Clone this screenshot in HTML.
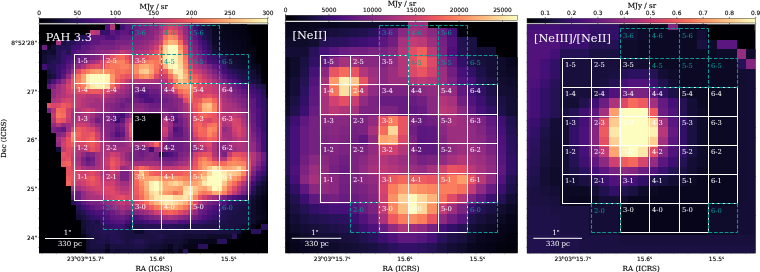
<!DOCTYPE html><html><head><meta charset="utf-8"><title>figure</title><style>html,body{margin:0;padding:0;background:#fff}svg{display:block;font-family:"DejaVu Serif","Liberation Serif",serif}</style></head><body>
<svg width="760" height="272" viewBox="0 0 760 272">
<rect width="760" height="272" fill="#fff"/>
<defs><linearGradient id="mg" x1="0" x2="1" y1="0" y2="0">
<stop offset="0.0000" stop-color="#000004"/>
<stop offset="0.0312" stop-color="#030312"/>
<stop offset="0.0625" stop-color="#0a0822"/>
<stop offset="0.0938" stop-color="#130d34"/>
<stop offset="0.1250" stop-color="#1d1147"/>
<stop offset="0.1562" stop-color="#29115a"/>
<stop offset="0.1875" stop-color="#36106b"/>
<stop offset="0.2188" stop-color="#440f76"/>
<stop offset="0.2500" stop-color="#51127c"/>
<stop offset="0.2812" stop-color="#5d177f"/>
<stop offset="0.3125" stop-color="#6a1c81"/>
<stop offset="0.3438" stop-color="#762181"/>
<stop offset="0.3750" stop-color="#832681"/>
<stop offset="0.4062" stop-color="#902a81"/>
<stop offset="0.4375" stop-color="#9c2e7f"/>
<stop offset="0.4688" stop-color="#aa337d"/>
<stop offset="0.5000" stop-color="#b73779"/>
<stop offset="0.5312" stop-color="#c43c75"/>
<stop offset="0.5625" stop-color="#d0416f"/>
<stop offset="0.5938" stop-color="#dc4869"/>
<stop offset="0.6250" stop-color="#e75263"/>
<stop offset="0.6562" stop-color="#ef5d5e"/>
<stop offset="0.6875" stop-color="#f56b5c"/>
<stop offset="0.7188" stop-color="#f9795d"/>
<stop offset="0.7500" stop-color="#fc8961"/>
<stop offset="0.7812" stop-color="#fd9869"/>
<stop offset="0.8125" stop-color="#fea772"/>
<stop offset="0.8438" stop-color="#feb67c"/>
<stop offset="0.8750" stop-color="#fec488"/>
<stop offset="0.9062" stop-color="#fed395"/>
<stop offset="0.9375" stop-color="#fde2a3"/>
<stop offset="0.9688" stop-color="#fcf0b2"/>
<stop offset="1.0000" stop-color="#fcfdbf"/>
</linearGradient></defs>
<clipPath id="cp1"><rect x="39" y="24.3" width="229" height="229"/></clipPath>
<rect x="39" y="24.3" width="229" height="229" fill="#000004"/>
<g clip-path="url(#cp1)" shape-rendering="crispEdges">
<rect x="105.03" y="20.75" width="5.17" height="5.15" fill="#4e117b"/>
<rect x="109.9" y="20.75" width="5.17" height="5.15" fill="#b3367a"/>
<rect x="114.77" y="20.75" width="5.17" height="5.15" fill="#03030f"/>
<rect x="119.64" y="20.75" width="5.17" height="5.15" fill="#420f75"/>
<rect x="124.51" y="20.75" width="10.04" height="5.15" fill="#5d177f"/>
<rect x="134.25" y="20.75" width="5.17" height="5.15" fill="#6d1d81"/>
<rect x="139.12" y="20.75" width="10.04" height="5.15" fill="#782281"/>
<rect x="148.86" y="20.75" width="5.17" height="5.15" fill="#832681"/>
<rect x="153.73" y="20.75" width="5.17" height="5.15" fill="#882781"/>
<rect x="158.6" y="20.75" width="5.17" height="5.15" fill="#a02f7f"/>
<rect x="163.47" y="20.75" width="5.17" height="5.15" fill="#c23b75"/>
<rect x="168.34" y="20.75" width="5.17" height="5.15" fill="#d6456c"/>
<rect x="173.21" y="20.75" width="5.17" height="5.15" fill="#cf4070"/>
<rect x="178.08" y="20.75" width="5.17" height="5.15" fill="#b3367a"/>
<rect x="182.95" y="20.75" width="5.17" height="5.15" fill="#912b81"/>
<rect x="187.82" y="20.75" width="5.17" height="5.15" fill="#6d1d81"/>
<rect x="192.69" y="20.75" width="5.17" height="5.15" fill="#420f75"/>
<rect x="197.56" y="20.75" width="5.17" height="5.15" fill="#251255"/>
<rect x="202.43" y="20.75" width="5.17" height="5.15" fill="#1a1042"/>
<rect x="207.3" y="20.75" width="5.17" height="5.15" fill="#140e36"/>
<rect x="212.17" y="20.75" width="5.17" height="5.15" fill="#08071e"/>
<rect x="217.04" y="20.75" width="5.17" height="5.15" fill="#07061c"/>
<rect x="221.91" y="20.75" width="10.04" height="5.15" fill="#060518"/>
<rect x="231.65" y="20.75" width="10.04" height="5.15" fill="#040414"/>
<rect x="241.39" y="20.75" width="5.17" height="5.15" fill="#030312"/>
<rect x="105.03" y="25.6" width="5.17" height="5.15" fill="#4e117b"/>
<rect x="109.9" y="25.6" width="5.17" height="5.15" fill="#b3367a"/>
<rect x="114.77" y="25.6" width="5.17" height="5.15" fill="#03030f"/>
<rect x="119.64" y="25.6" width="5.17" height="5.15" fill="#420f75"/>
<rect x="124.51" y="25.6" width="10.04" height="5.15" fill="#5d177f"/>
<rect x="134.25" y="25.6" width="5.17" height="5.15" fill="#6d1d81"/>
<rect x="139.12" y="25.6" width="10.04" height="5.15" fill="#782281"/>
<rect x="148.86" y="25.6" width="5.17" height="5.15" fill="#832681"/>
<rect x="153.73" y="25.6" width="5.17" height="5.15" fill="#882781"/>
<rect x="158.6" y="25.6" width="5.17" height="5.15" fill="#a02f7f"/>
<rect x="163.47" y="25.6" width="5.17" height="5.15" fill="#c23b75"/>
<rect x="168.34" y="25.6" width="5.17" height="5.15" fill="#d6456c"/>
<rect x="173.21" y="25.6" width="5.17" height="5.15" fill="#cf4070"/>
<rect x="178.08" y="25.6" width="5.17" height="5.15" fill="#b3367a"/>
<rect x="182.95" y="25.6" width="5.17" height="5.15" fill="#912b81"/>
<rect x="187.82" y="25.6" width="5.17" height="5.15" fill="#6d1d81"/>
<rect x="192.69" y="25.6" width="5.17" height="5.15" fill="#420f75"/>
<rect x="197.56" y="25.6" width="5.17" height="5.15" fill="#251255"/>
<rect x="202.43" y="25.6" width="5.17" height="5.15" fill="#1a1042"/>
<rect x="207.3" y="25.6" width="5.17" height="5.15" fill="#140e36"/>
<rect x="212.17" y="25.6" width="5.17" height="5.15" fill="#08071e"/>
<rect x="217.04" y="25.6" width="5.17" height="5.15" fill="#07061c"/>
<rect x="221.91" y="25.6" width="10.04" height="5.15" fill="#060518"/>
<rect x="231.65" y="25.6" width="10.04" height="5.15" fill="#040414"/>
<rect x="241.39" y="25.6" width="5.17" height="5.15" fill="#030312"/>
<rect x="90.42" y="30.45" width="5.17" height="5.15" fill="#c23b75"/>
<rect x="95.29" y="30.45" width="5.17" height="5.15" fill="#b3367a"/>
<rect x="100.16" y="30.45" width="10.04" height="5.15" fill="#36106b"/>
<rect x="109.9" y="30.45" width="5.17" height="5.15" fill="#5d177f"/>
<rect x="114.77" y="30.45" width="5.17" height="5.15" fill="#4e117b"/>
<rect x="119.64" y="30.45" width="10.04" height="5.15" fill="#5d177f"/>
<rect x="129.38" y="30.45" width="5.17" height="5.15" fill="#4e117b"/>
<rect x="134.25" y="30.45" width="5.17" height="5.15" fill="#6d1d81"/>
<rect x="139.12" y="30.45" width="10.04" height="5.15" fill="#782281"/>
<rect x="148.86" y="30.45" width="5.17" height="5.15" fill="#832681"/>
<rect x="153.73" y="30.45" width="5.17" height="5.15" fill="#912b81"/>
<rect x="158.6" y="30.45" width="5.17" height="5.15" fill="#aa337d"/>
<rect x="163.47" y="30.45" width="5.17" height="5.15" fill="#de4968"/>
<rect x="168.34" y="30.45" width="5.17" height="5.15" fill="#f2645c"/>
<rect x="173.21" y="30.45" width="5.17" height="5.15" fill="#e75263"/>
<rect x="178.08" y="30.45" width="5.17" height="5.15" fill="#c23b75"/>
<rect x="182.95" y="30.45" width="5.17" height="5.15" fill="#912b81"/>
<rect x="187.82" y="30.45" width="5.17" height="5.15" fill="#782281"/>
<rect x="192.69" y="30.45" width="5.17" height="5.15" fill="#4e117b"/>
<rect x="197.56" y="30.45" width="5.17" height="5.15" fill="#311165"/>
<rect x="202.43" y="30.45" width="5.17" height="5.15" fill="#1e1149"/>
<rect x="207.3" y="30.45" width="5.17" height="5.15" fill="#180f3d"/>
<rect x="212.17" y="30.45" width="5.17" height="5.15" fill="#0a0822"/>
<rect x="217.04" y="30.45" width="5.17" height="5.15" fill="#08071e"/>
<rect x="221.91" y="30.45" width="10.04" height="5.15" fill="#07061c"/>
<rect x="231.65" y="30.45" width="5.17" height="5.15" fill="#060518"/>
<rect x="236.52" y="30.45" width="10.04" height="5.15" fill="#040414"/>
<rect x="246.26" y="30.45" width="5.17" height="5.15" fill="#02020d"/>
<rect x="75.81" y="35.3" width="10.04" height="5.15" fill="#251255"/>
<rect x="85.55" y="35.3" width="5.17" height="5.15" fill="#36106b"/>
<rect x="90.42" y="35.3" width="14.91" height="5.15" fill="#5d177f"/>
<rect x="105.03" y="35.3" width="10.04" height="5.15" fill="#4e117b"/>
<rect x="114.77" y="35.3" width="5.17" height="5.15" fill="#5d177f"/>
<rect x="119.64" y="35.3" width="14.91" height="5.15" fill="#6d1d81"/>
<rect x="134.25" y="35.3" width="10.04" height="5.15" fill="#782281"/>
<rect x="143.99" y="35.3" width="5.17" height="5.15" fill="#832681"/>
<rect x="148.86" y="35.3" width="5.17" height="5.15" fill="#882781"/>
<rect x="153.73" y="35.3" width="5.17" height="5.15" fill="#a02f7f"/>
<rect x="158.6" y="35.3" width="5.17" height="5.15" fill="#c23b75"/>
<rect x="163.47" y="35.3" width="5.17" height="5.15" fill="#f56b5c"/>
<rect x="168.34" y="35.3" width="5.17" height="5.15" fill="#fc8e64"/>
<rect x="173.21" y="35.3" width="5.17" height="5.15" fill="#fa815f"/>
<rect x="178.08" y="35.3" width="5.17" height="5.15" fill="#d6456c"/>
<rect x="182.95" y="35.3" width="5.17" height="5.15" fill="#a02f7f"/>
<rect x="187.82" y="35.3" width="5.17" height="5.15" fill="#782281"/>
<rect x="192.69" y="35.3" width="5.17" height="5.15" fill="#5d177f"/>
<rect x="197.56" y="35.3" width="5.17" height="5.15" fill="#420f75"/>
<rect x="202.43" y="35.3" width="5.17" height="5.15" fill="#251255"/>
<rect x="207.3" y="35.3" width="5.17" height="5.15" fill="#1a1042"/>
<rect x="212.17" y="35.3" width="5.17" height="5.15" fill="#0c0926"/>
<rect x="217.04" y="35.3" width="5.17" height="5.15" fill="#0a0822"/>
<rect x="221.91" y="35.3" width="5.17" height="5.15" fill="#08071e"/>
<rect x="226.78" y="35.3" width="10.04" height="5.15" fill="#07061c"/>
<rect x="236.52" y="35.3" width="5.17" height="5.15" fill="#060518"/>
<rect x="241.39" y="35.3" width="5.17" height="5.15" fill="#040414"/>
<rect x="246.26" y="35.3" width="5.17" height="5.15" fill="#030312"/>
<rect x="51.46" y="40.15" width="5.17" height="5.15" fill="#06051a"/>
<rect x="56.33" y="40.15" width="5.17" height="5.15" fill="#aa337d"/>
<rect x="61.2" y="40.15" width="5.17" height="5.15" fill="#1a1042"/>
<rect x="66.07" y="40.15" width="10.04" height="5.15" fill="#251255"/>
<rect x="75.81" y="40.15" width="5.17" height="5.15" fill="#36106b"/>
<rect x="80.68" y="40.15" width="5.17" height="5.15" fill="#420f75"/>
<rect x="85.55" y="40.15" width="5.17" height="5.15" fill="#4e117b"/>
<rect x="90.42" y="40.15" width="10.04" height="5.15" fill="#5d177f"/>
<rect x="100.16" y="40.15" width="14.91" height="5.15" fill="#6d1d81"/>
<rect x="114.77" y="40.15" width="14.91" height="5.15" fill="#782281"/>
<rect x="129.38" y="40.15" width="10.04" height="5.15" fill="#832681"/>
<rect x="139.12" y="40.15" width="5.17" height="5.15" fill="#882781"/>
<rect x="143.99" y="40.15" width="5.17" height="5.15" fill="#912b81"/>
<rect x="148.86" y="40.15" width="5.17" height="5.15" fill="#a02f7f"/>
<rect x="153.73" y="40.15" width="5.17" height="5.15" fill="#b3367a"/>
<rect x="158.6" y="40.15" width="5.17" height="5.15" fill="#d6456c"/>
<rect x="163.47" y="40.15" width="5.17" height="5.15" fill="#fc8e64"/>
<rect x="168.34" y="40.15" width="5.17" height="5.15" fill="#feb77e"/>
<rect x="173.21" y="40.15" width="5.17" height="5.15" fill="#feae77"/>
<rect x="178.08" y="40.15" width="5.17" height="5.15" fill="#f56b5c"/>
<rect x="182.95" y="40.15" width="5.17" height="5.15" fill="#b3367a"/>
<rect x="187.82" y="40.15" width="5.17" height="5.15" fill="#882781"/>
<rect x="192.69" y="40.15" width="5.17" height="5.15" fill="#6d1d81"/>
<rect x="197.56" y="40.15" width="5.17" height="5.15" fill="#4e117b"/>
<rect x="202.43" y="40.15" width="5.17" height="5.15" fill="#36106b"/>
<rect x="207.3" y="40.15" width="5.17" height="5.15" fill="#21114e"/>
<rect x="212.17" y="40.15" width="5.17" height="5.15" fill="#0d0a29"/>
<rect x="217.04" y="40.15" width="5.17" height="5.15" fill="#0c0926"/>
<rect x="221.91" y="40.15" width="5.17" height="5.15" fill="#0a0822"/>
<rect x="226.78" y="40.15" width="5.17" height="5.15" fill="#08071e"/>
<rect x="231.65" y="40.15" width="10.04" height="5.15" fill="#07061c"/>
<rect x="241.39" y="40.15" width="5.17" height="5.15" fill="#060518"/>
<rect x="246.26" y="40.15" width="5.17" height="5.15" fill="#030312"/>
<rect x="36.85" y="45" width="5.17" height="5.15" fill="#06051a"/>
<rect x="41.72" y="45" width="5.17" height="5.15" fill="#6d1d81"/>
<rect x="46.59" y="45" width="5.17" height="5.15" fill="#06051a"/>
<rect x="51.46" y="45" width="5.17" height="5.15" fill="#140e36"/>
<rect x="56.33" y="45" width="14.91" height="5.15" fill="#251255"/>
<rect x="70.94" y="45" width="10.04" height="5.15" fill="#420f75"/>
<rect x="80.68" y="45" width="10.04" height="5.15" fill="#5d177f"/>
<rect x="90.42" y="45" width="5.17" height="5.15" fill="#6d1d81"/>
<rect x="95.29" y="45" width="19.78" height="5.15" fill="#782281"/>
<rect x="114.77" y="45" width="5.17" height="5.15" fill="#832681"/>
<rect x="119.64" y="45" width="19.78" height="5.15" fill="#912b81"/>
<rect x="139.12" y="45" width="5.17" height="5.15" fill="#962c80"/>
<rect x="143.99" y="45" width="5.17" height="5.15" fill="#a02f7f"/>
<rect x="148.86" y="45" width="5.17" height="5.15" fill="#b3367a"/>
<rect x="153.73" y="45" width="5.17" height="5.15" fill="#cf4070"/>
<rect x="158.6" y="45" width="5.17" height="5.15" fill="#f8765c"/>
<rect x="163.47" y="45" width="5.17" height="5.15" fill="#fed89a"/>
<rect x="168.34" y="45" width="10.04" height="5.15" fill="#fcfdbf"/>
<rect x="178.08" y="45" width="5.17" height="5.15" fill="#fd9869"/>
<rect x="182.95" y="45" width="5.17" height="5.15" fill="#e75263"/>
<rect x="187.82" y="45" width="5.17" height="5.15" fill="#912b81"/>
<rect x="192.69" y="45" width="5.17" height="5.15" fill="#782281"/>
<rect x="197.56" y="45" width="5.17" height="5.15" fill="#5d177f"/>
<rect x="202.43" y="45" width="5.17" height="5.15" fill="#420f75"/>
<rect x="207.3" y="45" width="5.17" height="5.15" fill="#2a115c"/>
<rect x="212.17" y="45" width="5.17" height="5.15" fill="#120d31"/>
<rect x="217.04" y="45" width="5.17" height="5.15" fill="#0d0a29"/>
<rect x="221.91" y="45" width="5.17" height="5.15" fill="#0c0926"/>
<rect x="226.78" y="45" width="5.17" height="5.15" fill="#0a0822"/>
<rect x="231.65" y="45" width="5.17" height="5.15" fill="#08071e"/>
<rect x="236.52" y="45" width="5.17" height="5.15" fill="#07061c"/>
<rect x="241.39" y="45" width="5.17" height="5.15" fill="#060518"/>
<rect x="246.26" y="45" width="5.17" height="5.15" fill="#040414"/>
<rect x="251.13" y="45" width="5.17" height="5.15" fill="#03030f"/>
<rect x="36.85" y="49.85" width="5.17" height="5.15" fill="#03030f"/>
<rect x="41.72" y="49.85" width="5.17" height="5.15" fill="#0e0b2b"/>
<rect x="46.59" y="49.85" width="5.17" height="5.15" fill="#140e36"/>
<rect x="51.46" y="49.85" width="5.17" height="5.15" fill="#0e0b2b"/>
<rect x="56.33" y="49.85" width="5.17" height="5.15" fill="#251255"/>
<rect x="61.2" y="49.85" width="5.17" height="5.15" fill="#36106b"/>
<rect x="66.07" y="49.85" width="5.17" height="5.15" fill="#251255"/>
<rect x="70.94" y="49.85" width="5.17" height="5.15" fill="#4e117b"/>
<rect x="75.81" y="49.85" width="10.04" height="5.15" fill="#5d177f"/>
<rect x="85.55" y="49.85" width="5.17" height="5.15" fill="#6d1d81"/>
<rect x="90.42" y="49.85" width="5.17" height="5.15" fill="#782281"/>
<rect x="95.29" y="49.85" width="5.17" height="5.15" fill="#832681"/>
<rect x="100.16" y="49.85" width="10.04" height="5.15" fill="#912b81"/>
<rect x="109.9" y="49.85" width="5.17" height="5.15" fill="#a02f7f"/>
<rect x="114.77" y="49.85" width="5.17" height="5.15" fill="#aa337d"/>
<rect x="119.64" y="49.85" width="5.17" height="5.15" fill="#c23b75"/>
<rect x="124.51" y="49.85" width="5.17" height="5.15" fill="#b3367a"/>
<rect x="129.38" y="49.85" width="5.17" height="5.15" fill="#aa337d"/>
<rect x="134.25" y="49.85" width="5.17" height="5.15" fill="#a02f7f"/>
<rect x="139.12" y="49.85" width="5.17" height="5.15" fill="#aa337d"/>
<rect x="143.99" y="49.85" width="5.17" height="5.15" fill="#b3367a"/>
<rect x="148.86" y="49.85" width="5.17" height="5.15" fill="#cf4070"/>
<rect x="153.73" y="49.85" width="5.17" height="5.15" fill="#e75263"/>
<rect x="158.6" y="49.85" width="5.17" height="5.15" fill="#fb8761"/>
<rect x="163.47" y="49.85" width="5.17" height="5.15" fill="#fed89a"/>
<rect x="168.34" y="49.85" width="10.04" height="5.15" fill="#fcfdbf"/>
<rect x="178.08" y="49.85" width="5.17" height="5.15" fill="#fea973"/>
<rect x="182.95" y="49.85" width="5.17" height="5.15" fill="#e75263"/>
<rect x="187.82" y="49.85" width="5.17" height="5.15" fill="#a02f7f"/>
<rect x="192.69" y="49.85" width="5.17" height="5.15" fill="#832681"/>
<rect x="197.56" y="49.85" width="5.17" height="5.15" fill="#6d1d81"/>
<rect x="202.43" y="49.85" width="5.17" height="5.15" fill="#4e117b"/>
<rect x="207.3" y="49.85" width="5.17" height="5.15" fill="#36106b"/>
<rect x="212.17" y="49.85" width="5.17" height="5.15" fill="#150e38"/>
<rect x="217.04" y="49.85" width="5.17" height="5.15" fill="#120d31"/>
<rect x="221.91" y="49.85" width="5.17" height="5.15" fill="#0d0a29"/>
<rect x="226.78" y="49.85" width="5.17" height="5.15" fill="#0c0926"/>
<rect x="231.65" y="49.85" width="5.17" height="5.15" fill="#0a0822"/>
<rect x="236.52" y="49.85" width="5.17" height="5.15" fill="#08071e"/>
<rect x="241.39" y="49.85" width="5.17" height="5.15" fill="#07061c"/>
<rect x="246.26" y="49.85" width="5.17" height="5.15" fill="#060518"/>
<rect x="251.13" y="49.85" width="5.17" height="5.15" fill="#050416"/>
<rect x="36.85" y="54.7" width="5.17" height="5.15" fill="#03030f"/>
<rect x="41.72" y="54.7" width="5.17" height="5.15" fill="#140e36"/>
<rect x="46.59" y="54.7" width="10.04" height="5.15" fill="#1a1042"/>
<rect x="56.33" y="54.7" width="5.17" height="5.15" fill="#251255"/>
<rect x="61.2" y="54.7" width="5.17" height="5.15" fill="#36106b"/>
<rect x="66.07" y="54.7" width="5.17" height="5.15" fill="#420f75"/>
<rect x="70.94" y="54.7" width="5.17" height="5.15" fill="#4e117b"/>
<rect x="75.81" y="54.7" width="5.17" height="5.15" fill="#5d177f"/>
<rect x="80.68" y="54.7" width="10.04" height="5.15" fill="#6d1d81"/>
<rect x="90.42" y="54.7" width="5.17" height="5.15" fill="#782281"/>
<rect x="95.29" y="54.7" width="5.17" height="5.15" fill="#832681"/>
<rect x="100.16" y="54.7" width="5.17" height="5.15" fill="#a02f7f"/>
<rect x="105.03" y="54.7" width="5.17" height="5.15" fill="#c23b75"/>
<rect x="109.9" y="54.7" width="5.17" height="5.15" fill="#e75263"/>
<rect x="114.77" y="54.7" width="5.17" height="5.15" fill="#f2645c"/>
<rect x="119.64" y="54.7" width="5.17" height="5.15" fill="#f56b5c"/>
<rect x="124.51" y="54.7" width="5.17" height="5.15" fill="#e75263"/>
<rect x="129.38" y="54.7" width="5.17" height="5.15" fill="#cf4070"/>
<rect x="134.25" y="54.7" width="5.17" height="5.15" fill="#c23b75"/>
<rect x="139.12" y="54.7" width="5.17" height="5.15" fill="#d6456c"/>
<rect x="143.99" y="54.7" width="5.17" height="5.15" fill="#e75263"/>
<rect x="148.86" y="54.7" width="5.17" height="5.15" fill="#f2645c"/>
<rect x="153.73" y="54.7" width="5.17" height="5.15" fill="#f56b5c"/>
<rect x="158.6" y="54.7" width="5.17" height="5.15" fill="#fd9869"/>
<rect x="163.47" y="54.7" width="5.17" height="5.15" fill="#fde7a9"/>
<rect x="168.34" y="54.7" width="5.17" height="5.15" fill="#fcfdbf"/>
<rect x="173.21" y="54.7" width="5.17" height="5.15" fill="#fcf4b6"/>
<rect x="178.08" y="54.7" width="5.17" height="5.15" fill="#fec68a"/>
<rect x="182.95" y="54.7" width="5.17" height="5.15" fill="#f8765c"/>
<rect x="187.82" y="54.7" width="5.17" height="5.15" fill="#b3367a"/>
<rect x="192.69" y="54.7" width="5.17" height="5.15" fill="#912b81"/>
<rect x="197.56" y="54.7" width="5.17" height="5.15" fill="#782281"/>
<rect x="202.43" y="54.7" width="5.17" height="5.15" fill="#5d177f"/>
<rect x="207.3" y="54.7" width="5.17" height="5.15" fill="#420f75"/>
<rect x="212.17" y="54.7" width="5.17" height="5.15" fill="#36106b"/>
<rect x="217.04" y="54.7" width="5.17" height="5.15" fill="#2a115c"/>
<rect x="221.91" y="54.7" width="5.17" height="5.15" fill="#21114e"/>
<rect x="226.78" y="54.7" width="5.17" height="5.15" fill="#130d34"/>
<rect x="231.65" y="54.7" width="5.17" height="5.15" fill="#110c2f"/>
<rect x="236.52" y="54.7" width="5.17" height="5.15" fill="#0e0b2b"/>
<rect x="241.39" y="54.7" width="5.17" height="5.15" fill="#0c0926"/>
<rect x="246.26" y="54.7" width="5.17" height="5.15" fill="#0a0822"/>
<rect x="251.13" y="54.7" width="5.17" height="5.15" fill="#050416"/>
<rect x="36.85" y="59.55" width="5.17" height="5.15" fill="#03030f"/>
<rect x="41.72" y="59.55" width="5.17" height="5.15" fill="#140e36"/>
<rect x="46.59" y="59.55" width="5.17" height="5.15" fill="#1e1149"/>
<rect x="51.46" y="59.55" width="10.04" height="5.15" fill="#251255"/>
<rect x="61.2" y="59.55" width="5.17" height="5.15" fill="#36106b"/>
<rect x="66.07" y="59.55" width="5.17" height="5.15" fill="#4e117b"/>
<rect x="70.94" y="59.55" width="5.17" height="5.15" fill="#5d177f"/>
<rect x="75.81" y="59.55" width="5.17" height="5.15" fill="#782281"/>
<rect x="80.68" y="59.55" width="5.17" height="5.15" fill="#832681"/>
<rect x="85.55" y="59.55" width="5.17" height="5.15" fill="#912b81"/>
<rect x="90.42" y="59.55" width="5.17" height="5.15" fill="#a02f7f"/>
<rect x="95.29" y="59.55" width="5.17" height="5.15" fill="#b3367a"/>
<rect x="100.16" y="59.55" width="5.17" height="5.15" fill="#d6456c"/>
<rect x="105.03" y="59.55" width="5.17" height="5.15" fill="#ee5b5e"/>
<rect x="109.9" y="59.55" width="5.17" height="5.15" fill="#f8765c"/>
<rect x="114.77" y="59.55" width="10.04" height="5.15" fill="#fa815f"/>
<rect x="124.51" y="59.55" width="5.17" height="5.15" fill="#f2645c"/>
<rect x="129.38" y="59.55" width="5.17" height="5.15" fill="#de4968"/>
<rect x="134.25" y="59.55" width="5.17" height="5.15" fill="#d6456c"/>
<rect x="139.12" y="59.55" width="5.17" height="5.15" fill="#ee5b5e"/>
<rect x="143.99" y="59.55" width="5.17" height="5.15" fill="#f8765c"/>
<rect x="148.86" y="59.55" width="5.17" height="5.15" fill="#fa815f"/>
<rect x="153.73" y="59.55" width="5.17" height="5.15" fill="#f8765c"/>
<rect x="158.6" y="59.55" width="5.17" height="5.15" fill="#fc8e64"/>
<rect x="163.47" y="59.55" width="5.17" height="5.15" fill="#fde7a9"/>
<rect x="168.34" y="59.55" width="5.17" height="5.15" fill="#fcfdbf"/>
<rect x="173.21" y="59.55" width="5.17" height="5.15" fill="#fcf4b6"/>
<rect x="178.08" y="59.55" width="5.17" height="5.15" fill="#fecf92"/>
<rect x="182.95" y="59.55" width="5.17" height="5.15" fill="#fa815f"/>
<rect x="187.82" y="59.55" width="5.17" height="5.15" fill="#c23b75"/>
<rect x="192.69" y="59.55" width="5.17" height="5.15" fill="#a02f7f"/>
<rect x="197.56" y="59.55" width="5.17" height="5.15" fill="#832681"/>
<rect x="202.43" y="59.55" width="5.17" height="5.15" fill="#6d1d81"/>
<rect x="207.3" y="59.55" width="5.17" height="5.15" fill="#4e117b"/>
<rect x="212.17" y="59.55" width="5.17" height="5.15" fill="#420f75"/>
<rect x="217.04" y="59.55" width="5.17" height="5.15" fill="#36106b"/>
<rect x="221.91" y="59.55" width="5.17" height="5.15" fill="#251255"/>
<rect x="226.78" y="59.55" width="5.17" height="5.15" fill="#150e38"/>
<rect x="231.65" y="59.55" width="5.17" height="5.15" fill="#130d34"/>
<rect x="236.52" y="59.55" width="5.17" height="5.15" fill="#110c2f"/>
<rect x="241.39" y="59.55" width="5.17" height="5.15" fill="#0e0b2b"/>
<rect x="246.26" y="59.55" width="5.17" height="5.15" fill="#0c0926"/>
<rect x="251.13" y="59.55" width="5.17" height="5.15" fill="#06051a"/>
<rect x="256" y="59.55" width="5.17" height="5.15" fill="#02020b"/>
<rect x="41.72" y="64.4" width="5.17" height="5.15" fill="#420f75"/>
<rect x="46.59" y="64.4" width="10.04" height="5.15" fill="#251255"/>
<rect x="56.33" y="64.4" width="5.17" height="5.15" fill="#36106b"/>
<rect x="61.2" y="64.4" width="5.17" height="5.15" fill="#420f75"/>
<rect x="66.07" y="64.4" width="5.17" height="5.15" fill="#5d177f"/>
<rect x="70.94" y="64.4" width="5.17" height="5.15" fill="#782281"/>
<rect x="75.81" y="64.4" width="5.17" height="5.15" fill="#912b81"/>
<rect x="80.68" y="64.4" width="5.17" height="5.15" fill="#aa337d"/>
<rect x="85.55" y="64.4" width="5.17" height="5.15" fill="#cf4070"/>
<rect x="90.42" y="64.4" width="5.17" height="5.15" fill="#de4968"/>
<rect x="95.29" y="64.4" width="5.17" height="5.15" fill="#e75263"/>
<rect x="100.16" y="64.4" width="5.17" height="5.15" fill="#de4968"/>
<rect x="105.03" y="64.4" width="5.17" height="5.15" fill="#f56b5c"/>
<rect x="109.9" y="64.4" width="10.04" height="5.15" fill="#f8765c"/>
<rect x="119.64" y="64.4" width="10.04" height="5.15" fill="#fa815f"/>
<rect x="129.38" y="64.4" width="5.17" height="5.15" fill="#f56b5c"/>
<rect x="134.25" y="64.4" width="5.17" height="5.15" fill="#fb8761"/>
<rect x="139.12" y="64.4" width="5.17" height="5.15" fill="#fea973"/>
<rect x="143.99" y="64.4" width="5.17" height="5.15" fill="#feae77"/>
<rect x="148.86" y="64.4" width="5.17" height="5.15" fill="#fd9869"/>
<rect x="153.73" y="64.4" width="5.17" height="5.15" fill="#f8765c"/>
<rect x="158.6" y="64.4" width="5.17" height="5.15" fill="#f2645c"/>
<rect x="163.47" y="64.4" width="5.17" height="5.15" fill="#feb77e"/>
<rect x="168.34" y="64.4" width="5.17" height="5.15" fill="#fcf4b6"/>
<rect x="173.21" y="64.4" width="5.17" height="5.15" fill="#fcfdbf"/>
<rect x="178.08" y="64.4" width="5.17" height="5.15" fill="#fed89a"/>
<rect x="182.95" y="64.4" width="5.17" height="5.15" fill="#fc8e64"/>
<rect x="187.82" y="64.4" width="5.17" height="5.15" fill="#d6456c"/>
<rect x="192.69" y="64.4" width="5.17" height="5.15" fill="#b3367a"/>
<rect x="197.56" y="64.4" width="5.17" height="5.15" fill="#a02f7f"/>
<rect x="202.43" y="64.4" width="5.17" height="5.15" fill="#912b81"/>
<rect x="207.3" y="64.4" width="5.17" height="5.15" fill="#782281"/>
<rect x="212.17" y="64.4" width="5.17" height="5.15" fill="#5d177f"/>
<rect x="217.04" y="64.4" width="5.17" height="5.15" fill="#4e117b"/>
<rect x="221.91" y="64.4" width="5.17" height="5.15" fill="#36106b"/>
<rect x="226.78" y="64.4" width="5.17" height="5.15" fill="#1a1042"/>
<rect x="231.65" y="64.4" width="5.17" height="5.15" fill="#180f3d"/>
<rect x="236.52" y="64.4" width="5.17" height="5.15" fill="#130d34"/>
<rect x="241.39" y="64.4" width="5.17" height="5.15" fill="#110c2f"/>
<rect x="246.26" y="64.4" width="5.17" height="5.15" fill="#0e0b2b"/>
<rect x="251.13" y="64.4" width="5.17" height="5.15" fill="#0a0822"/>
<rect x="256" y="64.4" width="5.17" height="5.15" fill="#06051a"/>
<rect x="46.59" y="69.25" width="5.17" height="5.15" fill="#1a1042"/>
<rect x="51.46" y="69.25" width="5.17" height="5.15" fill="#251255"/>
<rect x="56.33" y="69.25" width="5.17" height="5.15" fill="#36106b"/>
<rect x="61.2" y="69.25" width="5.17" height="5.15" fill="#4e117b"/>
<rect x="66.07" y="69.25" width="5.17" height="5.15" fill="#6d1d81"/>
<rect x="70.94" y="69.25" width="5.17" height="5.15" fill="#a02f7f"/>
<rect x="75.81" y="69.25" width="5.17" height="5.15" fill="#de4968"/>
<rect x="80.68" y="69.25" width="5.17" height="5.15" fill="#f56b5c"/>
<rect x="85.55" y="69.25" width="5.17" height="5.15" fill="#fa815f"/>
<rect x="90.42" y="69.25" width="5.17" height="5.15" fill="#fd9869"/>
<rect x="95.29" y="69.25" width="5.17" height="5.15" fill="#fea36f"/>
<rect x="100.16" y="69.25" width="5.17" height="5.15" fill="#fd9869"/>
<rect x="105.03" y="69.25" width="5.17" height="5.15" fill="#fc8e64"/>
<rect x="109.9" y="69.25" width="5.17" height="5.15" fill="#fa815f"/>
<rect x="114.77" y="69.25" width="5.17" height="5.15" fill="#f56b5c"/>
<rect x="119.64" y="69.25" width="5.17" height="5.15" fill="#f8765c"/>
<rect x="124.51" y="69.25" width="5.17" height="5.15" fill="#f56b5c"/>
<rect x="129.38" y="69.25" width="5.17" height="5.15" fill="#f2645c"/>
<rect x="134.25" y="69.25" width="5.17" height="5.15" fill="#fc8e64"/>
<rect x="139.12" y="69.25" width="5.17" height="5.15" fill="#fec68a"/>
<rect x="143.99" y="69.25" width="5.17" height="5.15" fill="#fecf92"/>
<rect x="148.86" y="69.25" width="5.17" height="5.15" fill="#fea36f"/>
<rect x="153.73" y="69.25" width="5.17" height="5.15" fill="#f56b5c"/>
<rect x="158.6" y="69.25" width="5.17" height="5.15" fill="#de4968"/>
<rect x="163.47" y="69.25" width="5.17" height="5.15" fill="#ee5b5e"/>
<rect x="168.34" y="69.25" width="5.17" height="5.15" fill="#fea973"/>
<rect x="173.21" y="69.25" width="5.17" height="5.15" fill="#fcf0b2"/>
<rect x="178.08" y="69.25" width="5.17" height="5.15" fill="#fde7a9"/>
<rect x="182.95" y="69.25" width="5.17" height="5.15" fill="#fea36f"/>
<rect x="187.82" y="69.25" width="5.17" height="5.15" fill="#ee5b5e"/>
<rect x="192.69" y="69.25" width="5.17" height="5.15" fill="#cf4070"/>
<rect x="197.56" y="69.25" width="5.17" height="5.15" fill="#c23b75"/>
<rect x="202.43" y="69.25" width="5.17" height="5.15" fill="#aa337d"/>
<rect x="207.3" y="69.25" width="5.17" height="5.15" fill="#912b81"/>
<rect x="212.17" y="69.25" width="5.17" height="5.15" fill="#782281"/>
<rect x="217.04" y="69.25" width="5.17" height="5.15" fill="#5d177f"/>
<rect x="221.91" y="69.25" width="5.17" height="5.15" fill="#420f75"/>
<rect x="226.78" y="69.25" width="5.17" height="5.15" fill="#311165"/>
<rect x="231.65" y="69.25" width="5.17" height="5.15" fill="#251255"/>
<rect x="236.52" y="69.25" width="5.17" height="5.15" fill="#1e1149"/>
<rect x="241.39" y="69.25" width="5.17" height="5.15" fill="#1a1042"/>
<rect x="246.26" y="69.25" width="5.17" height="5.15" fill="#180f3d"/>
<rect x="251.13" y="69.25" width="5.17" height="5.15" fill="#120d31"/>
<rect x="256" y="69.25" width="5.17" height="5.15" fill="#090720"/>
<rect x="46.59" y="74.1" width="5.17" height="5.15" fill="#140e36"/>
<rect x="51.46" y="74.1" width="5.17" height="5.15" fill="#1a1042"/>
<rect x="56.33" y="74.1" width="5.17" height="5.15" fill="#36106b"/>
<rect x="61.2" y="74.1" width="5.17" height="5.15" fill="#5d177f"/>
<rect x="66.07" y="74.1" width="5.17" height="5.15" fill="#912b81"/>
<rect x="70.94" y="74.1" width="5.17" height="5.15" fill="#de4968"/>
<rect x="75.81" y="74.1" width="5.17" height="5.15" fill="#f8765c"/>
<rect x="80.68" y="74.1" width="5.17" height="5.15" fill="#fea36f"/>
<rect x="85.55" y="74.1" width="5.17" height="5.15" fill="#fcf0b2"/>
<rect x="90.42" y="74.1" width="14.91" height="5.15" fill="#fcfdbf"/>
<rect x="105.03" y="74.1" width="5.17" height="5.15" fill="#fcf4b6"/>
<rect x="109.9" y="74.1" width="5.17" height="5.15" fill="#fd9869"/>
<rect x="114.77" y="74.1" width="5.17" height="5.15" fill="#f56b5c"/>
<rect x="119.64" y="74.1" width="5.17" height="5.15" fill="#ee5b5e"/>
<rect x="124.51" y="74.1" width="10.04" height="5.15" fill="#e75263"/>
<rect x="134.25" y="74.1" width="5.17" height="5.15" fill="#f56b5c"/>
<rect x="139.12" y="74.1" width="5.17" height="5.15" fill="#fc8e64"/>
<rect x="143.99" y="74.1" width="5.17" height="5.15" fill="#fd9869"/>
<rect x="148.86" y="74.1" width="5.17" height="5.15" fill="#fa815f"/>
<rect x="153.73" y="74.1" width="5.17" height="5.15" fill="#de4968"/>
<rect x="158.6" y="74.1" width="5.17" height="5.15" fill="#c23b75"/>
<rect x="163.47" y="74.1" width="5.17" height="5.15" fill="#cf4070"/>
<rect x="168.34" y="74.1" width="5.17" height="5.15" fill="#f56b5c"/>
<rect x="173.21" y="74.1" width="5.17" height="5.15" fill="#feae77"/>
<rect x="178.08" y="74.1" width="5.17" height="5.15" fill="#fde7a9"/>
<rect x="182.95" y="74.1" width="5.17" height="5.15" fill="#feb77e"/>
<rect x="187.82" y="74.1" width="5.17" height="5.15" fill="#f56b5c"/>
<rect x="192.69" y="74.1" width="5.17" height="5.15" fill="#ee5b5e"/>
<rect x="197.56" y="74.1" width="5.17" height="5.15" fill="#de4968"/>
<rect x="202.43" y="74.1" width="5.17" height="5.15" fill="#c23b75"/>
<rect x="207.3" y="74.1" width="5.17" height="5.15" fill="#aa337d"/>
<rect x="212.17" y="74.1" width="5.17" height="5.15" fill="#912b81"/>
<rect x="217.04" y="74.1" width="5.17" height="5.15" fill="#782281"/>
<rect x="221.91" y="74.1" width="5.17" height="5.15" fill="#5d177f"/>
<rect x="226.78" y="74.1" width="5.17" height="5.15" fill="#420f75"/>
<rect x="231.65" y="74.1" width="5.17" height="5.15" fill="#36106b"/>
<rect x="236.52" y="74.1" width="5.17" height="5.15" fill="#251255"/>
<rect x="241.39" y="74.1" width="5.17" height="5.15" fill="#1e1149"/>
<rect x="246.26" y="74.1" width="5.17" height="5.15" fill="#1a1042"/>
<rect x="251.13" y="74.1" width="5.17" height="5.15" fill="#140e36"/>
<rect x="256" y="74.1" width="5.17" height="5.15" fill="#0e0b2b"/>
<rect x="46.59" y="78.95" width="5.17" height="5.15" fill="#251255"/>
<rect x="51.46" y="78.95" width="5.17" height="5.15" fill="#4e117b"/>
<rect x="56.33" y="78.95" width="5.17" height="5.15" fill="#6d1d81"/>
<rect x="61.2" y="78.95" width="5.17" height="5.15" fill="#912b81"/>
<rect x="66.07" y="78.95" width="5.17" height="5.15" fill="#c23b75"/>
<rect x="70.94" y="78.95" width="5.17" height="5.15" fill="#ee5b5e"/>
<rect x="75.81" y="78.95" width="5.17" height="5.15" fill="#fa815f"/>
<rect x="80.68" y="78.95" width="5.17" height="5.15" fill="#fea973"/>
<rect x="85.55" y="78.95" width="5.17" height="5.15" fill="#fcf0b2"/>
<rect x="90.42" y="78.95" width="14.91" height="5.15" fill="#fcfdbf"/>
<rect x="105.03" y="78.95" width="5.17" height="5.15" fill="#fcf4b6"/>
<rect x="109.9" y="78.95" width="5.17" height="5.15" fill="#fd9869"/>
<rect x="114.77" y="78.95" width="5.17" height="5.15" fill="#ee5b5e"/>
<rect x="119.64" y="78.95" width="5.17" height="5.15" fill="#de4968"/>
<rect x="124.51" y="78.95" width="5.17" height="5.15" fill="#c23b75"/>
<rect x="129.38" y="78.95" width="24.65" height="5.15" fill="#b3367a"/>
<rect x="153.73" y="78.95" width="5.17" height="5.15" fill="#aa337d"/>
<rect x="158.6" y="78.95" width="5.17" height="5.15" fill="#a02f7f"/>
<rect x="163.47" y="78.95" width="5.17" height="5.15" fill="#b3367a"/>
<rect x="168.34" y="78.95" width="5.17" height="5.15" fill="#de4968"/>
<rect x="173.21" y="78.95" width="5.17" height="5.15" fill="#fb8761"/>
<rect x="178.08" y="78.95" width="5.17" height="5.15" fill="#fec68a"/>
<rect x="182.95" y="78.95" width="5.17" height="5.15" fill="#feae77"/>
<rect x="187.82" y="78.95" width="5.17" height="5.15" fill="#fa815f"/>
<rect x="192.69" y="78.95" width="5.17" height="5.15" fill="#f56b5c"/>
<rect x="197.56" y="78.95" width="5.17" height="5.15" fill="#e75263"/>
<rect x="202.43" y="78.95" width="5.17" height="5.15" fill="#d6456c"/>
<rect x="207.3" y="78.95" width="5.17" height="5.15" fill="#c23b75"/>
<rect x="212.17" y="78.95" width="5.17" height="5.15" fill="#aa337d"/>
<rect x="217.04" y="78.95" width="5.17" height="5.15" fill="#912b81"/>
<rect x="221.91" y="78.95" width="5.17" height="5.15" fill="#782281"/>
<rect x="226.78" y="78.95" width="5.17" height="5.15" fill="#5d177f"/>
<rect x="231.65" y="78.95" width="5.17" height="5.15" fill="#4e117b"/>
<rect x="236.52" y="78.95" width="5.17" height="5.15" fill="#36106b"/>
<rect x="241.39" y="78.95" width="5.17" height="5.15" fill="#251255"/>
<rect x="246.26" y="78.95" width="5.17" height="5.15" fill="#21114e"/>
<rect x="251.13" y="78.95" width="5.17" height="5.15" fill="#1a1042"/>
<rect x="256" y="78.95" width="5.17" height="5.15" fill="#140e36"/>
<rect x="260.87" y="78.95" width="5.17" height="5.15" fill="#03030f"/>
<rect x="46.59" y="83.8" width="5.17" height="5.15" fill="#5d177f"/>
<rect x="51.46" y="83.8" width="5.17" height="5.15" fill="#782281"/>
<rect x="56.33" y="83.8" width="5.17" height="5.15" fill="#a02f7f"/>
<rect x="61.2" y="83.8" width="5.17" height="5.15" fill="#b3367a"/>
<rect x="66.07" y="83.8" width="5.17" height="5.15" fill="#d6456c"/>
<rect x="70.94" y="83.8" width="5.17" height="5.15" fill="#ee5b5e"/>
<rect x="75.81" y="83.8" width="5.17" height="5.15" fill="#f56b5c"/>
<rect x="80.68" y="83.8" width="5.17" height="5.15" fill="#fa815f"/>
<rect x="85.55" y="83.8" width="5.17" height="5.15" fill="#fec68a"/>
<rect x="90.42" y="83.8" width="5.17" height="5.15" fill="#fde7a9"/>
<rect x="95.29" y="83.8" width="5.17" height="5.15" fill="#fcf4b6"/>
<rect x="100.16" y="83.8" width="5.17" height="5.15" fill="#fcf0b2"/>
<rect x="105.03" y="83.8" width="5.17" height="5.15" fill="#fed89a"/>
<rect x="109.9" y="83.8" width="5.17" height="5.15" fill="#f56b5c"/>
<rect x="114.77" y="83.8" width="5.17" height="5.15" fill="#d6456c"/>
<rect x="119.64" y="83.8" width="5.17" height="5.15" fill="#b3367a"/>
<rect x="124.51" y="83.8" width="5.17" height="5.15" fill="#a02f7f"/>
<rect x="129.38" y="83.8" width="5.17" height="5.15" fill="#912b81"/>
<rect x="134.25" y="83.8" width="5.17" height="5.15" fill="#832681"/>
<rect x="139.12" y="83.8" width="10.04" height="5.15" fill="#782281"/>
<rect x="148.86" y="83.8" width="10.04" height="5.15" fill="#832681"/>
<rect x="158.6" y="83.8" width="5.17" height="5.15" fill="#912b81"/>
<rect x="163.47" y="83.8" width="5.17" height="5.15" fill="#aa337d"/>
<rect x="168.34" y="83.8" width="5.17" height="5.15" fill="#c23b75"/>
<rect x="173.21" y="83.8" width="5.17" height="5.15" fill="#f8765c"/>
<rect x="178.08" y="83.8" width="5.17" height="5.15" fill="#fd9869"/>
<rect x="182.95" y="83.8" width="5.17" height="5.15" fill="#fea36f"/>
<rect x="187.82" y="83.8" width="5.17" height="5.15" fill="#fd9869"/>
<rect x="192.69" y="83.8" width="5.17" height="5.15" fill="#ee5b5e"/>
<rect x="197.56" y="83.8" width="5.17" height="5.15" fill="#de4968"/>
<rect x="202.43" y="83.8" width="5.17" height="5.15" fill="#d6456c"/>
<rect x="207.3" y="83.8" width="5.17" height="5.15" fill="#cf4070"/>
<rect x="212.17" y="83.8" width="5.17" height="5.15" fill="#c23b75"/>
<rect x="217.04" y="83.8" width="5.17" height="5.15" fill="#b3367a"/>
<rect x="221.91" y="83.8" width="5.17" height="5.15" fill="#a02f7f"/>
<rect x="226.78" y="83.8" width="5.17" height="5.15" fill="#832681"/>
<rect x="231.65" y="83.8" width="5.17" height="5.15" fill="#6d1d81"/>
<rect x="236.52" y="83.8" width="5.17" height="5.15" fill="#5d177f"/>
<rect x="241.39" y="83.8" width="5.17" height="5.15" fill="#4e117b"/>
<rect x="246.26" y="83.8" width="5.17" height="5.15" fill="#420f75"/>
<rect x="251.13" y="83.8" width="5.17" height="5.15" fill="#36106b"/>
<rect x="256" y="83.8" width="5.17" height="5.15" fill="#251255"/>
<rect x="260.87" y="83.8" width="5.17" height="5.15" fill="#1a1042"/>
<rect x="51.46" y="88.65" width="5.17" height="5.15" fill="#912b81"/>
<rect x="56.33" y="88.65" width="5.17" height="5.15" fill="#a02f7f"/>
<rect x="61.2" y="88.65" width="5.17" height="5.15" fill="#b3367a"/>
<rect x="66.07" y="88.65" width="5.17" height="5.15" fill="#cf4070"/>
<rect x="70.94" y="88.65" width="10.04" height="5.15" fill="#de4968"/>
<rect x="80.68" y="88.65" width="10.04" height="5.15" fill="#e75263"/>
<rect x="90.42" y="88.65" width="10.04" height="5.15" fill="#ee5b5e"/>
<rect x="100.16" y="88.65" width="5.17" height="5.15" fill="#e75263"/>
<rect x="105.03" y="88.65" width="5.17" height="5.15" fill="#db476a"/>
<rect x="109.9" y="88.65" width="5.17" height="5.15" fill="#c53c74"/>
<rect x="114.77" y="88.65" width="5.17" height="5.15" fill="#aa337d"/>
<rect x="119.64" y="88.65" width="5.17" height="5.15" fill="#a02f7f"/>
<rect x="124.51" y="88.65" width="5.17" height="5.15" fill="#912b81"/>
<rect x="129.38" y="88.65" width="5.17" height="5.15" fill="#832681"/>
<rect x="134.25" y="88.65" width="5.17" height="5.15" fill="#6d1d81"/>
<rect x="139.12" y="88.65" width="10.04" height="5.15" fill="#5d177f"/>
<rect x="148.86" y="88.65" width="10.04" height="5.15" fill="#6d1d81"/>
<rect x="158.6" y="88.65" width="5.17" height="5.15" fill="#782281"/>
<rect x="163.47" y="88.65" width="5.17" height="5.15" fill="#912b81"/>
<rect x="168.34" y="88.65" width="5.17" height="5.15" fill="#a02f7f"/>
<rect x="173.21" y="88.65" width="5.17" height="5.15" fill="#d6456c"/>
<rect x="178.08" y="88.65" width="5.17" height="5.15" fill="#f56b5c"/>
<rect x="182.95" y="88.65" width="5.17" height="5.15" fill="#fa815f"/>
<rect x="187.82" y="88.65" width="5.17" height="5.15" fill="#fb8761"/>
<rect x="192.69" y="88.65" width="5.17" height="5.15" fill="#de4968"/>
<rect x="197.56" y="88.65" width="14.91" height="5.15" fill="#cf4070"/>
<rect x="212.17" y="88.65" width="5.17" height="5.15" fill="#c23b75"/>
<rect x="217.04" y="88.65" width="5.17" height="5.15" fill="#b3367a"/>
<rect x="221.91" y="88.65" width="5.17" height="5.15" fill="#a02f7f"/>
<rect x="226.78" y="88.65" width="5.17" height="5.15" fill="#912b81"/>
<rect x="231.65" y="88.65" width="5.17" height="5.15" fill="#782281"/>
<rect x="236.52" y="88.65" width="5.17" height="5.15" fill="#6d1d81"/>
<rect x="241.39" y="88.65" width="5.17" height="5.15" fill="#5d177f"/>
<rect x="246.26" y="88.65" width="5.17" height="5.15" fill="#4e117b"/>
<rect x="251.13" y="88.65" width="5.17" height="5.15" fill="#420f75"/>
<rect x="256" y="88.65" width="5.17" height="5.15" fill="#36106b"/>
<rect x="260.87" y="88.65" width="5.17" height="5.15" fill="#251255"/>
<rect x="51.46" y="93.5" width="5.17" height="5.15" fill="#912b81"/>
<rect x="56.33" y="93.5" width="5.17" height="5.15" fill="#aa337d"/>
<rect x="61.2" y="93.5" width="5.17" height="5.15" fill="#b3367a"/>
<rect x="66.07" y="93.5" width="19.78" height="5.15" fill="#c23b75"/>
<rect x="85.55" y="93.5" width="14.91" height="5.15" fill="#b3367a"/>
<rect x="100.16" y="93.5" width="5.17" height="5.15" fill="#c23b75"/>
<rect x="105.03" y="93.5" width="5.17" height="5.15" fill="#ae347b"/>
<rect x="109.9" y="93.5" width="5.17" height="5.15" fill="#a02f7f"/>
<rect x="114.77" y="93.5" width="10.04" height="5.15" fill="#912b81"/>
<rect x="124.51" y="93.5" width="5.17" height="5.15" fill="#832681"/>
<rect x="129.38" y="93.5" width="5.17" height="5.15" fill="#782281"/>
<rect x="134.25" y="93.5" width="5.17" height="5.15" fill="#5d177f"/>
<rect x="139.12" y="93.5" width="10.04" height="5.15" fill="#4e117b"/>
<rect x="148.86" y="93.5" width="10.04" height="5.15" fill="#5d177f"/>
<rect x="158.6" y="93.5" width="5.17" height="5.15" fill="#6d1d81"/>
<rect x="163.47" y="93.5" width="5.17" height="5.15" fill="#782281"/>
<rect x="168.34" y="93.5" width="5.17" height="5.15" fill="#832681"/>
<rect x="173.21" y="93.5" width="5.17" height="5.15" fill="#912b81"/>
<rect x="178.08" y="93.5" width="5.17" height="5.15" fill="#d6456c"/>
<rect x="182.95" y="93.5" width="5.17" height="5.15" fill="#f2645c"/>
<rect x="187.82" y="93.5" width="5.17" height="5.15" fill="#f8765c"/>
<rect x="192.69" y="93.5" width="5.17" height="5.15" fill="#de4968"/>
<rect x="197.56" y="93.5" width="5.17" height="5.15" fill="#d6456c"/>
<rect x="202.43" y="93.5" width="5.17" height="5.15" fill="#de4968"/>
<rect x="207.3" y="93.5" width="5.17" height="5.15" fill="#e75263"/>
<rect x="212.17" y="93.5" width="5.17" height="5.15" fill="#d6456c"/>
<rect x="217.04" y="93.5" width="5.17" height="5.15" fill="#c23b75"/>
<rect x="221.91" y="93.5" width="5.17" height="5.15" fill="#a02f7f"/>
<rect x="226.78" y="93.5" width="5.17" height="5.15" fill="#912b81"/>
<rect x="231.65" y="93.5" width="5.17" height="5.15" fill="#832681"/>
<rect x="236.52" y="93.5" width="5.17" height="5.15" fill="#782281"/>
<rect x="241.39" y="93.5" width="5.17" height="5.15" fill="#6d1d81"/>
<rect x="246.26" y="93.5" width="5.17" height="5.15" fill="#5d177f"/>
<rect x="251.13" y="93.5" width="5.17" height="5.15" fill="#4e117b"/>
<rect x="256" y="93.5" width="5.17" height="5.15" fill="#420f75"/>
<rect x="260.87" y="93.5" width="5.17" height="5.15" fill="#2a115c"/>
<rect x="265.74" y="93.5" width="5.17" height="5.15" fill="#06051a"/>
<rect x="51.46" y="98.35" width="5.17" height="5.15" fill="#aa337d"/>
<rect x="56.33" y="98.35" width="5.17" height="5.15" fill="#b3367a"/>
<rect x="61.2" y="98.35" width="5.17" height="5.15" fill="#cf4070"/>
<rect x="66.07" y="98.35" width="5.17" height="5.15" fill="#d6456c"/>
<rect x="70.94" y="98.35" width="5.17" height="5.15" fill="#cf4070"/>
<rect x="75.81" y="98.35" width="5.17" height="5.15" fill="#c23b75"/>
<rect x="80.68" y="98.35" width="5.17" height="5.15" fill="#b3367a"/>
<rect x="85.55" y="98.35" width="10.04" height="5.15" fill="#aa337d"/>
<rect x="95.29" y="98.35" width="5.17" height="5.15" fill="#a02f7f"/>
<rect x="100.16" y="98.35" width="5.17" height="5.15" fill="#aa337d"/>
<rect x="105.03" y="98.35" width="5.17" height="5.15" fill="#962c80"/>
<rect x="109.9" y="98.35" width="5.17" height="5.15" fill="#912b81"/>
<rect x="114.77" y="98.35" width="5.17" height="5.15" fill="#832681"/>
<rect x="119.64" y="98.35" width="5.17" height="5.15" fill="#782281"/>
<rect x="124.51" y="98.35" width="14.91" height="5.15" fill="#6d1d81"/>
<rect x="139.12" y="98.35" width="5.17" height="5.15" fill="#5d177f"/>
<rect x="143.99" y="98.35" width="10.04" height="5.15" fill="#4e117b"/>
<rect x="153.73" y="98.35" width="10.04" height="5.15" fill="#5d177f"/>
<rect x="163.47" y="98.35" width="5.17" height="5.15" fill="#6d1d81"/>
<rect x="168.34" y="98.35" width="5.17" height="5.15" fill="#782281"/>
<rect x="173.21" y="98.35" width="5.17" height="5.15" fill="#832681"/>
<rect x="178.08" y="98.35" width="5.17" height="5.15" fill="#912b81"/>
<rect x="182.95" y="98.35" width="5.17" height="5.15" fill="#de4968"/>
<rect x="187.82" y="98.35" width="5.17" height="5.15" fill="#f2645c"/>
<rect x="192.69" y="98.35" width="5.17" height="5.15" fill="#e75263"/>
<rect x="197.56" y="98.35" width="5.17" height="5.15" fill="#ee5b5e"/>
<rect x="202.43" y="98.35" width="5.17" height="5.15" fill="#fa815f"/>
<rect x="207.3" y="98.35" width="5.17" height="5.15" fill="#fb8761"/>
<rect x="212.17" y="98.35" width="5.17" height="5.15" fill="#f2645c"/>
<rect x="217.04" y="98.35" width="5.17" height="5.15" fill="#d6456c"/>
<rect x="221.91" y="98.35" width="5.17" height="5.15" fill="#aa337d"/>
<rect x="226.78" y="98.35" width="5.17" height="5.15" fill="#a02f7f"/>
<rect x="231.65" y="98.35" width="5.17" height="5.15" fill="#912b81"/>
<rect x="236.52" y="98.35" width="5.17" height="5.15" fill="#832681"/>
<rect x="241.39" y="98.35" width="5.17" height="5.15" fill="#782281"/>
<rect x="246.26" y="98.35" width="5.17" height="5.15" fill="#6d1d81"/>
<rect x="251.13" y="98.35" width="5.17" height="5.15" fill="#5d177f"/>
<rect x="256" y="98.35" width="5.17" height="5.15" fill="#420f75"/>
<rect x="260.87" y="98.35" width="5.17" height="5.15" fill="#311165"/>
<rect x="265.74" y="98.35" width="5.17" height="5.15" fill="#1a1042"/>
<rect x="46.59" y="103.2" width="5.17" height="5.15" fill="#e75263"/>
<rect x="51.46" y="103.2" width="5.17" height="5.15" fill="#d6456c"/>
<rect x="56.33" y="103.2" width="5.17" height="5.15" fill="#de4968"/>
<rect x="61.2" y="103.2" width="5.17" height="5.15" fill="#ee5b5e"/>
<rect x="66.07" y="103.2" width="5.17" height="5.15" fill="#e75263"/>
<rect x="70.94" y="103.2" width="5.17" height="5.15" fill="#d6456c"/>
<rect x="75.81" y="103.2" width="5.17" height="5.15" fill="#c23b75"/>
<rect x="80.68" y="103.2" width="5.17" height="5.15" fill="#b3367a"/>
<rect x="85.55" y="103.2" width="5.17" height="5.15" fill="#aa337d"/>
<rect x="90.42" y="103.2" width="14.91" height="5.15" fill="#a02f7f"/>
<rect x="105.03" y="103.2" width="5.17" height="5.15" fill="#882781"/>
<rect x="109.9" y="103.2" width="5.17" height="5.15" fill="#832681"/>
<rect x="114.77" y="103.2" width="5.17" height="5.15" fill="#782281"/>
<rect x="119.64" y="103.2" width="5.17" height="5.15" fill="#6d1d81"/>
<rect x="124.51" y="103.2" width="10.04" height="5.15" fill="#782281"/>
<rect x="134.25" y="103.2" width="10.04" height="5.15" fill="#832681"/>
<rect x="143.99" y="103.2" width="5.17" height="5.15" fill="#782281"/>
<rect x="148.86" y="103.2" width="14.91" height="5.15" fill="#6d1d81"/>
<rect x="163.47" y="103.2" width="10.04" height="5.15" fill="#782281"/>
<rect x="173.21" y="103.2" width="5.17" height="5.15" fill="#832681"/>
<rect x="178.08" y="103.2" width="5.17" height="5.15" fill="#912b81"/>
<rect x="182.95" y="103.2" width="5.17" height="5.15" fill="#ae347b"/>
<rect x="187.82" y="103.2" width="5.17" height="5.15" fill="#d6456c"/>
<rect x="192.69" y="103.2" width="5.17" height="5.15" fill="#ee5b5e"/>
<rect x="197.56" y="103.2" width="5.17" height="5.15" fill="#f8765c"/>
<rect x="202.43" y="103.2" width="5.17" height="5.15" fill="#feb77e"/>
<rect x="207.3" y="103.2" width="5.17" height="5.15" fill="#fec68a"/>
<rect x="212.17" y="103.2" width="5.17" height="5.15" fill="#fa815f"/>
<rect x="217.04" y="103.2" width="5.17" height="5.15" fill="#de4968"/>
<rect x="221.91" y="103.2" width="5.17" height="5.15" fill="#b3367a"/>
<rect x="226.78" y="103.2" width="5.17" height="5.15" fill="#aa337d"/>
<rect x="231.65" y="103.2" width="5.17" height="5.15" fill="#a02f7f"/>
<rect x="236.52" y="103.2" width="5.17" height="5.15" fill="#912b81"/>
<rect x="241.39" y="103.2" width="5.17" height="5.15" fill="#832681"/>
<rect x="246.26" y="103.2" width="5.17" height="5.15" fill="#6d1d81"/>
<rect x="251.13" y="103.2" width="5.17" height="5.15" fill="#5d177f"/>
<rect x="256" y="103.2" width="5.17" height="5.15" fill="#420f75"/>
<rect x="260.87" y="103.2" width="5.17" height="5.15" fill="#311165"/>
<rect x="265.74" y="103.2" width="5.17" height="5.15" fill="#1e1149"/>
<rect x="46.59" y="108.05" width="5.17" height="5.15" fill="#782281"/>
<rect x="51.46" y="108.05" width="5.17" height="5.15" fill="#b3367a"/>
<rect x="56.33" y="108.05" width="5.17" height="5.15" fill="#f56b5c"/>
<rect x="61.2" y="108.05" width="5.17" height="5.15" fill="#f2645c"/>
<rect x="66.07" y="108.05" width="5.17" height="5.15" fill="#cf4070"/>
<rect x="70.94" y="108.05" width="10.04" height="5.15" fill="#b3367a"/>
<rect x="80.68" y="108.05" width="5.17" height="5.15" fill="#c23b75"/>
<rect x="85.55" y="108.05" width="5.17" height="5.15" fill="#cf4070"/>
<rect x="90.42" y="108.05" width="5.17" height="5.15" fill="#c23b75"/>
<rect x="95.29" y="108.05" width="5.17" height="5.15" fill="#aa337d"/>
<rect x="100.16" y="108.05" width="5.17" height="5.15" fill="#a02f7f"/>
<rect x="105.03" y="108.05" width="5.17" height="5.15" fill="#912b81"/>
<rect x="109.9" y="108.05" width="5.17" height="5.15" fill="#832681"/>
<rect x="114.77" y="108.05" width="10.04" height="5.15" fill="#782281"/>
<rect x="124.51" y="108.05" width="10.04" height="5.15" fill="#832681"/>
<rect x="134.25" y="108.05" width="10.04" height="5.15" fill="#912b81"/>
<rect x="143.99" y="108.05" width="5.17" height="5.15" fill="#832681"/>
<rect x="148.86" y="108.05" width="10.04" height="5.15" fill="#782281"/>
<rect x="158.6" y="108.05" width="10.04" height="5.15" fill="#832681"/>
<rect x="168.34" y="108.05" width="10.04" height="5.15" fill="#782281"/>
<rect x="178.08" y="108.05" width="5.17" height="5.15" fill="#912b81"/>
<rect x="182.95" y="108.05" width="5.17" height="5.15" fill="#aa337d"/>
<rect x="187.82" y="108.05" width="5.17" height="5.15" fill="#cf4070"/>
<rect x="192.69" y="108.05" width="5.17" height="5.15" fill="#e75263"/>
<rect x="197.56" y="108.05" width="5.17" height="5.15" fill="#f56b5c"/>
<rect x="202.43" y="108.05" width="5.17" height="5.15" fill="#feae77"/>
<rect x="207.3" y="108.05" width="5.17" height="5.15" fill="#feb77e"/>
<rect x="212.17" y="108.05" width="5.17" height="5.15" fill="#fb8761"/>
<rect x="217.04" y="108.05" width="5.17" height="5.15" fill="#de4968"/>
<rect x="221.91" y="108.05" width="5.17" height="5.15" fill="#b3367a"/>
<rect x="226.78" y="108.05" width="10.04" height="5.15" fill="#aa337d"/>
<rect x="236.52" y="108.05" width="5.17" height="5.15" fill="#a02f7f"/>
<rect x="241.39" y="108.05" width="5.17" height="5.15" fill="#912b81"/>
<rect x="246.26" y="108.05" width="5.17" height="5.15" fill="#782281"/>
<rect x="251.13" y="108.05" width="5.17" height="5.15" fill="#5d177f"/>
<rect x="256" y="108.05" width="5.17" height="5.15" fill="#4e117b"/>
<rect x="260.87" y="108.05" width="5.17" height="5.15" fill="#36106b"/>
<rect x="265.74" y="108.05" width="5.17" height="5.15" fill="#1a1042"/>
<rect x="51.46" y="112.9" width="5.17" height="5.15" fill="#c23b75"/>
<rect x="56.33" y="112.9" width="5.17" height="5.15" fill="#f8765c"/>
<rect x="61.2" y="112.9" width="5.17" height="5.15" fill="#f56b5c"/>
<rect x="66.07" y="112.9" width="5.17" height="5.15" fill="#cf4070"/>
<rect x="70.94" y="112.9" width="5.17" height="5.15" fill="#aa337d"/>
<rect x="75.81" y="112.9" width="5.17" height="5.15" fill="#a02f7f"/>
<rect x="80.68" y="112.9" width="5.17" height="5.15" fill="#aa337d"/>
<rect x="85.55" y="112.9" width="5.17" height="5.15" fill="#b3367a"/>
<rect x="90.42" y="112.9" width="5.17" height="5.15" fill="#a02f7f"/>
<rect x="95.29" y="112.9" width="5.17" height="5.15" fill="#832681"/>
<rect x="100.16" y="112.9" width="10.04" height="5.15" fill="#782281"/>
<rect x="109.9" y="112.9" width="5.17" height="5.15" fill="#6d1d81"/>
<rect x="114.77" y="112.9" width="5.17" height="5.15" fill="#4e117b"/>
<rect x="119.64" y="112.9" width="5.17" height="5.15" fill="#420f75"/>
<rect x="124.51" y="112.9" width="5.17" height="5.15" fill="#6d1d81"/>
<rect x="129.38" y="112.9" width="5.17" height="5.15" fill="#912b81"/>
<rect x="134.25" y="112.9" width="29.52" height="5.15" fill="#782281"/>
<rect x="163.47" y="112.9" width="5.17" height="5.15" fill="#912b81"/>
<rect x="168.34" y="112.9" width="5.17" height="5.15" fill="#782281"/>
<rect x="173.21" y="112.9" width="5.17" height="5.15" fill="#5d177f"/>
<rect x="178.08" y="112.9" width="5.17" height="5.15" fill="#782281"/>
<rect x="182.95" y="112.9" width="5.17" height="5.15" fill="#962c80"/>
<rect x="187.82" y="112.9" width="5.17" height="5.15" fill="#b3367a"/>
<rect x="192.69" y="112.9" width="5.17" height="5.15" fill="#de4968"/>
<rect x="197.56" y="112.9" width="5.17" height="5.15" fill="#ee5b5e"/>
<rect x="202.43" y="112.9" width="5.17" height="5.15" fill="#f2645c"/>
<rect x="207.3" y="112.9" width="5.17" height="5.15" fill="#ee5b5e"/>
<rect x="212.17" y="112.9" width="5.17" height="5.15" fill="#e75263"/>
<rect x="217.04" y="112.9" width="5.17" height="5.15" fill="#cf4070"/>
<rect x="221.91" y="112.9" width="10.04" height="5.15" fill="#b3367a"/>
<rect x="231.65" y="112.9" width="5.17" height="5.15" fill="#c23b75"/>
<rect x="236.52" y="112.9" width="5.17" height="5.15" fill="#b3367a"/>
<rect x="241.39" y="112.9" width="5.17" height="5.15" fill="#a02f7f"/>
<rect x="246.26" y="112.9" width="5.17" height="5.15" fill="#832681"/>
<rect x="251.13" y="112.9" width="5.17" height="5.15" fill="#641a80"/>
<rect x="256" y="112.9" width="5.17" height="5.15" fill="#4e117b"/>
<rect x="260.87" y="112.9" width="5.17" height="5.15" fill="#36106b"/>
<rect x="265.74" y="112.9" width="5.17" height="5.15" fill="#1a1042"/>
<rect x="51.46" y="117.75" width="5.17" height="5.15" fill="#b3367a"/>
<rect x="56.33" y="117.75" width="5.17" height="5.15" fill="#ee5b5e"/>
<rect x="61.2" y="117.75" width="5.17" height="5.15" fill="#e75263"/>
<rect x="66.07" y="117.75" width="5.17" height="5.15" fill="#c23b75"/>
<rect x="70.94" y="117.75" width="5.17" height="5.15" fill="#aa337d"/>
<rect x="75.81" y="117.75" width="10.04" height="5.15" fill="#b3367a"/>
<rect x="85.55" y="117.75" width="5.17" height="5.15" fill="#aa337d"/>
<rect x="90.42" y="117.75" width="5.17" height="5.15" fill="#912b81"/>
<rect x="95.29" y="117.75" width="5.17" height="5.15" fill="#6d1d81"/>
<rect x="100.16" y="117.75" width="5.17" height="5.15" fill="#782281"/>
<rect x="105.03" y="117.75" width="5.17" height="5.15" fill="#832681"/>
<rect x="109.9" y="117.75" width="5.17" height="5.15" fill="#6d1d81"/>
<rect x="114.77" y="117.75" width="5.17" height="5.15" fill="#36106b"/>
<rect x="119.64" y="117.75" width="5.17" height="5.15" fill="#5d177f"/>
<rect x="124.51" y="117.75" width="5.17" height="5.15" fill="#a02f7f"/>
<rect x="129.38" y="117.75" width="5.17" height="5.15" fill="#c23b75"/>
<rect x="134.25" y="117.75" width="24.65" height="5.15" fill="#782281"/>
<rect x="158.6" y="117.75" width="5.17" height="5.15" fill="#912b81"/>
<rect x="163.47" y="117.75" width="5.17" height="5.15" fill="#c23b75"/>
<rect x="168.34" y="117.75" width="5.17" height="5.15" fill="#912b81"/>
<rect x="173.21" y="117.75" width="5.17" height="5.15" fill="#4e117b"/>
<rect x="178.08" y="117.75" width="5.17" height="5.15" fill="#6d1d81"/>
<rect x="182.95" y="117.75" width="5.17" height="5.15" fill="#882781"/>
<rect x="187.82" y="117.75" width="5.17" height="5.15" fill="#aa337d"/>
<rect x="192.69" y="117.75" width="5.17" height="5.15" fill="#e75263"/>
<rect x="197.56" y="117.75" width="5.17" height="5.15" fill="#ee5b5e"/>
<rect x="202.43" y="117.75" width="5.17" height="5.15" fill="#de4968"/>
<rect x="207.3" y="117.75" width="5.17" height="5.15" fill="#d6456c"/>
<rect x="212.17" y="117.75" width="5.17" height="5.15" fill="#e75263"/>
<rect x="217.04" y="117.75" width="5.17" height="5.15" fill="#de4968"/>
<rect x="221.91" y="117.75" width="5.17" height="5.15" fill="#b3367a"/>
<rect x="226.78" y="117.75" width="5.17" height="5.15" fill="#c23b75"/>
<rect x="231.65" y="117.75" width="5.17" height="5.15" fill="#d6456c"/>
<rect x="236.52" y="117.75" width="5.17" height="5.15" fill="#cf4070"/>
<rect x="241.39" y="117.75" width="5.17" height="5.15" fill="#aa337d"/>
<rect x="246.26" y="117.75" width="5.17" height="5.15" fill="#882781"/>
<rect x="251.13" y="117.75" width="5.17" height="5.15" fill="#641a80"/>
<rect x="256" y="117.75" width="5.17" height="5.15" fill="#4e117b"/>
<rect x="260.87" y="117.75" width="5.17" height="5.15" fill="#36106b"/>
<rect x="265.74" y="117.75" width="5.17" height="5.15" fill="#1a1042"/>
<rect x="51.46" y="122.6" width="5.17" height="5.15" fill="#912b81"/>
<rect x="56.33" y="122.6" width="5.17" height="5.15" fill="#b3367a"/>
<rect x="61.2" y="122.6" width="5.17" height="5.15" fill="#912b81"/>
<rect x="66.07" y="122.6" width="5.17" height="5.15" fill="#a02f7f"/>
<rect x="70.94" y="122.6" width="5.17" height="5.15" fill="#b3367a"/>
<rect x="75.81" y="122.6" width="10.04" height="5.15" fill="#cf4070"/>
<rect x="85.55" y="122.6" width="5.17" height="5.15" fill="#c23b75"/>
<rect x="90.42" y="122.6" width="5.17" height="5.15" fill="#aa337d"/>
<rect x="95.29" y="122.6" width="5.17" height="5.15" fill="#912b81"/>
<rect x="100.16" y="122.6" width="10.04" height="5.15" fill="#832681"/>
<rect x="109.9" y="122.6" width="5.17" height="5.15" fill="#782281"/>
<rect x="114.77" y="122.6" width="5.17" height="5.15" fill="#6d1d81"/>
<rect x="119.64" y="122.6" width="5.17" height="5.15" fill="#782281"/>
<rect x="124.51" y="122.6" width="5.17" height="5.15" fill="#b3367a"/>
<rect x="129.38" y="122.6" width="5.17" height="5.15" fill="#e75263"/>
<rect x="134.25" y="122.6" width="24.65" height="5.15" fill="#782281"/>
<rect x="158.6" y="122.6" width="5.17" height="5.15" fill="#aa337d"/>
<rect x="163.47" y="122.6" width="5.17" height="5.15" fill="#b3367a"/>
<rect x="168.34" y="122.6" width="5.17" height="5.15" fill="#a02f7f"/>
<rect x="173.21" y="122.6" width="10.04" height="5.15" fill="#6d1d81"/>
<rect x="182.95" y="122.6" width="5.17" height="5.15" fill="#882781"/>
<rect x="187.82" y="122.6" width="5.17" height="5.15" fill="#aa337d"/>
<rect x="192.69" y="122.6" width="5.17" height="5.15" fill="#ee5b5e"/>
<rect x="197.56" y="122.6" width="5.17" height="5.15" fill="#f2645c"/>
<rect x="202.43" y="122.6" width="5.17" height="5.15" fill="#e75263"/>
<rect x="207.3" y="122.6" width="5.17" height="5.15" fill="#f56b5c"/>
<rect x="212.17" y="122.6" width="5.17" height="5.15" fill="#f8765c"/>
<rect x="217.04" y="122.6" width="5.17" height="5.15" fill="#e75263"/>
<rect x="221.91" y="122.6" width="5.17" height="5.15" fill="#aa337d"/>
<rect x="226.78" y="122.6" width="5.17" height="5.15" fill="#b3367a"/>
<rect x="231.65" y="122.6" width="10.04" height="5.15" fill="#d6456c"/>
<rect x="241.39" y="122.6" width="5.17" height="5.15" fill="#b3367a"/>
<rect x="246.26" y="122.6" width="5.17" height="5.15" fill="#912b81"/>
<rect x="251.13" y="122.6" width="5.17" height="5.15" fill="#6d1d81"/>
<rect x="256" y="122.6" width="5.17" height="5.15" fill="#4e117b"/>
<rect x="260.87" y="122.6" width="5.17" height="5.15" fill="#36106b"/>
<rect x="265.74" y="122.6" width="5.17" height="5.15" fill="#1a1042"/>
<rect x="51.46" y="127.45" width="5.17" height="5.15" fill="#782281"/>
<rect x="56.33" y="127.45" width="5.17" height="5.15" fill="#6d1d81"/>
<rect x="61.2" y="127.45" width="5.17" height="5.15" fill="#5d177f"/>
<rect x="66.07" y="127.45" width="5.17" height="5.15" fill="#a02f7f"/>
<rect x="70.94" y="127.45" width="5.17" height="5.15" fill="#de4968"/>
<rect x="75.81" y="127.45" width="5.17" height="5.15" fill="#ee5b5e"/>
<rect x="80.68" y="127.45" width="5.17" height="5.15" fill="#e75263"/>
<rect x="85.55" y="127.45" width="5.17" height="5.15" fill="#de4968"/>
<rect x="90.42" y="127.45" width="5.17" height="5.15" fill="#d6456c"/>
<rect x="95.29" y="127.45" width="5.17" height="5.15" fill="#b3367a"/>
<rect x="100.16" y="127.45" width="5.17" height="5.15" fill="#912b81"/>
<rect x="105.03" y="127.45" width="5.17" height="5.15" fill="#832681"/>
<rect x="109.9" y="127.45" width="5.17" height="5.15" fill="#782281"/>
<rect x="114.77" y="127.45" width="5.17" height="5.15" fill="#5d177f"/>
<rect x="119.64" y="127.45" width="5.17" height="5.15" fill="#6d1d81"/>
<rect x="124.51" y="127.45" width="5.17" height="5.15" fill="#aa337d"/>
<rect x="129.38" y="127.45" width="5.17" height="5.15" fill="#ee5b5e"/>
<rect x="134.25" y="127.45" width="24.65" height="5.15" fill="#782281"/>
<rect x="158.6" y="127.45" width="5.17" height="5.15" fill="#c23b75"/>
<rect x="163.47" y="127.45" width="5.17" height="5.15" fill="#cf4070"/>
<rect x="168.34" y="127.45" width="5.17" height="5.15" fill="#912b81"/>
<rect x="173.21" y="127.45" width="5.17" height="5.15" fill="#4e117b"/>
<rect x="178.08" y="127.45" width="5.17" height="5.15" fill="#5d177f"/>
<rect x="182.95" y="127.45" width="5.17" height="5.15" fill="#7c2382"/>
<rect x="187.82" y="127.45" width="5.17" height="5.15" fill="#a02f7f"/>
<rect x="192.69" y="127.45" width="5.17" height="5.15" fill="#e75263"/>
<rect x="197.56" y="127.45" width="5.17" height="5.15" fill="#f56b5c"/>
<rect x="202.43" y="127.45" width="5.17" height="5.15" fill="#f2645c"/>
<rect x="207.3" y="127.45" width="5.17" height="5.15" fill="#fc8e64"/>
<rect x="212.17" y="127.45" width="5.17" height="5.15" fill="#fa815f"/>
<rect x="217.04" y="127.45" width="5.17" height="5.15" fill="#de4968"/>
<rect x="221.91" y="127.45" width="5.17" height="5.15" fill="#912b81"/>
<rect x="226.78" y="127.45" width="5.17" height="5.15" fill="#a02f7f"/>
<rect x="231.65" y="127.45" width="5.17" height="5.15" fill="#cf4070"/>
<rect x="236.52" y="127.45" width="5.17" height="5.15" fill="#de4968"/>
<rect x="241.39" y="127.45" width="5.17" height="5.15" fill="#c23b75"/>
<rect x="246.26" y="127.45" width="5.17" height="5.15" fill="#a02f7f"/>
<rect x="251.13" y="127.45" width="5.17" height="5.15" fill="#6d1d81"/>
<rect x="256" y="127.45" width="5.17" height="5.15" fill="#59157e"/>
<rect x="260.87" y="127.45" width="5.17" height="5.15" fill="#36106b"/>
<rect x="265.74" y="127.45" width="5.17" height="5.15" fill="#1a1042"/>
<rect x="56.33" y="132.3" width="5.17" height="5.15" fill="#832681"/>
<rect x="61.2" y="132.3" width="5.17" height="5.15" fill="#912b81"/>
<rect x="66.07" y="132.3" width="5.17" height="5.15" fill="#cf4070"/>
<rect x="70.94" y="132.3" width="5.17" height="5.15" fill="#fc8e64"/>
<rect x="75.81" y="132.3" width="5.17" height="5.15" fill="#f2645c"/>
<rect x="80.68" y="132.3" width="10.04" height="5.15" fill="#e75263"/>
<rect x="90.42" y="132.3" width="5.17" height="5.15" fill="#ee5b5e"/>
<rect x="95.29" y="132.3" width="5.17" height="5.15" fill="#cf4070"/>
<rect x="100.16" y="132.3" width="5.17" height="5.15" fill="#a02f7f"/>
<rect x="105.03" y="132.3" width="5.17" height="5.15" fill="#832681"/>
<rect x="109.9" y="132.3" width="5.17" height="5.15" fill="#6d1d81"/>
<rect x="114.77" y="132.3" width="5.17" height="5.15" fill="#4e117b"/>
<rect x="119.64" y="132.3" width="5.17" height="5.15" fill="#5d177f"/>
<rect x="124.51" y="132.3" width="5.17" height="5.15" fill="#a02f7f"/>
<rect x="129.38" y="132.3" width="5.17" height="5.15" fill="#e75263"/>
<rect x="134.25" y="132.3" width="24.65" height="5.15" fill="#782281"/>
<rect x="158.6" y="132.3" width="5.17" height="5.15" fill="#b3367a"/>
<rect x="163.47" y="132.3" width="5.17" height="5.15" fill="#c23b75"/>
<rect x="168.34" y="132.3" width="5.17" height="5.15" fill="#832681"/>
<rect x="173.21" y="132.3" width="10.04" height="5.15" fill="#5d177f"/>
<rect x="182.95" y="132.3" width="5.17" height="5.15" fill="#782281"/>
<rect x="187.82" y="132.3" width="5.17" height="5.15" fill="#912b81"/>
<rect x="192.69" y="132.3" width="5.17" height="5.15" fill="#de4968"/>
<rect x="197.56" y="132.3" width="10.04" height="5.15" fill="#f2645c"/>
<rect x="207.3" y="132.3" width="5.17" height="5.15" fill="#fb8761"/>
<rect x="212.17" y="132.3" width="5.17" height="5.15" fill="#f56b5c"/>
<rect x="217.04" y="132.3" width="5.17" height="5.15" fill="#d6456c"/>
<rect x="221.91" y="132.3" width="10.04" height="5.15" fill="#a02f7f"/>
<rect x="231.65" y="132.3" width="5.17" height="5.15" fill="#c23b75"/>
<rect x="236.52" y="132.3" width="5.17" height="5.15" fill="#d6456c"/>
<rect x="241.39" y="132.3" width="5.17" height="5.15" fill="#c23b75"/>
<rect x="246.26" y="132.3" width="5.17" height="5.15" fill="#a02f7f"/>
<rect x="251.13" y="132.3" width="5.17" height="5.15" fill="#782281"/>
<rect x="256" y="132.3" width="5.17" height="5.15" fill="#5d177f"/>
<rect x="260.87" y="132.3" width="5.17" height="5.15" fill="#420f75"/>
<rect x="265.74" y="132.3" width="5.17" height="5.15" fill="#1a1042"/>
<rect x="56.33" y="137.15" width="5.17" height="5.15" fill="#a02f7f"/>
<rect x="61.2" y="137.15" width="5.17" height="5.15" fill="#c23b75"/>
<rect x="66.07" y="137.15" width="5.17" height="5.15" fill="#e75263"/>
<rect x="70.94" y="137.15" width="5.17" height="5.15" fill="#fb8761"/>
<rect x="75.81" y="137.15" width="5.17" height="5.15" fill="#ee5b5e"/>
<rect x="80.68" y="137.15" width="5.17" height="5.15" fill="#e75263"/>
<rect x="85.55" y="137.15" width="5.17" height="5.15" fill="#ee5b5e"/>
<rect x="90.42" y="137.15" width="5.17" height="5.15" fill="#f2645c"/>
<rect x="95.29" y="137.15" width="5.17" height="5.15" fill="#d6456c"/>
<rect x="100.16" y="137.15" width="5.17" height="5.15" fill="#a02f7f"/>
<rect x="105.03" y="137.15" width="5.17" height="5.15" fill="#8c2981"/>
<rect x="109.9" y="137.15" width="5.17" height="5.15" fill="#782281"/>
<rect x="114.77" y="137.15" width="5.17" height="5.15" fill="#6d1d81"/>
<rect x="119.64" y="137.15" width="5.17" height="5.15" fill="#782281"/>
<rect x="124.51" y="137.15" width="5.17" height="5.15" fill="#a02f7f"/>
<rect x="129.38" y="137.15" width="5.17" height="5.15" fill="#cf4070"/>
<rect x="134.25" y="137.15" width="24.65" height="5.15" fill="#912b81"/>
<rect x="158.6" y="137.15" width="5.17" height="5.15" fill="#a02f7f"/>
<rect x="163.47" y="137.15" width="5.17" height="5.15" fill="#912b81"/>
<rect x="168.34" y="137.15" width="5.17" height="5.15" fill="#782281"/>
<rect x="173.21" y="137.15" width="10.04" height="5.15" fill="#6d1d81"/>
<rect x="182.95" y="137.15" width="5.17" height="5.15" fill="#782281"/>
<rect x="187.82" y="137.15" width="5.17" height="5.15" fill="#912b81"/>
<rect x="192.69" y="137.15" width="5.17" height="5.15" fill="#c23b75"/>
<rect x="197.56" y="137.15" width="5.17" height="5.15" fill="#de4968"/>
<rect x="202.43" y="137.15" width="5.17" height="5.15" fill="#e75263"/>
<rect x="207.3" y="137.15" width="5.17" height="5.15" fill="#f2645c"/>
<rect x="212.17" y="137.15" width="5.17" height="5.15" fill="#ee5b5e"/>
<rect x="217.04" y="137.15" width="5.17" height="5.15" fill="#cf4070"/>
<rect x="221.91" y="137.15" width="5.17" height="5.15" fill="#aa337d"/>
<rect x="226.78" y="137.15" width="5.17" height="5.15" fill="#a02f7f"/>
<rect x="231.65" y="137.15" width="5.17" height="5.15" fill="#b3367a"/>
<rect x="236.52" y="137.15" width="5.17" height="5.15" fill="#c23b75"/>
<rect x="241.39" y="137.15" width="5.17" height="5.15" fill="#b3367a"/>
<rect x="246.26" y="137.15" width="5.17" height="5.15" fill="#a02f7f"/>
<rect x="251.13" y="137.15" width="5.17" height="5.15" fill="#832681"/>
<rect x="256" y="137.15" width="5.17" height="5.15" fill="#641a80"/>
<rect x="260.87" y="137.15" width="5.17" height="5.15" fill="#420f75"/>
<rect x="265.74" y="137.15" width="5.17" height="5.15" fill="#1a1042"/>
<rect x="56.33" y="142" width="5.17" height="5.15" fill="#912b81"/>
<rect x="61.2" y="142" width="5.17" height="5.15" fill="#cf4070"/>
<rect x="66.07" y="142" width="5.17" height="5.15" fill="#e75263"/>
<rect x="70.94" y="142" width="5.17" height="5.15" fill="#ee5b5e"/>
<rect x="75.81" y="142" width="10.04" height="5.15" fill="#d6456c"/>
<rect x="85.55" y="142" width="5.17" height="5.15" fill="#e75263"/>
<rect x="90.42" y="142" width="5.17" height="5.15" fill="#ee5b5e"/>
<rect x="95.29" y="142" width="5.17" height="5.15" fill="#de4968"/>
<rect x="100.16" y="142" width="5.17" height="5.15" fill="#b3367a"/>
<rect x="105.03" y="142" width="5.17" height="5.15" fill="#a02f7f"/>
<rect x="109.9" y="142" width="14.91" height="5.15" fill="#912b81"/>
<rect x="124.51" y="142" width="5.17" height="5.15" fill="#a02f7f"/>
<rect x="129.38" y="142" width="5.17" height="5.15" fill="#b3367a"/>
<rect x="134.25" y="142" width="5.17" height="5.15" fill="#912b81"/>
<rect x="139.12" y="142" width="5.17" height="5.15" fill="#a02f7f"/>
<rect x="143.99" y="142" width="5.17" height="5.15" fill="#b3367a"/>
<rect x="148.86" y="142" width="5.17" height="5.15" fill="#d6456c"/>
<rect x="153.73" y="142" width="5.17" height="5.15" fill="#f2645c"/>
<rect x="158.6" y="142" width="5.17" height="5.15" fill="#c23b75"/>
<rect x="163.47" y="142" width="5.17" height="5.15" fill="#782281"/>
<rect x="168.34" y="142" width="14.91" height="5.15" fill="#6d1d81"/>
<rect x="182.95" y="142" width="5.17" height="5.15" fill="#782281"/>
<rect x="187.82" y="142" width="5.17" height="5.15" fill="#832681"/>
<rect x="192.69" y="142" width="5.17" height="5.15" fill="#aa337d"/>
<rect x="197.56" y="142" width="5.17" height="5.15" fill="#c23b75"/>
<rect x="202.43" y="142" width="5.17" height="5.15" fill="#cf4070"/>
<rect x="207.3" y="142" width="5.17" height="5.15" fill="#de4968"/>
<rect x="212.17" y="142" width="5.17" height="5.15" fill="#aa337d"/>
<rect x="217.04" y="142" width="10.04" height="5.15" fill="#882781"/>
<rect x="226.78" y="142" width="5.17" height="5.15" fill="#a02f7f"/>
<rect x="231.65" y="142" width="5.17" height="5.15" fill="#aa337d"/>
<rect x="236.52" y="142" width="5.17" height="5.15" fill="#b3367a"/>
<rect x="241.39" y="142" width="5.17" height="5.15" fill="#aa337d"/>
<rect x="246.26" y="142" width="5.17" height="5.15" fill="#a02f7f"/>
<rect x="251.13" y="142" width="5.17" height="5.15" fill="#912b81"/>
<rect x="256" y="142" width="5.17" height="5.15" fill="#6d1d81"/>
<rect x="260.87" y="142" width="5.17" height="5.15" fill="#420f75"/>
<rect x="265.74" y="142" width="5.17" height="5.15" fill="#1a1042"/>
<rect x="56.33" y="146.85" width="5.17" height="5.15" fill="#140e36"/>
<rect x="61.2" y="146.85" width="5.17" height="5.15" fill="#c23b75"/>
<rect x="66.07" y="146.85" width="5.17" height="5.15" fill="#de4968"/>
<rect x="70.94" y="146.85" width="5.17" height="5.15" fill="#d6456c"/>
<rect x="75.81" y="146.85" width="10.04" height="5.15" fill="#b3367a"/>
<rect x="85.55" y="146.85" width="5.17" height="5.15" fill="#cf4070"/>
<rect x="90.42" y="146.85" width="5.17" height="5.15" fill="#e75263"/>
<rect x="95.29" y="146.85" width="5.17" height="5.15" fill="#d6456c"/>
<rect x="100.16" y="146.85" width="5.17" height="5.15" fill="#b3367a"/>
<rect x="105.03" y="146.85" width="5.17" height="5.15" fill="#aa337d"/>
<rect x="109.9" y="146.85" width="24.65" height="5.15" fill="#a02f7f"/>
<rect x="134.25" y="146.85" width="5.17" height="5.15" fill="#782281"/>
<rect x="139.12" y="146.85" width="5.17" height="5.15" fill="#6d1d81"/>
<rect x="143.99" y="146.85" width="5.17" height="5.15" fill="#782281"/>
<rect x="148.86" y="146.85" width="5.17" height="5.15" fill="#420f75"/>
<rect x="153.73" y="146.85" width="5.17" height="5.15" fill="#912b81"/>
<rect x="158.6" y="146.85" width="5.17" height="5.15" fill="#a02f7f"/>
<rect x="163.47" y="146.85" width="5.17" height="5.15" fill="#782281"/>
<rect x="168.34" y="146.85" width="14.91" height="5.15" fill="#6d1d81"/>
<rect x="182.95" y="146.85" width="10.04" height="5.15" fill="#782281"/>
<rect x="192.69" y="146.85" width="5.17" height="5.15" fill="#912b81"/>
<rect x="197.56" y="146.85" width="5.17" height="5.15" fill="#aa337d"/>
<rect x="202.43" y="146.85" width="5.17" height="5.15" fill="#b3367a"/>
<rect x="207.3" y="146.85" width="5.17" height="5.15" fill="#cf4070"/>
<rect x="212.17" y="146.85" width="5.17" height="5.15" fill="#aa337d"/>
<rect x="217.04" y="146.85" width="10.04" height="5.15" fill="#882781"/>
<rect x="226.78" y="146.85" width="5.17" height="5.15" fill="#912b81"/>
<rect x="231.65" y="146.85" width="5.17" height="5.15" fill="#a02f7f"/>
<rect x="236.52" y="146.85" width="10.04" height="5.15" fill="#aa337d"/>
<rect x="246.26" y="146.85" width="5.17" height="5.15" fill="#a02f7f"/>
<rect x="251.13" y="146.85" width="5.17" height="5.15" fill="#912b81"/>
<rect x="256" y="146.85" width="5.17" height="5.15" fill="#6d1d81"/>
<rect x="260.87" y="146.85" width="5.17" height="5.15" fill="#420f75"/>
<rect x="265.74" y="146.85" width="5.17" height="5.15" fill="#1a1042"/>
<rect x="61.2" y="151.7" width="5.17" height="5.15" fill="#e75263"/>
<rect x="66.07" y="151.7" width="5.17" height="5.15" fill="#de4968"/>
<rect x="70.94" y="151.7" width="5.17" height="5.15" fill="#cf4070"/>
<rect x="75.81" y="151.7" width="5.17" height="5.15" fill="#aa337d"/>
<rect x="80.68" y="151.7" width="5.17" height="5.15" fill="#912b81"/>
<rect x="85.55" y="151.7" width="5.17" height="5.15" fill="#782281"/>
<rect x="90.42" y="151.7" width="5.17" height="5.15" fill="#832681"/>
<rect x="95.29" y="151.7" width="5.17" height="5.15" fill="#a02f7f"/>
<rect x="100.16" y="151.7" width="5.17" height="5.15" fill="#aa337d"/>
<rect x="105.03" y="151.7" width="5.17" height="5.15" fill="#b3367a"/>
<rect x="109.9" y="151.7" width="5.17" height="5.15" fill="#cf4070"/>
<rect x="114.77" y="151.7" width="5.17" height="5.15" fill="#c23b75"/>
<rect x="119.64" y="151.7" width="5.17" height="5.15" fill="#aa337d"/>
<rect x="124.51" y="151.7" width="5.17" height="5.15" fill="#912b81"/>
<rect x="129.38" y="151.7" width="5.17" height="5.15" fill="#832681"/>
<rect x="134.25" y="151.7" width="5.17" height="5.15" fill="#782281"/>
<rect x="139.12" y="151.7" width="5.17" height="5.15" fill="#6d1d81"/>
<rect x="143.99" y="151.7" width="5.17" height="5.15" fill="#782281"/>
<rect x="148.86" y="151.7" width="5.17" height="5.15" fill="#832681"/>
<rect x="153.73" y="151.7" width="5.17" height="5.15" fill="#782281"/>
<rect x="158.6" y="151.7" width="5.17" height="5.15" fill="#1a1042"/>
<rect x="163.47" y="151.7" width="5.17" height="5.15" fill="#420f75"/>
<rect x="168.34" y="151.7" width="5.17" height="5.15" fill="#4e117b"/>
<rect x="173.21" y="151.7" width="5.17" height="5.15" fill="#5d177f"/>
<rect x="178.08" y="151.7" width="5.17" height="5.15" fill="#782281"/>
<rect x="182.95" y="151.7" width="5.17" height="5.15" fill="#832681"/>
<rect x="187.82" y="151.7" width="5.17" height="5.15" fill="#912b81"/>
<rect x="192.69" y="151.7" width="5.17" height="5.15" fill="#cf4070"/>
<rect x="197.56" y="151.7" width="5.17" height="5.15" fill="#de4968"/>
<rect x="202.43" y="151.7" width="10.04" height="5.15" fill="#e75263"/>
<rect x="212.17" y="151.7" width="5.17" height="5.15" fill="#b3367a"/>
<rect x="217.04" y="151.7" width="5.17" height="5.15" fill="#912b81"/>
<rect x="221.91" y="151.7" width="5.17" height="5.15" fill="#782281"/>
<rect x="226.78" y="151.7" width="5.17" height="5.15" fill="#c23b75"/>
<rect x="231.65" y="151.7" width="10.04" height="5.15" fill="#e75263"/>
<rect x="241.39" y="151.7" width="5.17" height="5.15" fill="#de4968"/>
<rect x="246.26" y="151.7" width="5.17" height="5.15" fill="#cf4070"/>
<rect x="251.13" y="151.7" width="5.17" height="5.15" fill="#b3367a"/>
<rect x="256" y="151.7" width="5.17" height="5.15" fill="#912b81"/>
<rect x="260.87" y="151.7" width="5.17" height="5.15" fill="#6d1d81"/>
<rect x="265.74" y="151.7" width="5.17" height="5.15" fill="#251255"/>
<rect x="61.2" y="156.55" width="5.17" height="5.15" fill="#de4968"/>
<rect x="66.07" y="156.55" width="5.17" height="5.15" fill="#e75263"/>
<rect x="70.94" y="156.55" width="5.17" height="5.15" fill="#c23b75"/>
<rect x="75.81" y="156.55" width="5.17" height="5.15" fill="#a02f7f"/>
<rect x="80.68" y="156.55" width="5.17" height="5.15" fill="#782281"/>
<rect x="85.55" y="156.55" width="5.17" height="5.15" fill="#5d177f"/>
<rect x="90.42" y="156.55" width="5.17" height="5.15" fill="#6d1d81"/>
<rect x="95.29" y="156.55" width="5.17" height="5.15" fill="#a02f7f"/>
<rect x="100.16" y="156.55" width="5.17" height="5.15" fill="#b3367a"/>
<rect x="105.03" y="156.55" width="5.17" height="5.15" fill="#c23b75"/>
<rect x="109.9" y="156.55" width="5.17" height="5.15" fill="#e44f64"/>
<rect x="114.77" y="156.55" width="5.17" height="5.15" fill="#d6456c"/>
<rect x="119.64" y="156.55" width="5.17" height="5.15" fill="#b3367a"/>
<rect x="124.51" y="156.55" width="5.17" height="5.15" fill="#912b81"/>
<rect x="129.38" y="156.55" width="5.17" height="5.15" fill="#832681"/>
<rect x="134.25" y="156.55" width="10.04" height="5.15" fill="#782281"/>
<rect x="143.99" y="156.55" width="10.04" height="5.15" fill="#832681"/>
<rect x="153.73" y="156.55" width="5.17" height="5.15" fill="#782281"/>
<rect x="158.6" y="156.55" width="19.78" height="5.15" fill="#6d1d81"/>
<rect x="178.08" y="156.55" width="5.17" height="5.15" fill="#832681"/>
<rect x="182.95" y="156.55" width="5.17" height="5.15" fill="#912b81"/>
<rect x="187.82" y="156.55" width="5.17" height="5.15" fill="#aa337d"/>
<rect x="192.69" y="156.55" width="5.17" height="5.15" fill="#de4968"/>
<rect x="197.56" y="156.55" width="5.17" height="5.15" fill="#f56b5c"/>
<rect x="202.43" y="156.55" width="5.17" height="5.15" fill="#fa815f"/>
<rect x="207.3" y="156.55" width="5.17" height="5.15" fill="#f2645c"/>
<rect x="212.17" y="156.55" width="5.17" height="5.15" fill="#cf4070"/>
<rect x="217.04" y="156.55" width="10.04" height="5.15" fill="#b3367a"/>
<rect x="226.78" y="156.55" width="5.17" height="5.15" fill="#ee5b5e"/>
<rect x="231.65" y="156.55" width="5.17" height="5.15" fill="#f8765c"/>
<rect x="236.52" y="156.55" width="5.17" height="5.15" fill="#f56b5c"/>
<rect x="241.39" y="156.55" width="5.17" height="5.15" fill="#ee5b5e"/>
<rect x="246.26" y="156.55" width="5.17" height="5.15" fill="#de4968"/>
<rect x="251.13" y="156.55" width="5.17" height="5.15" fill="#b3367a"/>
<rect x="256" y="156.55" width="5.17" height="5.15" fill="#912b81"/>
<rect x="260.87" y="156.55" width="5.17" height="5.15" fill="#6d1d81"/>
<rect x="265.74" y="156.55" width="5.17" height="5.15" fill="#251255"/>
<rect x="61.2" y="161.4" width="5.17" height="5.15" fill="#ee5b5e"/>
<rect x="66.07" y="161.4" width="5.17" height="5.15" fill="#f2645c"/>
<rect x="70.94" y="161.4" width="5.17" height="5.15" fill="#cf4070"/>
<rect x="75.81" y="161.4" width="5.17" height="5.15" fill="#aa337d"/>
<rect x="80.68" y="161.4" width="5.17" height="5.15" fill="#832681"/>
<rect x="85.55" y="161.4" width="5.17" height="5.15" fill="#6d1d81"/>
<rect x="90.42" y="161.4" width="5.17" height="5.15" fill="#782281"/>
<rect x="95.29" y="161.4" width="5.17" height="5.15" fill="#a02f7f"/>
<rect x="100.16" y="161.4" width="5.17" height="5.15" fill="#b3367a"/>
<rect x="105.03" y="161.4" width="5.17" height="5.15" fill="#ca3e72"/>
<rect x="109.9" y="161.4" width="5.17" height="5.15" fill="#ec5860"/>
<rect x="114.77" y="161.4" width="5.17" height="5.15" fill="#de4968"/>
<rect x="119.64" y="161.4" width="5.17" height="5.15" fill="#c23b75"/>
<rect x="124.51" y="161.4" width="5.17" height="5.15" fill="#aa337d"/>
<rect x="129.38" y="161.4" width="29.52" height="5.15" fill="#a02f7f"/>
<rect x="158.6" y="161.4" width="5.17" height="5.15" fill="#912b81"/>
<rect x="163.47" y="161.4" width="10.04" height="5.15" fill="#832681"/>
<rect x="173.21" y="161.4" width="5.17" height="5.15" fill="#912b81"/>
<rect x="178.08" y="161.4" width="5.17" height="5.15" fill="#a02f7f"/>
<rect x="182.95" y="161.4" width="5.17" height="5.15" fill="#aa337d"/>
<rect x="187.82" y="161.4" width="5.17" height="5.15" fill="#c23b75"/>
<rect x="192.69" y="161.4" width="5.17" height="5.15" fill="#e75263"/>
<rect x="197.56" y="161.4" width="5.17" height="5.15" fill="#fa815f"/>
<rect x="202.43" y="161.4" width="5.17" height="5.15" fill="#fd9869"/>
<rect x="207.3" y="161.4" width="5.17" height="5.15" fill="#fc8e64"/>
<rect x="212.17" y="161.4" width="5.17" height="5.15" fill="#f8765c"/>
<rect x="217.04" y="161.4" width="5.17" height="5.15" fill="#f2645c"/>
<rect x="221.91" y="161.4" width="5.17" height="5.15" fill="#f56b5c"/>
<rect x="226.78" y="161.4" width="5.17" height="5.15" fill="#fb8761"/>
<rect x="231.65" y="161.4" width="5.17" height="5.15" fill="#fc8e64"/>
<rect x="236.52" y="161.4" width="5.17" height="5.15" fill="#fb8761"/>
<rect x="241.39" y="161.4" width="5.17" height="5.15" fill="#fa815f"/>
<rect x="246.26" y="161.4" width="5.17" height="5.15" fill="#e75263"/>
<rect x="251.13" y="161.4" width="5.17" height="5.15" fill="#aa337d"/>
<rect x="256" y="161.4" width="5.17" height="5.15" fill="#832681"/>
<rect x="260.87" y="161.4" width="5.17" height="5.15" fill="#5d177f"/>
<rect x="265.74" y="161.4" width="5.17" height="5.15" fill="#251255"/>
<rect x="66.07" y="166.25" width="5.17" height="5.15" fill="#e75263"/>
<rect x="70.94" y="166.25" width="5.17" height="5.15" fill="#d6456c"/>
<rect x="75.81" y="166.25" width="5.17" height="5.15" fill="#c23b75"/>
<rect x="80.68" y="166.25" width="5.17" height="5.15" fill="#aa337d"/>
<rect x="85.55" y="166.25" width="10.04" height="5.15" fill="#a02f7f"/>
<rect x="95.29" y="166.25" width="5.17" height="5.15" fill="#aa337d"/>
<rect x="100.16" y="166.25" width="5.17" height="5.15" fill="#b3367a"/>
<rect x="105.03" y="166.25" width="5.17" height="5.15" fill="#bd3977"/>
<rect x="109.9" y="166.25" width="5.17" height="5.15" fill="#e75263"/>
<rect x="114.77" y="166.25" width="5.17" height="5.15" fill="#d6456c"/>
<rect x="119.64" y="166.25" width="5.17" height="5.15" fill="#962c80"/>
<rect x="124.51" y="166.25" width="5.17" height="5.15" fill="#a02f7f"/>
<rect x="129.38" y="166.25" width="5.17" height="5.15" fill="#b3367a"/>
<rect x="134.25" y="166.25" width="5.17" height="5.15" fill="#e75263"/>
<rect x="139.12" y="166.25" width="5.17" height="5.15" fill="#f56b5c"/>
<rect x="143.99" y="166.25" width="5.17" height="5.15" fill="#ee5b5e"/>
<rect x="148.86" y="166.25" width="5.17" height="5.15" fill="#d6456c"/>
<rect x="153.73" y="166.25" width="5.17" height="5.15" fill="#cf4070"/>
<rect x="158.6" y="166.25" width="19.78" height="5.15" fill="#c23b75"/>
<rect x="178.08" y="166.25" width="5.17" height="5.15" fill="#cf4070"/>
<rect x="182.95" y="166.25" width="5.17" height="5.15" fill="#d6456c"/>
<rect x="187.82" y="166.25" width="5.17" height="5.15" fill="#de4968"/>
<rect x="192.69" y="166.25" width="5.17" height="5.15" fill="#ee5b5e"/>
<rect x="197.56" y="166.25" width="5.17" height="5.15" fill="#fa815f"/>
<rect x="202.43" y="166.25" width="5.17" height="5.15" fill="#fea36f"/>
<rect x="207.3" y="166.25" width="5.17" height="5.15" fill="#fec68a"/>
<rect x="212.17" y="166.25" width="5.17" height="5.15" fill="#fde7a9"/>
<rect x="217.04" y="166.25" width="5.17" height="5.15" fill="#fec68a"/>
<rect x="221.91" y="166.25" width="5.17" height="5.15" fill="#fea36f"/>
<rect x="226.78" y="166.25" width="5.17" height="5.15" fill="#fea973"/>
<rect x="231.65" y="166.25" width="5.17" height="5.15" fill="#feb77e"/>
<rect x="236.52" y="166.25" width="5.17" height="5.15" fill="#fed89a"/>
<rect x="241.39" y="166.25" width="5.17" height="5.15" fill="#fea973"/>
<rect x="246.26" y="166.25" width="5.17" height="5.15" fill="#e75263"/>
<rect x="251.13" y="166.25" width="5.17" height="5.15" fill="#912b81"/>
<rect x="256" y="166.25" width="5.17" height="5.15" fill="#6d1d81"/>
<rect x="260.87" y="166.25" width="5.17" height="5.15" fill="#4e117b"/>
<rect x="265.74" y="166.25" width="5.17" height="5.15" fill="#1a1042"/>
<rect x="66.07" y="171.1" width="10.04" height="5.15" fill="#e75263"/>
<rect x="75.81" y="171.1" width="5.17" height="5.15" fill="#d6456c"/>
<rect x="80.68" y="171.1" width="5.17" height="5.15" fill="#cf4070"/>
<rect x="85.55" y="171.1" width="5.17" height="5.15" fill="#d6456c"/>
<rect x="90.42" y="171.1" width="5.17" height="5.15" fill="#de4968"/>
<rect x="95.29" y="171.1" width="5.17" height="5.15" fill="#cf4070"/>
<rect x="100.16" y="171.1" width="5.17" height="5.15" fill="#b3367a"/>
<rect x="105.03" y="171.1" width="5.17" height="5.15" fill="#aa337d"/>
<rect x="109.9" y="171.1" width="5.17" height="5.15" fill="#ca3e72"/>
<rect x="114.77" y="171.1" width="5.17" height="5.15" fill="#b3367a"/>
<rect x="119.64" y="171.1" width="10.04" height="5.15" fill="#782281"/>
<rect x="129.38" y="171.1" width="5.17" height="5.15" fill="#aa337d"/>
<rect x="134.25" y="171.1" width="5.17" height="5.15" fill="#f56b5c"/>
<rect x="139.12" y="171.1" width="5.17" height="5.15" fill="#fec68a"/>
<rect x="143.99" y="171.1" width="5.17" height="5.15" fill="#fc8e64"/>
<rect x="148.86" y="171.1" width="5.17" height="5.15" fill="#f2645c"/>
<rect x="153.73" y="171.1" width="29.52" height="5.15" fill="#ee5b5e"/>
<rect x="182.95" y="171.1" width="5.17" height="5.15" fill="#f2645c"/>
<rect x="187.82" y="171.1" width="5.17" height="5.15" fill="#f56b5c"/>
<rect x="192.69" y="171.1" width="5.17" height="5.15" fill="#f8765c"/>
<rect x="197.56" y="171.1" width="5.17" height="5.15" fill="#fc8e64"/>
<rect x="202.43" y="171.1" width="5.17" height="5.15" fill="#fea973"/>
<rect x="207.3" y="171.1" width="5.17" height="5.15" fill="#fed89a"/>
<rect x="212.17" y="171.1" width="10.04" height="5.15" fill="#fcfdbf"/>
<rect x="221.91" y="171.1" width="5.17" height="5.15" fill="#fde7a9"/>
<rect x="226.78" y="171.1" width="5.17" height="5.15" fill="#fecf92"/>
<rect x="231.65" y="171.1" width="5.17" height="5.15" fill="#fec68a"/>
<rect x="236.52" y="171.1" width="5.17" height="5.15" fill="#feb77e"/>
<rect x="241.39" y="171.1" width="5.17" height="5.15" fill="#fb8761"/>
<rect x="246.26" y="171.1" width="5.17" height="5.15" fill="#cf4070"/>
<rect x="251.13" y="171.1" width="5.17" height="5.15" fill="#782281"/>
<rect x="256" y="171.1" width="5.17" height="5.15" fill="#4e117b"/>
<rect x="260.87" y="171.1" width="5.17" height="5.15" fill="#36106b"/>
<rect x="265.74" y="171.1" width="5.17" height="5.15" fill="#140e36"/>
<rect x="66.07" y="175.95" width="5.17" height="5.15" fill="#ee5b5e"/>
<rect x="70.94" y="175.95" width="5.17" height="5.15" fill="#e75263"/>
<rect x="75.81" y="175.95" width="10.04" height="5.15" fill="#d6456c"/>
<rect x="85.55" y="175.95" width="5.17" height="5.15" fill="#e75263"/>
<rect x="90.42" y="175.95" width="5.17" height="5.15" fill="#ee5b5e"/>
<rect x="95.29" y="175.95" width="5.17" height="5.15" fill="#de4968"/>
<rect x="100.16" y="175.95" width="5.17" height="5.15" fill="#c23b75"/>
<rect x="105.03" y="175.95" width="5.17" height="5.15" fill="#b3367a"/>
<rect x="109.9" y="175.95" width="5.17" height="5.15" fill="#c53c74"/>
<rect x="114.77" y="175.95" width="5.17" height="5.15" fill="#aa337d"/>
<rect x="119.64" y="175.95" width="10.04" height="5.15" fill="#782281"/>
<rect x="129.38" y="175.95" width="5.17" height="5.15" fill="#b3367a"/>
<rect x="134.25" y="175.95" width="5.17" height="5.15" fill="#f56b5c"/>
<rect x="139.12" y="175.95" width="10.04" height="5.15" fill="#fea36f"/>
<rect x="148.86" y="175.95" width="5.17" height="5.15" fill="#fea973"/>
<rect x="153.73" y="175.95" width="5.17" height="5.15" fill="#feae77"/>
<rect x="158.6" y="175.95" width="5.17" height="5.15" fill="#fd9869"/>
<rect x="163.47" y="175.95" width="5.17" height="5.15" fill="#fb8761"/>
<rect x="168.34" y="175.95" width="5.17" height="5.15" fill="#fc8e64"/>
<rect x="173.21" y="175.95" width="5.17" height="5.15" fill="#fd9869"/>
<rect x="178.08" y="175.95" width="5.17" height="5.15" fill="#fc8e64"/>
<rect x="182.95" y="175.95" width="10.04" height="5.15" fill="#fa815f"/>
<rect x="192.69" y="175.95" width="5.17" height="5.15" fill="#fc8e64"/>
<rect x="197.56" y="175.95" width="5.17" height="5.15" fill="#fea36f"/>
<rect x="202.43" y="175.95" width="5.17" height="5.15" fill="#fecf92"/>
<rect x="207.3" y="175.95" width="14.91" height="5.15" fill="#fcfdbf"/>
<rect x="221.91" y="175.95" width="5.17" height="5.15" fill="#fde7a9"/>
<rect x="226.78" y="175.95" width="5.17" height="5.15" fill="#feb77e"/>
<rect x="231.65" y="175.95" width="5.17" height="5.15" fill="#fd9869"/>
<rect x="236.52" y="175.95" width="5.17" height="5.15" fill="#fa815f"/>
<rect x="241.39" y="175.95" width="5.17" height="5.15" fill="#e75263"/>
<rect x="246.26" y="175.95" width="5.17" height="5.15" fill="#aa337d"/>
<rect x="251.13" y="175.95" width="5.17" height="5.15" fill="#5d177f"/>
<rect x="256" y="175.95" width="5.17" height="5.15" fill="#36106b"/>
<rect x="260.87" y="175.95" width="5.17" height="5.15" fill="#21114e"/>
<rect x="265.74" y="175.95" width="5.17" height="5.15" fill="#0e0b2b"/>
<rect x="66.07" y="180.8" width="5.17" height="5.15" fill="#f2645c"/>
<rect x="70.94" y="180.8" width="5.17" height="5.15" fill="#de4968"/>
<rect x="75.81" y="180.8" width="5.17" height="5.15" fill="#c23b75"/>
<rect x="80.68" y="180.8" width="5.17" height="5.15" fill="#cf4070"/>
<rect x="85.55" y="180.8" width="5.17" height="5.15" fill="#de4968"/>
<rect x="90.42" y="180.8" width="5.17" height="5.15" fill="#e75263"/>
<rect x="95.29" y="180.8" width="5.17" height="5.15" fill="#de4968"/>
<rect x="100.16" y="180.8" width="14.91" height="5.15" fill="#cf4070"/>
<rect x="114.77" y="180.8" width="5.17" height="5.15" fill="#b3367a"/>
<rect x="119.64" y="180.8" width="10.04" height="5.15" fill="#a02f7f"/>
<rect x="129.38" y="180.8" width="5.17" height="5.15" fill="#c23b75"/>
<rect x="134.25" y="180.8" width="5.17" height="5.15" fill="#f2645c"/>
<rect x="139.12" y="180.8" width="5.17" height="5.15" fill="#fc8e64"/>
<rect x="143.99" y="180.8" width="5.17" height="5.15" fill="#feb77e"/>
<rect x="148.86" y="180.8" width="5.17" height="5.15" fill="#fcf0b2"/>
<rect x="153.73" y="180.8" width="5.17" height="5.15" fill="#fcfdbf"/>
<rect x="158.6" y="180.8" width="5.17" height="5.15" fill="#fecf92"/>
<rect x="163.47" y="180.8" width="5.17" height="5.15" fill="#feae77"/>
<rect x="168.34" y="180.8" width="5.17" height="5.15" fill="#fec68a"/>
<rect x="173.21" y="180.8" width="5.17" height="5.15" fill="#fed89a"/>
<rect x="178.08" y="180.8" width="5.17" height="5.15" fill="#fec68a"/>
<rect x="182.95" y="180.8" width="5.17" height="5.15" fill="#fea973"/>
<rect x="187.82" y="180.8" width="10.04" height="5.15" fill="#fea36f"/>
<rect x="197.56" y="180.8" width="5.17" height="5.15" fill="#feb77e"/>
<rect x="202.43" y="180.8" width="5.17" height="5.15" fill="#fde7a9"/>
<rect x="207.3" y="180.8" width="14.91" height="5.15" fill="#fcfdbf"/>
<rect x="221.91" y="180.8" width="5.17" height="5.15" fill="#fec68a"/>
<rect x="226.78" y="180.8" width="5.17" height="5.15" fill="#fc8e64"/>
<rect x="231.65" y="180.8" width="5.17" height="5.15" fill="#f56b5c"/>
<rect x="236.52" y="180.8" width="5.17" height="5.15" fill="#de4968"/>
<rect x="241.39" y="180.8" width="5.17" height="5.15" fill="#b3367a"/>
<rect x="246.26" y="180.8" width="5.17" height="5.15" fill="#832681"/>
<rect x="251.13" y="180.8" width="5.17" height="5.15" fill="#420f75"/>
<rect x="256" y="180.8" width="5.17" height="5.15" fill="#21114e"/>
<rect x="260.87" y="180.8" width="5.17" height="5.15" fill="#140e36"/>
<rect x="265.74" y="180.8" width="5.17" height="5.15" fill="#090720"/>
<rect x="70.94" y="185.65" width="5.17" height="5.15" fill="#aa337d"/>
<rect x="75.81" y="185.65" width="5.17" height="5.15" fill="#a02f7f"/>
<rect x="80.68" y="185.65" width="5.17" height="5.15" fill="#b3367a"/>
<rect x="85.55" y="185.65" width="5.17" height="5.15" fill="#c23b75"/>
<rect x="90.42" y="185.65" width="5.17" height="5.15" fill="#cf4070"/>
<rect x="95.29" y="185.65" width="10.04" height="5.15" fill="#d6456c"/>
<rect x="105.03" y="185.65" width="5.17" height="5.15" fill="#de4968"/>
<rect x="109.9" y="185.65" width="5.17" height="5.15" fill="#db476a"/>
<rect x="114.77" y="185.65" width="5.17" height="5.15" fill="#c53c74"/>
<rect x="119.64" y="185.65" width="10.04" height="5.15" fill="#b3367a"/>
<rect x="129.38" y="185.65" width="5.17" height="5.15" fill="#cf4070"/>
<rect x="134.25" y="185.65" width="5.17" height="5.15" fill="#ee5b5e"/>
<rect x="139.12" y="185.65" width="5.17" height="5.15" fill="#fa815f"/>
<rect x="143.99" y="185.65" width="5.17" height="5.15" fill="#feae77"/>
<rect x="148.86" y="185.65" width="5.17" height="5.15" fill="#fcf0b2"/>
<rect x="153.73" y="185.65" width="5.17" height="5.15" fill="#fcfdbf"/>
<rect x="158.6" y="185.65" width="5.17" height="5.15" fill="#fed89a"/>
<rect x="163.47" y="185.65" width="5.17" height="5.15" fill="#feae77"/>
<rect x="168.34" y="185.65" width="5.17" height="5.15" fill="#fea973"/>
<rect x="173.21" y="185.65" width="5.17" height="5.15" fill="#fea36f"/>
<rect x="178.08" y="185.65" width="5.17" height="5.15" fill="#fd9869"/>
<rect x="182.95" y="185.65" width="5.17" height="5.15" fill="#fed89a"/>
<rect x="187.82" y="185.65" width="5.17" height="5.15" fill="#fde7a9"/>
<rect x="192.69" y="185.65" width="5.17" height="5.15" fill="#fec68a"/>
<rect x="197.56" y="185.65" width="5.17" height="5.15" fill="#feae77"/>
<rect x="202.43" y="185.65" width="5.17" height="5.15" fill="#fea36f"/>
<rect x="207.3" y="185.65" width="5.17" height="5.15" fill="#fec68a"/>
<rect x="212.17" y="185.65" width="5.17" height="5.15" fill="#fcfdbf"/>
<rect x="217.04" y="185.65" width="5.17" height="5.15" fill="#fcf0b2"/>
<rect x="221.91" y="185.65" width="5.17" height="5.15" fill="#fea36f"/>
<rect x="226.78" y="185.65" width="5.17" height="5.15" fill="#f56b5c"/>
<rect x="231.65" y="185.65" width="5.17" height="5.15" fill="#de4968"/>
<rect x="236.52" y="185.65" width="5.17" height="5.15" fill="#b3367a"/>
<rect x="241.39" y="185.65" width="5.17" height="5.15" fill="#912b81"/>
<rect x="246.26" y="185.65" width="5.17" height="5.15" fill="#6d1d81"/>
<rect x="251.13" y="185.65" width="5.17" height="5.15" fill="#2a115c"/>
<rect x="256" y="185.65" width="5.17" height="5.15" fill="#140e36"/>
<rect x="260.87" y="185.65" width="5.17" height="5.15" fill="#0e0b2b"/>
<rect x="265.74" y="185.65" width="5.17" height="5.15" fill="#06051a"/>
<rect x="70.94" y="190.5" width="5.17" height="5.15" fill="#782281"/>
<rect x="75.81" y="190.5" width="5.17" height="5.15" fill="#6d1d81"/>
<rect x="80.68" y="190.5" width="5.17" height="5.15" fill="#912b81"/>
<rect x="85.55" y="190.5" width="5.17" height="5.15" fill="#aa337d"/>
<rect x="90.42" y="190.5" width="5.17" height="5.15" fill="#b3367a"/>
<rect x="95.29" y="190.5" width="5.17" height="5.15" fill="#c23b75"/>
<rect x="100.16" y="190.5" width="5.17" height="5.15" fill="#cf4070"/>
<rect x="105.03" y="190.5" width="5.17" height="5.15" fill="#d6456c"/>
<rect x="109.9" y="190.5" width="5.17" height="5.15" fill="#de4968"/>
<rect x="114.77" y="190.5" width="5.17" height="5.15" fill="#d2426f"/>
<rect x="119.64" y="190.5" width="5.17" height="5.15" fill="#c53c74"/>
<rect x="124.51" y="190.5" width="5.17" height="5.15" fill="#c23b75"/>
<rect x="129.38" y="190.5" width="5.17" height="5.15" fill="#d6456c"/>
<rect x="134.25" y="190.5" width="5.17" height="5.15" fill="#ee5b5e"/>
<rect x="139.12" y="190.5" width="5.17" height="5.15" fill="#f8765c"/>
<rect x="143.99" y="190.5" width="5.17" height="5.15" fill="#fea36f"/>
<rect x="148.86" y="190.5" width="5.17" height="5.15" fill="#fed89a"/>
<rect x="153.73" y="190.5" width="5.17" height="5.15" fill="#fde7a9"/>
<rect x="158.6" y="190.5" width="5.17" height="5.15" fill="#feb77e"/>
<rect x="163.47" y="190.5" width="5.17" height="5.15" fill="#fd9869"/>
<rect x="168.34" y="190.5" width="5.17" height="5.15" fill="#fc8e64"/>
<rect x="173.21" y="190.5" width="5.17" height="5.15" fill="#f56b5c"/>
<rect x="178.08" y="190.5" width="5.17" height="5.15" fill="#fb8761"/>
<rect x="182.95" y="190.5" width="5.17" height="5.15" fill="#fde7a9"/>
<rect x="187.82" y="190.5" width="5.17" height="5.15" fill="#fcf0b2"/>
<rect x="192.69" y="190.5" width="5.17" height="5.15" fill="#feb77e"/>
<rect x="197.56" y="190.5" width="5.17" height="5.15" fill="#fb8761"/>
<rect x="202.43" y="190.5" width="5.17" height="5.15" fill="#f8765c"/>
<rect x="207.3" y="190.5" width="5.17" height="5.15" fill="#fa815f"/>
<rect x="212.17" y="190.5" width="10.04" height="5.15" fill="#fea973"/>
<rect x="221.91" y="190.5" width="5.17" height="5.15" fill="#fa815f"/>
<rect x="226.78" y="190.5" width="5.17" height="5.15" fill="#e75263"/>
<rect x="231.65" y="190.5" width="5.17" height="5.15" fill="#c23b75"/>
<rect x="236.52" y="190.5" width="5.17" height="5.15" fill="#a02f7f"/>
<rect x="241.39" y="190.5" width="5.17" height="5.15" fill="#782281"/>
<rect x="246.26" y="190.5" width="5.17" height="5.15" fill="#5d177f"/>
<rect x="251.13" y="190.5" width="5.17" height="5.15" fill="#21114e"/>
<rect x="256" y="190.5" width="5.17" height="5.15" fill="#120d31"/>
<rect x="260.87" y="190.5" width="5.17" height="5.15" fill="#0b0924"/>
<rect x="265.74" y="190.5" width="5.17" height="5.15" fill="#050416"/>
<rect x="70.94" y="195.35" width="5.17" height="5.15" fill="#5d177f"/>
<rect x="75.81" y="195.35" width="5.17" height="5.15" fill="#6d1d81"/>
<rect x="80.68" y="195.35" width="5.17" height="5.15" fill="#912b81"/>
<rect x="85.55" y="195.35" width="5.17" height="5.15" fill="#a02f7f"/>
<rect x="90.42" y="195.35" width="10.04" height="5.15" fill="#aa337d"/>
<rect x="100.16" y="195.35" width="5.17" height="5.15" fill="#b3367a"/>
<rect x="105.03" y="195.35" width="5.17" height="5.15" fill="#cf4070"/>
<rect x="109.9" y="195.35" width="5.17" height="5.15" fill="#d6456c"/>
<rect x="114.77" y="195.35" width="5.17" height="5.15" fill="#e04c67"/>
<rect x="119.64" y="195.35" width="5.17" height="5.15" fill="#e44f64"/>
<rect x="124.51" y="195.35" width="5.17" height="5.15" fill="#d6456c"/>
<rect x="129.38" y="195.35" width="5.17" height="5.15" fill="#de4968"/>
<rect x="134.25" y="195.35" width="5.17" height="5.15" fill="#e75263"/>
<rect x="139.12" y="195.35" width="5.17" height="5.15" fill="#f56b5c"/>
<rect x="143.99" y="195.35" width="5.17" height="5.15" fill="#fd9869"/>
<rect x="148.86" y="195.35" width="5.17" height="5.15" fill="#fec68a"/>
<rect x="153.73" y="195.35" width="10.04" height="5.15" fill="#fde7a9"/>
<rect x="163.47" y="195.35" width="10.04" height="5.15" fill="#fcf0b2"/>
<rect x="173.21" y="195.35" width="10.04" height="5.15" fill="#fed89a"/>
<rect x="182.95" y="195.35" width="5.17" height="5.15" fill="#fde7a9"/>
<rect x="187.82" y="195.35" width="5.17" height="5.15" fill="#fecf92"/>
<rect x="192.69" y="195.35" width="5.17" height="5.15" fill="#fb8761"/>
<rect x="197.56" y="195.35" width="5.17" height="5.15" fill="#e75263"/>
<rect x="202.43" y="195.35" width="5.17" height="5.15" fill="#cf4070"/>
<rect x="207.3" y="195.35" width="5.17" height="5.15" fill="#b3367a"/>
<rect x="212.17" y="195.35" width="5.17" height="5.15" fill="#a02f7f"/>
<rect x="217.04" y="195.35" width="5.17" height="5.15" fill="#912b81"/>
<rect x="221.91" y="195.35" width="5.17" height="5.15" fill="#782281"/>
<rect x="226.78" y="195.35" width="5.17" height="5.15" fill="#5d177f"/>
<rect x="231.65" y="195.35" width="5.17" height="5.15" fill="#4e117b"/>
<rect x="236.52" y="195.35" width="5.17" height="5.15" fill="#420f75"/>
<rect x="241.39" y="195.35" width="5.17" height="5.15" fill="#36106b"/>
<rect x="246.26" y="195.35" width="5.17" height="5.15" fill="#251255"/>
<rect x="251.13" y="195.35" width="5.17" height="5.15" fill="#140e36"/>
<rect x="256" y="195.35" width="5.17" height="5.15" fill="#0b0924"/>
<rect x="260.87" y="195.35" width="5.17" height="5.15" fill="#06051a"/>
<rect x="265.74" y="195.35" width="5.17" height="5.15" fill="#03030f"/>
<rect x="70.94" y="200.2" width="5.17" height="5.15" fill="#251255"/>
<rect x="75.81" y="200.2" width="5.17" height="5.15" fill="#420f75"/>
<rect x="80.68" y="200.2" width="5.17" height="5.15" fill="#5d177f"/>
<rect x="85.55" y="200.2" width="5.17" height="5.15" fill="#6d1d81"/>
<rect x="90.42" y="200.2" width="10.04" height="5.15" fill="#782281"/>
<rect x="100.16" y="200.2" width="5.17" height="5.15" fill="#832681"/>
<rect x="105.03" y="200.2" width="5.17" height="5.15" fill="#912b81"/>
<rect x="109.9" y="200.2" width="5.17" height="5.15" fill="#a02f7f"/>
<rect x="114.77" y="200.2" width="5.17" height="5.15" fill="#b3367a"/>
<rect x="119.64" y="200.2" width="5.17" height="5.15" fill="#c23b75"/>
<rect x="124.51" y="200.2" width="5.17" height="5.15" fill="#b3367a"/>
<rect x="129.38" y="200.2" width="5.17" height="5.15" fill="#c23b75"/>
<rect x="134.25" y="200.2" width="5.17" height="5.15" fill="#cf4070"/>
<rect x="139.12" y="200.2" width="5.17" height="5.15" fill="#e75263"/>
<rect x="143.99" y="200.2" width="5.17" height="5.15" fill="#f56b5c"/>
<rect x="148.86" y="200.2" width="5.17" height="5.15" fill="#fd9b6b"/>
<rect x="153.73" y="200.2" width="5.17" height="5.15" fill="#feb77e"/>
<rect x="158.6" y="200.2" width="5.17" height="5.15" fill="#fecf92"/>
<rect x="163.47" y="200.2" width="10.04" height="5.15" fill="#fde7a9"/>
<rect x="173.21" y="200.2" width="5.17" height="5.15" fill="#fed89a"/>
<rect x="178.08" y="200.2" width="5.17" height="5.15" fill="#fec68a"/>
<rect x="182.95" y="200.2" width="5.17" height="5.15" fill="#feae77"/>
<rect x="187.82" y="200.2" width="5.17" height="5.15" fill="#fc8e64"/>
<rect x="192.69" y="200.2" width="5.17" height="5.15" fill="#de4968"/>
<rect x="197.56" y="200.2" width="5.17" height="5.15" fill="#b3367a"/>
<rect x="202.43" y="200.2" width="5.17" height="5.15" fill="#912b81"/>
<rect x="207.3" y="200.2" width="5.17" height="5.15" fill="#782281"/>
<rect x="212.17" y="200.2" width="5.17" height="5.15" fill="#6d1d81"/>
<rect x="217.04" y="200.2" width="5.17" height="5.15" fill="#5d177f"/>
<rect x="221.91" y="200.2" width="5.17" height="5.15" fill="#4e117b"/>
<rect x="226.78" y="200.2" width="5.17" height="5.15" fill="#36106b"/>
<rect x="231.65" y="200.2" width="5.17" height="5.15" fill="#2a115c"/>
<rect x="236.52" y="200.2" width="5.17" height="5.15" fill="#251255"/>
<rect x="241.39" y="200.2" width="5.17" height="5.15" fill="#21114e"/>
<rect x="246.26" y="200.2" width="5.17" height="5.15" fill="#1a1042"/>
<rect x="251.13" y="200.2" width="5.17" height="5.15" fill="#0e0b2b"/>
<rect x="256" y="200.2" width="5.17" height="5.15" fill="#090720"/>
<rect x="260.87" y="200.2" width="5.17" height="5.15" fill="#050416"/>
<rect x="265.74" y="200.2" width="5.17" height="5.15" fill="#02020b"/>
<rect x="75.81" y="205.05" width="5.17" height="5.15" fill="#251255"/>
<rect x="80.68" y="205.05" width="5.17" height="5.15" fill="#420f75"/>
<rect x="85.55" y="205.05" width="5.17" height="5.15" fill="#4e117b"/>
<rect x="90.42" y="205.05" width="5.17" height="5.15" fill="#5d177f"/>
<rect x="95.29" y="205.05" width="10.04" height="5.15" fill="#6d1d81"/>
<rect x="105.03" y="205.05" width="5.17" height="5.15" fill="#782281"/>
<rect x="109.9" y="205.05" width="5.17" height="5.15" fill="#882781"/>
<rect x="114.77" y="205.05" width="5.17" height="5.15" fill="#9b2e7f"/>
<rect x="119.64" y="205.05" width="5.17" height="5.15" fill="#aa337d"/>
<rect x="124.51" y="205.05" width="10.04" height="5.15" fill="#a02f7f"/>
<rect x="134.25" y="205.05" width="5.17" height="5.15" fill="#aa337d"/>
<rect x="139.12" y="205.05" width="5.17" height="5.15" fill="#c23b75"/>
<rect x="143.99" y="205.05" width="5.17" height="5.15" fill="#de4968"/>
<rect x="148.86" y="205.05" width="5.17" height="5.15" fill="#ee5b5e"/>
<rect x="153.73" y="205.05" width="5.17" height="5.15" fill="#f8765c"/>
<rect x="158.6" y="205.05" width="5.17" height="5.15" fill="#fb8761"/>
<rect x="163.47" y="205.05" width="5.17" height="5.15" fill="#fea36f"/>
<rect x="168.34" y="205.05" width="5.17" height="5.15" fill="#fea973"/>
<rect x="173.21" y="205.05" width="5.17" height="5.15" fill="#fea36f"/>
<rect x="178.08" y="205.05" width="5.17" height="5.15" fill="#fc8e64"/>
<rect x="182.95" y="205.05" width="5.17" height="5.15" fill="#f8765c"/>
<rect x="187.82" y="205.05" width="5.17" height="5.15" fill="#ea5661"/>
<rect x="192.69" y="205.05" width="5.17" height="5.15" fill="#b3367a"/>
<rect x="197.56" y="205.05" width="5.17" height="5.15" fill="#832681"/>
<rect x="202.43" y="205.05" width="5.17" height="5.15" fill="#6d1d81"/>
<rect x="207.3" y="205.05" width="5.17" height="5.15" fill="#5d177f"/>
<rect x="212.17" y="205.05" width="5.17" height="5.15" fill="#4e117b"/>
<rect x="217.04" y="205.05" width="5.17" height="5.15" fill="#420f75"/>
<rect x="221.91" y="205.05" width="5.17" height="5.15" fill="#36106b"/>
<rect x="226.78" y="205.05" width="5.17" height="5.15" fill="#251255"/>
<rect x="231.65" y="205.05" width="5.17" height="5.15" fill="#21114e"/>
<rect x="236.52" y="205.05" width="5.17" height="5.15" fill="#1e1149"/>
<rect x="241.39" y="205.05" width="5.17" height="5.15" fill="#1a1042"/>
<rect x="246.26" y="205.05" width="5.17" height="5.15" fill="#180f3d"/>
<rect x="251.13" y="205.05" width="5.17" height="5.15" fill="#0e0b2b"/>
<rect x="256" y="205.05" width="5.17" height="5.15" fill="#090720"/>
<rect x="260.87" y="205.05" width="5.17" height="5.15" fill="#050416"/>
<rect x="265.74" y="205.05" width="5.17" height="5.15" fill="#02020b"/>
<rect x="75.81" y="209.9" width="5.17" height="5.15" fill="#1a1042"/>
<rect x="80.68" y="209.9" width="5.17" height="5.15" fill="#251255"/>
<rect x="85.55" y="209.9" width="5.17" height="5.15" fill="#36106b"/>
<rect x="90.42" y="209.9" width="5.17" height="5.15" fill="#420f75"/>
<rect x="95.29" y="209.9" width="10.04" height="5.15" fill="#4e117b"/>
<rect x="105.03" y="209.9" width="5.17" height="5.15" fill="#5d177f"/>
<rect x="109.9" y="209.9" width="5.17" height="5.15" fill="#6d1d81"/>
<rect x="114.77" y="209.9" width="5.17" height="5.15" fill="#7c2382"/>
<rect x="119.64" y="209.9" width="5.17" height="5.15" fill="#8c2981"/>
<rect x="124.51" y="209.9" width="10.04" height="5.15" fill="#782281"/>
<rect x="134.25" y="209.9" width="5.17" height="5.15" fill="#832681"/>
<rect x="139.12" y="209.9" width="5.17" height="5.15" fill="#912b81"/>
<rect x="143.99" y="209.9" width="5.17" height="5.15" fill="#a02f7f"/>
<rect x="148.86" y="209.9" width="5.17" height="5.15" fill="#b3367a"/>
<rect x="153.73" y="209.9" width="5.17" height="5.15" fill="#cf4070"/>
<rect x="158.6" y="209.9" width="5.17" height="5.15" fill="#de4968"/>
<rect x="163.47" y="209.9" width="5.17" height="5.15" fill="#ee5b5e"/>
<rect x="168.34" y="209.9" width="5.17" height="5.15" fill="#f2645c"/>
<rect x="173.21" y="209.9" width="5.17" height="5.15" fill="#ee5b5e"/>
<rect x="178.08" y="209.9" width="5.17" height="5.15" fill="#de4968"/>
<rect x="182.95" y="209.9" width="5.17" height="5.15" fill="#cf4070"/>
<rect x="187.82" y="209.9" width="5.17" height="5.15" fill="#b3367a"/>
<rect x="192.69" y="209.9" width="5.17" height="5.15" fill="#912b81"/>
<rect x="197.56" y="209.9" width="5.17" height="5.15" fill="#6d1d81"/>
<rect x="202.43" y="209.9" width="5.17" height="5.15" fill="#5d177f"/>
<rect x="207.3" y="209.9" width="5.17" height="5.15" fill="#4e117b"/>
<rect x="212.17" y="209.9" width="5.17" height="5.15" fill="#420f75"/>
<rect x="217.04" y="209.9" width="5.17" height="5.15" fill="#36106b"/>
<rect x="221.91" y="209.9" width="5.17" height="5.15" fill="#251255"/>
<rect x="226.78" y="209.9" width="5.17" height="5.15" fill="#21114e"/>
<rect x="231.65" y="209.9" width="5.17" height="5.15" fill="#1e1149"/>
<rect x="236.52" y="209.9" width="10.04" height="5.15" fill="#1a1042"/>
<rect x="246.26" y="209.9" width="5.17" height="5.15" fill="#180f3d"/>
<rect x="251.13" y="209.9" width="5.17" height="5.15" fill="#0e0b2b"/>
<rect x="256" y="209.9" width="5.17" height="5.15" fill="#090720"/>
<rect x="260.87" y="209.9" width="5.17" height="5.15" fill="#06051a"/>
<rect x="265.74" y="209.9" width="5.17" height="5.15" fill="#02020b"/>
<rect x="75.81" y="214.75" width="5.17" height="5.15" fill="#140e36"/>
<rect x="80.68" y="214.75" width="5.17" height="5.15" fill="#1a1042"/>
<rect x="85.55" y="214.75" width="5.17" height="5.15" fill="#251255"/>
<rect x="90.42" y="214.75" width="5.17" height="5.15" fill="#311165"/>
<rect x="95.29" y="214.75" width="5.17" height="5.15" fill="#36106b"/>
<rect x="100.16" y="214.75" width="5.17" height="5.15" fill="#420f75"/>
<rect x="105.03" y="214.75" width="5.17" height="5.15" fill="#4e117b"/>
<rect x="109.9" y="214.75" width="5.17" height="5.15" fill="#5d177f"/>
<rect x="114.77" y="214.75" width="5.17" height="5.15" fill="#641a80"/>
<rect x="119.64" y="214.75" width="5.17" height="5.15" fill="#681c81"/>
<rect x="124.51" y="214.75" width="5.17" height="5.15" fill="#5d177f"/>
<rect x="129.38" y="214.75" width="10.04" height="5.15" fill="#4e117b"/>
<rect x="139.12" y="214.75" width="5.17" height="5.15" fill="#5d177f"/>
<rect x="143.99" y="214.75" width="5.17" height="5.15" fill="#6d1d81"/>
<rect x="148.86" y="214.75" width="5.17" height="5.15" fill="#782281"/>
<rect x="153.73" y="214.75" width="5.17" height="5.15" fill="#832681"/>
<rect x="158.6" y="214.75" width="5.17" height="5.15" fill="#912b81"/>
<rect x="163.47" y="214.75" width="5.17" height="5.15" fill="#a02f7f"/>
<rect x="168.34" y="214.75" width="5.17" height="5.15" fill="#aa337d"/>
<rect x="173.21" y="214.75" width="5.17" height="5.15" fill="#a02f7f"/>
<rect x="178.08" y="214.75" width="5.17" height="5.15" fill="#912b81"/>
<rect x="182.95" y="214.75" width="5.17" height="5.15" fill="#832681"/>
<rect x="187.82" y="214.75" width="5.17" height="5.15" fill="#782281"/>
<rect x="192.69" y="214.75" width="5.17" height="5.15" fill="#6d1d81"/>
<rect x="197.56" y="214.75" width="5.17" height="5.15" fill="#5d177f"/>
<rect x="202.43" y="214.75" width="5.17" height="5.15" fill="#4e117b"/>
<rect x="207.3" y="214.75" width="5.17" height="5.15" fill="#420f75"/>
<rect x="212.17" y="214.75" width="5.17" height="5.15" fill="#36106b"/>
<rect x="217.04" y="214.75" width="5.17" height="5.15" fill="#2a115c"/>
<rect x="221.91" y="214.75" width="5.17" height="5.15" fill="#21114e"/>
<rect x="226.78" y="214.75" width="5.17" height="5.15" fill="#1e1149"/>
<rect x="231.65" y="214.75" width="14.91" height="5.15" fill="#1a1042"/>
<rect x="246.26" y="214.75" width="5.17" height="5.15" fill="#180f3d"/>
<rect x="251.13" y="214.75" width="5.17" height="5.15" fill="#0e0b2b"/>
<rect x="256" y="214.75" width="5.17" height="5.15" fill="#0b0924"/>
<rect x="260.87" y="214.75" width="5.17" height="5.15" fill="#090720"/>
<rect x="265.74" y="214.75" width="5.17" height="5.15" fill="#03030f"/>
<rect x="80.68" y="219.6" width="5.17" height="5.15" fill="#140e36"/>
<rect x="85.55" y="219.6" width="5.17" height="5.15" fill="#1a1042"/>
<rect x="90.42" y="219.6" width="5.17" height="5.15" fill="#21114e"/>
<rect x="95.29" y="219.6" width="5.17" height="5.15" fill="#1a1042"/>
<rect x="100.16" y="219.6" width="5.17" height="5.15" fill="#36106b"/>
<rect x="105.03" y="219.6" width="5.17" height="5.15" fill="#420f75"/>
<rect x="109.9" y="219.6" width="5.17" height="5.15" fill="#4e117b"/>
<rect x="114.77" y="219.6" width="5.17" height="5.15" fill="#54137d"/>
<rect x="119.64" y="219.6" width="5.17" height="5.15" fill="#59157e"/>
<rect x="124.51" y="219.6" width="5.17" height="5.15" fill="#420f75"/>
<rect x="129.38" y="219.6" width="14.91" height="5.15" fill="#36106b"/>
<rect x="143.99" y="219.6" width="5.17" height="5.15" fill="#420f75"/>
<rect x="148.86" y="219.6" width="10.04" height="5.15" fill="#4e117b"/>
<rect x="158.6" y="219.6" width="19.78" height="5.15" fill="#5d177f"/>
<rect x="178.08" y="219.6" width="10.04" height="5.15" fill="#4e117b"/>
<rect x="187.82" y="219.6" width="5.17" height="5.15" fill="#491078"/>
<rect x="192.69" y="219.6" width="5.17" height="5.15" fill="#420f75"/>
<rect x="197.56" y="219.6" width="5.17" height="5.15" fill="#36106b"/>
<rect x="202.43" y="219.6" width="5.17" height="5.15" fill="#311165"/>
<rect x="207.3" y="219.6" width="5.17" height="5.15" fill="#2a115c"/>
<rect x="212.17" y="219.6" width="5.17" height="5.15" fill="#251255"/>
<rect x="217.04" y="219.6" width="5.17" height="5.15" fill="#21114e"/>
<rect x="221.91" y="219.6" width="5.17" height="5.15" fill="#1e1149"/>
<rect x="226.78" y="219.6" width="19.78" height="5.15" fill="#1a1042"/>
<rect x="246.26" y="219.6" width="5.17" height="5.15" fill="#180f3d"/>
<rect x="251.13" y="219.6" width="5.17" height="5.15" fill="#0e0b2b"/>
<rect x="256" y="219.6" width="5.17" height="5.15" fill="#06051a"/>
<rect x="260.87" y="219.6" width="5.17" height="5.15" fill="#03030f"/>
<rect x="80.68" y="224.45" width="5.17" height="5.15" fill="#140e36"/>
<rect x="85.55" y="224.45" width="5.17" height="5.15" fill="#1a1042"/>
<rect x="90.42" y="224.45" width="5.17" height="5.15" fill="#1e1149"/>
<rect x="95.29" y="224.45" width="5.17" height="5.15" fill="#21114e"/>
<rect x="100.16" y="224.45" width="5.17" height="5.15" fill="#251255"/>
<rect x="105.03" y="224.45" width="5.17" height="5.15" fill="#311165"/>
<rect x="109.9" y="224.45" width="5.17" height="5.15" fill="#36106b"/>
<rect x="114.77" y="224.45" width="10.04" height="5.15" fill="#3d0f71"/>
<rect x="124.51" y="224.45" width="5.17" height="5.15" fill="#251255"/>
<rect x="129.38" y="224.45" width="14.91" height="5.15" fill="#21114e"/>
<rect x="143.99" y="224.45" width="14.91" height="5.15" fill="#251255"/>
<rect x="158.6" y="224.45" width="14.91" height="5.15" fill="#2a115c"/>
<rect x="173.21" y="224.45" width="10.04" height="5.15" fill="#251255"/>
<rect x="182.95" y="224.45" width="19.78" height="5.15" fill="#21114e"/>
<rect x="202.43" y="224.45" width="14.91" height="5.15" fill="#1e1149"/>
<rect x="217.04" y="224.45" width="19.78" height="5.15" fill="#1a1042"/>
<rect x="236.52" y="224.45" width="5.17" height="5.15" fill="#180f3d"/>
<rect x="241.39" y="224.45" width="5.17" height="5.15" fill="#140e36"/>
<rect x="246.26" y="224.45" width="5.17" height="5.15" fill="#0e0b2b"/>
<rect x="251.13" y="224.45" width="5.17" height="5.15" fill="#06051a"/>
<rect x="260.87" y="224.45" width="10.04" height="5.15" fill="#2a115c"/>
<rect x="80.68" y="229.3" width="5.17" height="5.15" fill="#0e0b2b"/>
<rect x="85.55" y="229.3" width="5.17" height="5.15" fill="#1a1042"/>
<rect x="90.42" y="229.3" width="5.17" height="5.15" fill="#1e1149"/>
<rect x="95.29" y="229.3" width="5.17" height="5.15" fill="#21114e"/>
<rect x="100.16" y="229.3" width="14.91" height="5.15" fill="#251255"/>
<rect x="114.77" y="229.3" width="5.17" height="5.15" fill="#21114e"/>
<rect x="119.64" y="229.3" width="5.17" height="5.15" fill="#1e1149"/>
<rect x="124.51" y="229.3" width="10.04" height="5.15" fill="#1a1042"/>
<rect x="134.25" y="229.3" width="10.04" height="5.15" fill="#0e0b2b"/>
<rect x="143.99" y="229.3" width="5.17" height="5.15" fill="#1a1042"/>
<rect x="148.86" y="229.3" width="10.04" height="5.15" fill="#1e1149"/>
<rect x="158.6" y="229.3" width="78.22" height="5.15" fill="#1a1042"/>
<rect x="236.52" y="229.3" width="5.17" height="5.15" fill="#140e36"/>
<rect x="241.39" y="229.3" width="5.17" height="5.15" fill="#03030f"/>
<rect x="251.13" y="229.3" width="10.04" height="5.15" fill="#2a115c"/>
<rect x="80.68" y="234.15" width="5.17" height="5.15" fill="#06051a"/>
<rect x="85.55" y="234.15" width="5.17" height="5.15" fill="#140e36"/>
<rect x="90.42" y="234.15" width="5.17" height="5.15" fill="#1a1042"/>
<rect x="95.29" y="234.15" width="5.17" height="5.15" fill="#1e1149"/>
<rect x="100.16" y="234.15" width="5.17" height="5.15" fill="#21114e"/>
<rect x="105.03" y="234.15" width="5.17" height="5.15" fill="#1e1149"/>
<rect x="109.9" y="234.15" width="5.17" height="5.15" fill="#251255"/>
<rect x="114.77" y="234.15" width="5.17" height="5.15" fill="#21114e"/>
<rect x="119.64" y="234.15" width="5.17" height="5.15" fill="#1e1149"/>
<rect x="124.51" y="234.15" width="29.52" height="5.15" fill="#1a1042"/>
<rect x="153.73" y="234.15" width="5.17" height="5.15" fill="#1e1149"/>
<rect x="158.6" y="234.15" width="5.17" height="5.15" fill="#21114e"/>
<rect x="163.47" y="234.15" width="5.17" height="5.15" fill="#1a1042"/>
<rect x="168.34" y="234.15" width="14.91" height="5.15" fill="#180f3d"/>
<rect x="182.95" y="234.15" width="5.17" height="5.15" fill="#140e36"/>
<rect x="187.82" y="234.15" width="5.17" height="5.15" fill="#120d31"/>
<rect x="192.69" y="234.15" width="14.91" height="5.15" fill="#140e36"/>
<rect x="207.3" y="234.15" width="24.65" height="5.15" fill="#0e0b2b"/>
<rect x="231.65" y="234.15" width="5.17" height="5.15" fill="#2a115c"/>
<rect x="236.52" y="234.15" width="5.17" height="5.15" fill="#03030f"/>
<rect x="85.55" y="239" width="5.17" height="5.15" fill="#140e36"/>
<rect x="90.42" y="239" width="5.17" height="5.15" fill="#1a1042"/>
<rect x="95.29" y="239" width="10.04" height="5.15" fill="#1e1149"/>
<rect x="105.03" y="239" width="5.17" height="5.15" fill="#1a1042"/>
<rect x="109.9" y="239" width="5.17" height="5.15" fill="#21114e"/>
<rect x="114.77" y="239" width="5.17" height="5.15" fill="#251255"/>
<rect x="119.64" y="239" width="5.17" height="5.15" fill="#21114e"/>
<rect x="124.51" y="239" width="5.17" height="5.15" fill="#1a1042"/>
<rect x="129.38" y="239" width="5.17" height="5.15" fill="#1e1149"/>
<rect x="134.25" y="239" width="10.04" height="5.15" fill="#251255"/>
<rect x="143.99" y="239" width="5.17" height="5.15" fill="#1e1149"/>
<rect x="148.86" y="239" width="14.91" height="5.15" fill="#1a1042"/>
<rect x="163.47" y="239" width="14.91" height="5.15" fill="#140e36"/>
<rect x="178.08" y="239" width="5.17" height="5.15" fill="#120d31"/>
<rect x="182.95" y="239" width="5.17" height="5.15" fill="#0e0b2b"/>
<rect x="187.82" y="239" width="14.91" height="5.15" fill="#090720"/>
<rect x="202.43" y="239" width="14.91" height="5.15" fill="#06051a"/>
<rect x="217.04" y="239" width="10.04" height="5.15" fill="#2a115c"/>
<rect x="85.55" y="243.85" width="5.17" height="5.15" fill="#140e36"/>
<rect x="90.42" y="243.85" width="14.91" height="5.15" fill="#1a1042"/>
<rect x="105.03" y="243.85" width="5.17" height="5.15" fill="#0e0b2b"/>
<rect x="109.9" y="243.85" width="24.65" height="5.15" fill="#1a1042"/>
<rect x="134.25" y="243.85" width="10.04" height="5.15" fill="#1e1149"/>
<rect x="143.99" y="243.85" width="5.17" height="5.15" fill="#1a1042"/>
<rect x="148.86" y="243.85" width="10.04" height="5.15" fill="#140e36"/>
<rect x="158.6" y="243.85" width="5.17" height="5.15" fill="#120d31"/>
<rect x="163.47" y="243.85" width="5.17" height="5.15" fill="#0e0b2b"/>
<rect x="168.34" y="243.85" width="5.17" height="5.15" fill="#090720"/>
<rect x="173.21" y="243.85" width="5.17" height="5.15" fill="#140e36"/>
<rect x="178.08" y="243.85" width="5.17" height="5.15" fill="#0e0b2b"/>
<rect x="182.95" y="243.85" width="14.91" height="5.15" fill="#06051a"/>
<rect x="197.56" y="243.85" width="10.04" height="5.15" fill="#2a115c"/>
<rect x="85.55" y="248.7" width="5.17" height="5.15" fill="#0e0b2b"/>
<rect x="90.42" y="248.7" width="14.91" height="5.15" fill="#140e36"/>
<rect x="105.03" y="248.7" width="5.17" height="5.15" fill="#06051a"/>
<rect x="109.9" y="248.7" width="5.17" height="5.15" fill="#140e36"/>
<rect x="114.77" y="248.7" width="5.17" height="5.15" fill="#0e0b2b"/>
<rect x="119.64" y="248.7" width="24.65" height="5.15" fill="#140e36"/>
<rect x="143.99" y="248.7" width="14.91" height="5.15" fill="#0e0b2b"/>
<rect x="158.6" y="248.7" width="5.17" height="5.15" fill="#090720"/>
<rect x="163.47" y="248.7" width="5.17" height="5.15" fill="#06051a"/>
<rect x="168.34" y="248.7" width="5.17" height="5.15" fill="#050416"/>
<rect x="173.21" y="248.7" width="5.17" height="5.15" fill="#0e0b2b"/>
<rect x="178.08" y="248.7" width="5.17" height="5.15" fill="#06051a"/>
<rect x="182.95" y="248.7" width="5.17" height="5.15" fill="#2a115c"/>
</g>
<rect x="133.2" y="113.6" width="27.6" height="27.1" fill="#000004"/>
<clipPath id="cp2"><rect x="285.4" y="21.9" width="232.2" height="231.4"/></clipPath>
<rect x="285.4" y="21.9" width="232.2" height="231.4" fill="#000004"/>
<g clip-path="url(#cp2)" shape-rendering="crispEdges">
<rect x="280" y="17.8" width="29.76" height="10.1" fill="#06051a"/>
<rect x="309.46" y="17.8" width="29.76" height="10.1" fill="#090720"/>
<rect x="338.92" y="17.8" width="19.94" height="10.1" fill="#0b0924"/>
<rect x="358.56" y="17.8" width="49.4" height="10.1" fill="#0e0b2b"/>
<rect x="407.66" y="17.8" width="19.94" height="10.1" fill="#9b2e7f"/>
<rect x="280" y="27.6" width="29.76" height="10.1" fill="#090720"/>
<rect x="309.46" y="27.6" width="10.12" height="10.1" fill="#0b0924"/>
<rect x="319.28" y="27.6" width="10.12" height="10.1" fill="#140e36"/>
<rect x="329.1" y="27.6" width="10.12" height="10.1" fill="#180f3d"/>
<rect x="338.92" y="27.6" width="10.12" height="10.1" fill="#1a1042"/>
<rect x="348.74" y="27.6" width="10.12" height="10.1" fill="#1e1149"/>
<rect x="358.56" y="27.6" width="10.12" height="10.1" fill="#21114e"/>
<rect x="368.38" y="27.6" width="10.12" height="10.1" fill="#2a115c"/>
<rect x="378.2" y="27.6" width="10.12" height="10.1" fill="#451077"/>
<rect x="388.02" y="27.6" width="10.12" height="10.1" fill="#5f187f"/>
<rect x="397.84" y="27.6" width="10.12" height="10.1" fill="#892881"/>
<rect x="407.66" y="27.6" width="10.12" height="10.1" fill="#a6317d"/>
<rect x="417.48" y="27.6" width="10.12" height="10.1" fill="#9e2f7f"/>
<rect x="427.3" y="27.6" width="10.12" height="10.1" fill="#892881"/>
<rect x="437.12" y="27.6" width="10.12" height="10.1" fill="#681c81"/>
<rect x="446.94" y="27.6" width="10.12" height="10.1" fill="#451077"/>
<rect x="456.76" y="27.6" width="10.12" height="10.1" fill="#03030f"/>
<rect x="280" y="37.4" width="29.76" height="10.1" fill="#0e0b2b"/>
<rect x="309.46" y="37.4" width="10.12" height="10.1" fill="#120d31"/>
<rect x="319.28" y="37.4" width="10.12" height="10.1" fill="#251255"/>
<rect x="329.1" y="37.4" width="10.12" height="10.1" fill="#2a115c"/>
<rect x="338.92" y="37.4" width="10.12" height="10.1" fill="#2d1161"/>
<rect x="348.74" y="37.4" width="10.12" height="10.1" fill="#38106c"/>
<rect x="358.56" y="37.4" width="10.12" height="10.1" fill="#3d0f71"/>
<rect x="368.38" y="37.4" width="10.12" height="10.1" fill="#451077"/>
<rect x="378.2" y="37.4" width="10.12" height="10.1" fill="#5c167f"/>
<rect x="388.02" y="37.4" width="10.12" height="10.1" fill="#701f81"/>
<rect x="397.84" y="37.4" width="10.12" height="10.1" fill="#a6317d"/>
<rect x="407.66" y="37.4" width="10.12" height="10.1" fill="#c43c75"/>
<rect x="417.48" y="37.4" width="10.12" height="10.1" fill="#bc3978"/>
<rect x="427.3" y="37.4" width="10.12" height="10.1" fill="#9b2e7f"/>
<rect x="437.12" y="37.4" width="10.12" height="10.1" fill="#752181"/>
<rect x="446.94" y="37.4" width="10.12" height="10.1" fill="#52137c"/>
<rect x="456.76" y="37.4" width="10.12" height="10.1" fill="#21114e"/>
<rect x="466.58" y="37.4" width="10.12" height="10.1" fill="#1a1042"/>
<rect x="280" y="47.2" width="29.76" height="10.1" fill="#140e36"/>
<rect x="309.46" y="47.2" width="10.12" height="10.1" fill="#2a115c"/>
<rect x="319.28" y="47.2" width="10.12" height="10.1" fill="#451077"/>
<rect x="329.1" y="47.2" width="10.12" height="10.1" fill="#57157e"/>
<rect x="338.92" y="47.2" width="10.12" height="10.1" fill="#681c81"/>
<rect x="348.74" y="47.2" width="19.94" height="10.1" fill="#701f81"/>
<rect x="368.38" y="47.2" width="19.94" height="10.1" fill="#782281"/>
<rect x="388.02" y="47.2" width="10.12" height="10.1" fill="#892881"/>
<rect x="397.84" y="47.2" width="10.12" height="10.1" fill="#b3367a"/>
<rect x="407.66" y="47.2" width="10.12" height="10.1" fill="#e34e65"/>
<rect x="417.48" y="47.2" width="10.12" height="10.1" fill="#f05f5e"/>
<rect x="427.3" y="47.2" width="10.12" height="10.1" fill="#bc3978"/>
<rect x="437.12" y="47.2" width="10.12" height="10.1" fill="#7c2382"/>
<rect x="446.94" y="47.2" width="10.12" height="10.1" fill="#4e117b"/>
<rect x="456.76" y="47.2" width="10.12" height="10.1" fill="#251255"/>
<rect x="466.58" y="47.2" width="10.12" height="10.1" fill="#1a1042"/>
<rect x="476.4" y="47.2" width="19.94" height="10.1" fill="#140e36"/>
<rect x="280" y="57" width="10.12" height="10.1" fill="#06051a"/>
<rect x="289.82" y="57" width="10.12" height="10.1" fill="#0e0b2b"/>
<rect x="299.64" y="57" width="10.12" height="10.1" fill="#1a1042"/>
<rect x="309.46" y="57" width="10.12" height="10.1" fill="#331067"/>
<rect x="319.28" y="57" width="10.12" height="10.1" fill="#5f187f"/>
<rect x="329.1" y="57" width="10.12" height="10.1" fill="#892881"/>
<rect x="338.92" y="57" width="10.12" height="10.1" fill="#a6317d"/>
<rect x="348.74" y="57" width="10.12" height="10.1" fill="#9b2e7f"/>
<rect x="358.56" y="57" width="19.94" height="10.1" fill="#892881"/>
<rect x="378.2" y="57" width="10.12" height="10.1" fill="#7c2382"/>
<rect x="388.02" y="57" width="10.12" height="10.1" fill="#912b81"/>
<rect x="397.84" y="57" width="10.12" height="10.1" fill="#b3367a"/>
<rect x="407.66" y="57" width="10.12" height="10.1" fill="#e34e65"/>
<rect x="417.48" y="57" width="10.12" height="10.1" fill="#f56b5c"/>
<rect x="427.3" y="57" width="10.12" height="10.1" fill="#dc4869"/>
<rect x="437.12" y="57" width="10.12" height="10.1" fill="#892881"/>
<rect x="446.94" y="57" width="10.12" height="10.1" fill="#5f187f"/>
<rect x="456.76" y="57" width="10.12" height="10.1" fill="#331067"/>
<rect x="466.58" y="57" width="10.12" height="10.1" fill="#1e1149"/>
<rect x="476.4" y="57" width="10.12" height="10.1" fill="#180f3d"/>
<rect x="486.22" y="57" width="10.12" height="10.1" fill="#140e36"/>
<rect x="496.04" y="57" width="10.12" height="10.1" fill="#0e0b2b"/>
<rect x="505.86" y="57" width="10.12" height="10.1" fill="#090720"/>
<rect x="515.68" y="57" width="10.12" height="10.1" fill="#03030f"/>
<rect x="280" y="66.8" width="10.12" height="10.1" fill="#06051a"/>
<rect x="289.82" y="66.8" width="10.12" height="10.1" fill="#0e0b2b"/>
<rect x="299.64" y="66.8" width="10.12" height="10.1" fill="#1e1149"/>
<rect x="309.46" y="66.8" width="10.12" height="10.1" fill="#451077"/>
<rect x="319.28" y="66.8" width="10.12" height="10.1" fill="#892881"/>
<rect x="329.1" y="66.8" width="10.12" height="10.1" fill="#e95462"/>
<rect x="338.92" y="66.8" width="10.12" height="10.1" fill="#f56b5c"/>
<rect x="348.74" y="66.8" width="10.12" height="10.1" fill="#e95462"/>
<rect x="358.56" y="66.8" width="10.12" height="10.1" fill="#b3367a"/>
<rect x="368.38" y="66.8" width="10.12" height="10.1" fill="#9b2e7f"/>
<rect x="378.2" y="66.8" width="10.12" height="10.1" fill="#892881"/>
<rect x="388.02" y="66.8" width="10.12" height="10.1" fill="#9b2e7f"/>
<rect x="397.84" y="66.8" width="10.12" height="10.1" fill="#b3367a"/>
<rect x="407.66" y="66.8" width="10.12" height="10.1" fill="#dc4869"/>
<rect x="417.48" y="66.8" width="10.12" height="10.1" fill="#e95462"/>
<rect x="427.3" y="66.8" width="10.12" height="10.1" fill="#d0416f"/>
<rect x="437.12" y="66.8" width="10.12" height="10.1" fill="#9b2e7f"/>
<rect x="446.94" y="66.8" width="10.12" height="10.1" fill="#701f81"/>
<rect x="456.76" y="66.8" width="10.12" height="10.1" fill="#451077"/>
<rect x="466.58" y="66.8" width="10.12" height="10.1" fill="#331067"/>
<rect x="476.4" y="66.8" width="10.12" height="10.1" fill="#1e1149"/>
<rect x="486.22" y="66.8" width="10.12" height="10.1" fill="#140e36"/>
<rect x="496.04" y="66.8" width="10.12" height="10.1" fill="#0e0b2b"/>
<rect x="505.86" y="66.8" width="10.12" height="10.1" fill="#0b0924"/>
<rect x="515.68" y="66.8" width="10.12" height="10.1" fill="#06051a"/>
<rect x="280" y="76.6" width="10.12" height="10.1" fill="#090720"/>
<rect x="289.82" y="76.6" width="10.12" height="10.1" fill="#140e36"/>
<rect x="299.64" y="76.6" width="10.12" height="10.1" fill="#251255"/>
<rect x="309.46" y="76.6" width="10.12" height="10.1" fill="#52137c"/>
<rect x="319.28" y="76.6" width="10.12" height="10.1" fill="#a6317d"/>
<rect x="329.1" y="76.6" width="10.12" height="10.1" fill="#fd9869"/>
<rect x="338.92" y="76.6" width="10.12" height="10.1" fill="#fcf0b2"/>
<rect x="348.74" y="76.6" width="10.12" height="10.1" fill="#fec68a"/>
<rect x="358.56" y="76.6" width="10.12" height="10.1" fill="#e95462"/>
<rect x="368.38" y="76.6" width="10.12" height="10.1" fill="#a6317d"/>
<rect x="378.2" y="76.6" width="10.12" height="10.1" fill="#892881"/>
<rect x="388.02" y="76.6" width="19.94" height="10.1" fill="#9b2e7f"/>
<rect x="407.66" y="76.6" width="10.12" height="10.1" fill="#b3367a"/>
<rect x="417.48" y="76.6" width="10.12" height="10.1" fill="#bc3978"/>
<rect x="427.3" y="76.6" width="10.12" height="10.1" fill="#b3367a"/>
<rect x="437.12" y="76.6" width="10.12" height="10.1" fill="#9b2e7f"/>
<rect x="446.94" y="76.6" width="10.12" height="10.1" fill="#7c2382"/>
<rect x="456.76" y="76.6" width="10.12" height="10.1" fill="#52137c"/>
<rect x="466.58" y="76.6" width="10.12" height="10.1" fill="#451077"/>
<rect x="476.4" y="76.6" width="10.12" height="10.1" fill="#251255"/>
<rect x="486.22" y="76.6" width="10.12" height="10.1" fill="#1a1042"/>
<rect x="496.04" y="76.6" width="10.12" height="10.1" fill="#120d31"/>
<rect x="505.86" y="76.6" width="10.12" height="10.1" fill="#0e0b2b"/>
<rect x="515.68" y="76.6" width="10.12" height="10.1" fill="#090720"/>
<rect x="280" y="86.4" width="10.12" height="10.1" fill="#090720"/>
<rect x="289.82" y="86.4" width="10.12" height="10.1" fill="#140e36"/>
<rect x="299.64" y="86.4" width="10.12" height="10.1" fill="#2d1161"/>
<rect x="309.46" y="86.4" width="10.12" height="10.1" fill="#5c167f"/>
<rect x="319.28" y="86.4" width="10.12" height="10.1" fill="#b0357b"/>
<rect x="329.1" y="86.4" width="10.12" height="10.1" fill="#f8745c"/>
<rect x="338.92" y="86.4" width="10.12" height="10.1" fill="#fddea0"/>
<rect x="348.74" y="86.4" width="10.12" height="10.1" fill="#fc8a62"/>
<rect x="358.56" y="86.4" width="10.12" height="10.1" fill="#bc3978"/>
<rect x="368.38" y="86.4" width="10.12" height="10.1" fill="#912b81"/>
<rect x="378.2" y="86.4" width="39.58" height="10.1" fill="#7c2382"/>
<rect x="417.48" y="86.4" width="10.12" height="10.1" fill="#892881"/>
<rect x="427.3" y="86.4" width="10.12" height="10.1" fill="#912b81"/>
<rect x="437.12" y="86.4" width="10.12" height="10.1" fill="#9b2e7f"/>
<rect x="446.94" y="86.4" width="10.12" height="10.1" fill="#912b81"/>
<rect x="456.76" y="86.4" width="10.12" height="10.1" fill="#5f187f"/>
<rect x="466.58" y="86.4" width="10.12" height="10.1" fill="#451077"/>
<rect x="476.4" y="86.4" width="10.12" height="10.1" fill="#331067"/>
<rect x="486.22" y="86.4" width="10.12" height="10.1" fill="#1e1149"/>
<rect x="496.04" y="86.4" width="10.12" height="10.1" fill="#140e36"/>
<rect x="505.86" y="86.4" width="10.12" height="10.1" fill="#120d31"/>
<rect x="515.68" y="86.4" width="10.12" height="10.1" fill="#0b0924"/>
<rect x="280" y="96.2" width="10.12" height="10.1" fill="#0b0924"/>
<rect x="289.82" y="96.2" width="10.12" height="10.1" fill="#1a1042"/>
<rect x="299.64" y="96.2" width="10.12" height="10.1" fill="#331067"/>
<rect x="309.46" y="96.2" width="10.12" height="10.1" fill="#5f187f"/>
<rect x="319.28" y="96.2" width="10.12" height="10.1" fill="#a6317d"/>
<rect x="329.1" y="96.2" width="10.12" height="10.1" fill="#d0416f"/>
<rect x="338.92" y="96.2" width="10.12" height="10.1" fill="#e34e65"/>
<rect x="348.74" y="96.2" width="10.12" height="10.1" fill="#c83e73"/>
<rect x="358.56" y="96.2" width="10.12" height="10.1" fill="#912b81"/>
<rect x="368.38" y="96.2" width="10.12" height="10.1" fill="#7c2382"/>
<rect x="378.2" y="96.2" width="39.58" height="10.1" fill="#681c81"/>
<rect x="417.48" y="96.2" width="10.12" height="10.1" fill="#701f81"/>
<rect x="427.3" y="96.2" width="10.12" height="10.1" fill="#892881"/>
<rect x="437.12" y="96.2" width="10.12" height="10.1" fill="#b3367a"/>
<rect x="446.94" y="96.2" width="10.12" height="10.1" fill="#a6317d"/>
<rect x="456.76" y="96.2" width="10.12" height="10.1" fill="#701f81"/>
<rect x="466.58" y="96.2" width="10.12" height="10.1" fill="#52137c"/>
<rect x="476.4" y="96.2" width="10.12" height="10.1" fill="#3d0f71"/>
<rect x="486.22" y="96.2" width="10.12" height="10.1" fill="#251255"/>
<rect x="496.04" y="96.2" width="10.12" height="10.1" fill="#1a1042"/>
<rect x="505.86" y="96.2" width="10.12" height="10.1" fill="#140e36"/>
<rect x="515.68" y="96.2" width="10.12" height="10.1" fill="#0e0b2b"/>
<rect x="280" y="106" width="10.12" height="10.1" fill="#0e0b2b"/>
<rect x="289.82" y="106" width="10.12" height="10.1" fill="#21114e"/>
<rect x="299.64" y="106" width="10.12" height="10.1" fill="#3d0f71"/>
<rect x="309.46" y="106" width="10.12" height="10.1" fill="#681c81"/>
<rect x="319.28" y="106" width="10.12" height="10.1" fill="#a6317d"/>
<rect x="329.1" y="106" width="10.12" height="10.1" fill="#bc3978"/>
<rect x="338.92" y="106" width="10.12" height="10.1" fill="#b0357b"/>
<rect x="348.74" y="106" width="10.12" height="10.1" fill="#a6317d"/>
<rect x="358.56" y="106" width="39.58" height="10.1" fill="#7c2382"/>
<rect x="397.84" y="106" width="10.12" height="10.1" fill="#681c81"/>
<rect x="407.66" y="106" width="10.12" height="10.1" fill="#5f187f"/>
<rect x="417.48" y="106" width="10.12" height="10.1" fill="#681c81"/>
<rect x="427.3" y="106" width="10.12" height="10.1" fill="#892881"/>
<rect x="437.12" y="106" width="10.12" height="10.1" fill="#bc3978"/>
<rect x="446.94" y="106" width="10.12" height="10.1" fill="#b3367a"/>
<rect x="456.76" y="106" width="10.12" height="10.1" fill="#892881"/>
<rect x="466.58" y="106" width="10.12" height="10.1" fill="#5f187f"/>
<rect x="476.4" y="106" width="10.12" height="10.1" fill="#451077"/>
<rect x="486.22" y="106" width="10.12" height="10.1" fill="#331067"/>
<rect x="496.04" y="106" width="10.12" height="10.1" fill="#1e1149"/>
<rect x="505.86" y="106" width="10.12" height="10.1" fill="#140e36"/>
<rect x="515.68" y="106" width="10.12" height="10.1" fill="#0e0b2b"/>
<rect x="280" y="115.8" width="10.12" height="10.1" fill="#1a1042"/>
<rect x="289.82" y="115.8" width="10.12" height="10.1" fill="#3d0f71"/>
<rect x="299.64" y="115.8" width="10.12" height="10.1" fill="#5f187f"/>
<rect x="309.46" y="115.8" width="10.12" height="10.1" fill="#752181"/>
<rect x="319.28" y="115.8" width="29.76" height="10.1" fill="#892881"/>
<rect x="348.74" y="115.8" width="19.94" height="10.1" fill="#7c2382"/>
<rect x="368.38" y="115.8" width="10.12" height="10.1" fill="#912b81"/>
<rect x="378.2" y="115.8" width="10.12" height="10.1" fill="#e95462"/>
<rect x="388.02" y="115.8" width="10.12" height="10.1" fill="#fa7d5e"/>
<rect x="397.84" y="115.8" width="10.12" height="10.1" fill="#e95462"/>
<rect x="407.66" y="115.8" width="10.12" height="10.1" fill="#7c2382"/>
<rect x="417.48" y="115.8" width="10.12" height="10.1" fill="#681c81"/>
<rect x="427.3" y="115.8" width="10.12" height="10.1" fill="#701f81"/>
<rect x="437.12" y="115.8" width="10.12" height="10.1" fill="#912b81"/>
<rect x="446.94" y="115.8" width="10.12" height="10.1" fill="#a6317d"/>
<rect x="456.76" y="115.8" width="10.12" height="10.1" fill="#9b2e7f"/>
<rect x="466.58" y="115.8" width="10.12" height="10.1" fill="#892881"/>
<rect x="476.4" y="115.8" width="10.12" height="10.1" fill="#7c2382"/>
<rect x="486.22" y="115.8" width="10.12" height="10.1" fill="#5f187f"/>
<rect x="496.04" y="115.8" width="10.12" height="10.1" fill="#3d0f71"/>
<rect x="505.86" y="115.8" width="10.12" height="10.1" fill="#21114e"/>
<rect x="515.68" y="115.8" width="10.12" height="10.1" fill="#140e36"/>
<rect x="280" y="125.6" width="10.12" height="10.1" fill="#21114e"/>
<rect x="289.82" y="125.6" width="10.12" height="10.1" fill="#451077"/>
<rect x="299.64" y="125.6" width="10.12" height="10.1" fill="#681c81"/>
<rect x="309.46" y="125.6" width="10.12" height="10.1" fill="#752181"/>
<rect x="319.28" y="125.6" width="10.12" height="10.1" fill="#812581"/>
<rect x="329.1" y="125.6" width="10.12" height="10.1" fill="#892881"/>
<rect x="338.92" y="125.6" width="10.12" height="10.1" fill="#812581"/>
<rect x="348.74" y="125.6" width="10.12" height="10.1" fill="#752181"/>
<rect x="358.56" y="125.6" width="10.12" height="10.1" fill="#7c2382"/>
<rect x="368.38" y="125.6" width="10.12" height="10.1" fill="#a6317d"/>
<rect x="378.2" y="125.6" width="10.12" height="10.1" fill="#f56b5c"/>
<rect x="388.02" y="125.6" width="10.12" height="10.1" fill="#fed89a"/>
<rect x="397.84" y="125.6" width="10.12" height="10.1" fill="#e95462"/>
<rect x="407.66" y="125.6" width="10.12" height="10.1" fill="#701f81"/>
<rect x="417.48" y="125.6" width="10.12" height="10.1" fill="#5c167f"/>
<rect x="427.3" y="125.6" width="10.12" height="10.1" fill="#5f187f"/>
<rect x="437.12" y="125.6" width="10.12" height="10.1" fill="#892881"/>
<rect x="446.94" y="125.6" width="19.94" height="10.1" fill="#9b2e7f"/>
<rect x="466.58" y="125.6" width="10.12" height="10.1" fill="#912b81"/>
<rect x="476.4" y="125.6" width="10.12" height="10.1" fill="#812581"/>
<rect x="486.22" y="125.6" width="10.12" height="10.1" fill="#681c81"/>
<rect x="496.04" y="125.6" width="10.12" height="10.1" fill="#451077"/>
<rect x="505.86" y="125.6" width="10.12" height="10.1" fill="#251255"/>
<rect x="515.68" y="125.6" width="10.12" height="10.1" fill="#180f3d"/>
<rect x="280" y="135.4" width="10.12" height="10.1" fill="#251255"/>
<rect x="289.82" y="135.4" width="10.12" height="10.1" fill="#451077"/>
<rect x="299.64" y="135.4" width="10.12" height="10.1" fill="#681c81"/>
<rect x="309.46" y="135.4" width="10.12" height="10.1" fill="#752181"/>
<rect x="319.28" y="135.4" width="10.12" height="10.1" fill="#7c2382"/>
<rect x="329.1" y="135.4" width="10.12" height="10.1" fill="#842681"/>
<rect x="338.92" y="135.4" width="10.12" height="10.1" fill="#7c2382"/>
<rect x="348.74" y="135.4" width="10.12" height="10.1" fill="#701f81"/>
<rect x="358.56" y="135.4" width="10.12" height="10.1" fill="#5f187f"/>
<rect x="368.38" y="135.4" width="10.12" height="10.1" fill="#912b81"/>
<rect x="378.2" y="135.4" width="10.12" height="10.1" fill="#fea16e"/>
<rect x="388.02" y="135.4" width="10.12" height="10.1" fill="#feaa74"/>
<rect x="397.84" y="135.4" width="10.12" height="10.1" fill="#dc4869"/>
<rect x="407.66" y="135.4" width="10.12" height="10.1" fill="#7c2382"/>
<rect x="417.48" y="135.4" width="10.12" height="10.1" fill="#5c167f"/>
<rect x="427.3" y="135.4" width="10.12" height="10.1" fill="#5f187f"/>
<rect x="437.12" y="135.4" width="10.12" height="10.1" fill="#812581"/>
<rect x="446.94" y="135.4" width="10.12" height="10.1" fill="#9b2e7f"/>
<rect x="456.76" y="135.4" width="10.12" height="10.1" fill="#9e2f7f"/>
<rect x="466.58" y="135.4" width="10.12" height="10.1" fill="#912b81"/>
<rect x="476.4" y="135.4" width="10.12" height="10.1" fill="#892881"/>
<rect x="486.22" y="135.4" width="10.12" height="10.1" fill="#701f81"/>
<rect x="496.04" y="135.4" width="10.12" height="10.1" fill="#4e117b"/>
<rect x="505.86" y="135.4" width="10.12" height="10.1" fill="#2a115c"/>
<rect x="515.68" y="135.4" width="10.12" height="10.1" fill="#1a1042"/>
<rect x="280" y="145.2" width="10.12" height="10.1" fill="#251255"/>
<rect x="289.82" y="145.2" width="10.12" height="10.1" fill="#451077"/>
<rect x="299.64" y="145.2" width="10.12" height="10.1" fill="#681c81"/>
<rect x="309.46" y="145.2" width="10.12" height="10.1" fill="#752181"/>
<rect x="319.28" y="145.2" width="10.12" height="10.1" fill="#7c2382"/>
<rect x="329.1" y="145.2" width="10.12" height="10.1" fill="#812581"/>
<rect x="338.92" y="145.2" width="29.76" height="10.1" fill="#7c2382"/>
<rect x="368.38" y="145.2" width="10.12" height="10.1" fill="#912b81"/>
<rect x="378.2" y="145.2" width="19.94" height="10.1" fill="#d0416f"/>
<rect x="397.84" y="145.2" width="10.12" height="10.1" fill="#b3367a"/>
<rect x="407.66" y="145.2" width="10.12" height="10.1" fill="#7c2382"/>
<rect x="417.48" y="145.2" width="19.94" height="10.1" fill="#5f187f"/>
<rect x="437.12" y="145.2" width="10.12" height="10.1" fill="#7c2382"/>
<rect x="446.94" y="145.2" width="10.12" height="10.1" fill="#912b81"/>
<rect x="456.76" y="145.2" width="19.94" height="10.1" fill="#9b2e7f"/>
<rect x="476.4" y="145.2" width="10.12" height="10.1" fill="#912b81"/>
<rect x="486.22" y="145.2" width="10.12" height="10.1" fill="#7c2382"/>
<rect x="496.04" y="145.2" width="10.12" height="10.1" fill="#52137c"/>
<rect x="505.86" y="145.2" width="10.12" height="10.1" fill="#2d1161"/>
<rect x="515.68" y="145.2" width="10.12" height="10.1" fill="#1a1042"/>
<rect x="280" y="155" width="10.12" height="10.1" fill="#251255"/>
<rect x="289.82" y="155" width="10.12" height="10.1" fill="#451077"/>
<rect x="299.64" y="155" width="10.12" height="10.1" fill="#701f81"/>
<rect x="309.46" y="155" width="19.94" height="10.1" fill="#892881"/>
<rect x="329.1" y="155" width="10.12" height="10.1" fill="#7c2382"/>
<rect x="338.92" y="155" width="10.12" height="10.1" fill="#701f81"/>
<rect x="348.74" y="155" width="10.12" height="10.1" fill="#7c2382"/>
<rect x="358.56" y="155" width="10.12" height="10.1" fill="#892881"/>
<rect x="368.38" y="155" width="10.12" height="10.1" fill="#9b2e7f"/>
<rect x="378.2" y="155" width="10.12" height="10.1" fill="#b3367a"/>
<rect x="388.02" y="155" width="10.12" height="10.1" fill="#a6317d"/>
<rect x="397.84" y="155" width="10.12" height="10.1" fill="#9b2e7f"/>
<rect x="407.66" y="155" width="10.12" height="10.1" fill="#892881"/>
<rect x="417.48" y="155" width="10.12" height="10.1" fill="#752181"/>
<rect x="427.3" y="155" width="10.12" height="10.1" fill="#7c2382"/>
<rect x="437.12" y="155" width="10.12" height="10.1" fill="#912b81"/>
<rect x="446.94" y="155" width="10.12" height="10.1" fill="#a6317d"/>
<rect x="456.76" y="155" width="10.12" height="10.1" fill="#b3367a"/>
<rect x="466.58" y="155" width="10.12" height="10.1" fill="#a6317d"/>
<rect x="476.4" y="155" width="10.12" height="10.1" fill="#9b2e7f"/>
<rect x="486.22" y="155" width="10.12" height="10.1" fill="#892881"/>
<rect x="496.04" y="155" width="10.12" height="10.1" fill="#57157e"/>
<rect x="505.86" y="155" width="10.12" height="10.1" fill="#331067"/>
<rect x="515.68" y="155" width="10.12" height="10.1" fill="#1e1149"/>
<rect x="280" y="164.8" width="10.12" height="10.1" fill="#251255"/>
<rect x="289.82" y="164.8" width="10.12" height="10.1" fill="#4e117b"/>
<rect x="299.64" y="164.8" width="10.12" height="10.1" fill="#7c2382"/>
<rect x="309.46" y="164.8" width="10.12" height="10.1" fill="#9b2e7f"/>
<rect x="319.28" y="164.8" width="10.12" height="10.1" fill="#912b81"/>
<rect x="329.1" y="164.8" width="10.12" height="10.1" fill="#752181"/>
<rect x="338.92" y="164.8" width="10.12" height="10.1" fill="#681c81"/>
<rect x="348.74" y="164.8" width="10.12" height="10.1" fill="#7c2382"/>
<rect x="358.56" y="164.8" width="10.12" height="10.1" fill="#912b81"/>
<rect x="368.38" y="164.8" width="10.12" height="10.1" fill="#a6317d"/>
<rect x="378.2" y="164.8" width="10.12" height="10.1" fill="#bc3978"/>
<rect x="388.02" y="164.8" width="10.12" height="10.1" fill="#b3367a"/>
<rect x="397.84" y="164.8" width="10.12" height="10.1" fill="#a6317d"/>
<rect x="407.66" y="164.8" width="10.12" height="10.1" fill="#9b2e7f"/>
<rect x="417.48" y="164.8" width="10.12" height="10.1" fill="#912b81"/>
<rect x="427.3" y="164.8" width="10.12" height="10.1" fill="#a6317d"/>
<rect x="437.12" y="164.8" width="10.12" height="10.1" fill="#d0416f"/>
<rect x="446.94" y="164.8" width="10.12" height="10.1" fill="#e95462"/>
<rect x="456.76" y="164.8" width="10.12" height="10.1" fill="#e34e65"/>
<rect x="466.58" y="164.8" width="10.12" height="10.1" fill="#bc3978"/>
<rect x="476.4" y="164.8" width="10.12" height="10.1" fill="#a6317d"/>
<rect x="486.22" y="164.8" width="10.12" height="10.1" fill="#912b81"/>
<rect x="496.04" y="164.8" width="10.12" height="10.1" fill="#5f187f"/>
<rect x="505.86" y="164.8" width="10.12" height="10.1" fill="#331067"/>
<rect x="515.68" y="164.8" width="10.12" height="10.1" fill="#1e1149"/>
<rect x="280" y="174.6" width="10.12" height="10.1" fill="#1a1042"/>
<rect x="289.82" y="174.6" width="10.12" height="10.1" fill="#451077"/>
<rect x="299.64" y="174.6" width="10.12" height="10.1" fill="#892881"/>
<rect x="309.46" y="174.6" width="10.12" height="10.1" fill="#a6317d"/>
<rect x="319.28" y="174.6" width="10.12" height="10.1" fill="#9b2e7f"/>
<rect x="329.1" y="174.6" width="10.12" height="10.1" fill="#892881"/>
<rect x="338.92" y="174.6" width="10.12" height="10.1" fill="#752181"/>
<rect x="348.74" y="174.6" width="10.12" height="10.1" fill="#7c2382"/>
<rect x="358.56" y="174.6" width="10.12" height="10.1" fill="#892881"/>
<rect x="368.38" y="174.6" width="10.12" height="10.1" fill="#912b81"/>
<rect x="378.2" y="174.6" width="10.12" height="10.1" fill="#cd4071"/>
<rect x="388.02" y="174.6" width="10.12" height="10.1" fill="#ed5a5f"/>
<rect x="397.84" y="174.6" width="10.12" height="10.1" fill="#f4675c"/>
<rect x="407.66" y="174.6" width="19.94" height="10.1" fill="#ed5a5f"/>
<rect x="427.3" y="174.6" width="10.12" height="10.1" fill="#e95462"/>
<rect x="437.12" y="174.6" width="10.12" height="10.1" fill="#f2625d"/>
<rect x="446.94" y="174.6" width="10.12" height="10.1" fill="#fa7d5e"/>
<rect x="456.76" y="174.6" width="10.12" height="10.1" fill="#fe9d6c"/>
<rect x="466.58" y="174.6" width="10.12" height="10.1" fill="#e95462"/>
<rect x="476.4" y="174.6" width="10.12" height="10.1" fill="#bc3978"/>
<rect x="486.22" y="174.6" width="10.12" height="10.1" fill="#912b81"/>
<rect x="496.04" y="174.6" width="10.12" height="10.1" fill="#52137c"/>
<rect x="505.86" y="174.6" width="10.12" height="10.1" fill="#251255"/>
<rect x="515.68" y="174.6" width="10.12" height="10.1" fill="#140e36"/>
<rect x="280" y="184.4" width="10.12" height="10.1" fill="#140e36"/>
<rect x="289.82" y="184.4" width="10.12" height="10.1" fill="#331067"/>
<rect x="299.64" y="184.4" width="10.12" height="10.1" fill="#5f187f"/>
<rect x="309.46" y="184.4" width="10.12" height="10.1" fill="#892881"/>
<rect x="319.28" y="184.4" width="10.12" height="10.1" fill="#912b81"/>
<rect x="329.1" y="184.4" width="10.12" height="10.1" fill="#892881"/>
<rect x="338.92" y="184.4" width="10.12" height="10.1" fill="#701f81"/>
<rect x="348.74" y="184.4" width="10.12" height="10.1" fill="#752181"/>
<rect x="358.56" y="184.4" width="10.12" height="10.1" fill="#7c2382"/>
<rect x="368.38" y="184.4" width="10.12" height="10.1" fill="#892881"/>
<rect x="378.2" y="184.4" width="10.12" height="10.1" fill="#d5446d"/>
<rect x="388.02" y="184.4" width="10.12" height="10.1" fill="#fa7d5e"/>
<rect x="397.84" y="184.4" width="10.12" height="10.1" fill="#fea16e"/>
<rect x="407.66" y="184.4" width="10.12" height="10.1" fill="#fe9d6c"/>
<rect x="417.48" y="184.4" width="10.12" height="10.1" fill="#fc9065"/>
<rect x="427.3" y="184.4" width="10.12" height="10.1" fill="#fb8761"/>
<rect x="437.12" y="184.4" width="19.94" height="10.1" fill="#fa7d5e"/>
<rect x="456.76" y="184.4" width="10.12" height="10.1" fill="#f7705c"/>
<rect x="466.58" y="184.4" width="10.12" height="10.1" fill="#c43c75"/>
<rect x="476.4" y="184.4" width="10.12" height="10.1" fill="#912b81"/>
<rect x="486.22" y="184.4" width="10.12" height="10.1" fill="#681c81"/>
<rect x="496.04" y="184.4" width="10.12" height="10.1" fill="#3d0f71"/>
<rect x="505.86" y="184.4" width="10.12" height="10.1" fill="#1e1149"/>
<rect x="515.68" y="184.4" width="10.12" height="10.1" fill="#120d31"/>
<rect x="280" y="194.2" width="10.12" height="10.1" fill="#0e0b2b"/>
<rect x="289.82" y="194.2" width="10.12" height="10.1" fill="#21114e"/>
<rect x="299.64" y="194.2" width="10.12" height="10.1" fill="#3d0f71"/>
<rect x="309.46" y="194.2" width="10.12" height="10.1" fill="#5f187f"/>
<rect x="319.28" y="194.2" width="10.12" height="10.1" fill="#701f81"/>
<rect x="329.1" y="194.2" width="10.12" height="10.1" fill="#752181"/>
<rect x="338.92" y="194.2" width="19.94" height="10.1" fill="#681c81"/>
<rect x="358.56" y="194.2" width="10.12" height="10.1" fill="#752181"/>
<rect x="368.38" y="194.2" width="10.12" height="10.1" fill="#812581"/>
<rect x="378.2" y="194.2" width="10.12" height="10.1" fill="#cd4071"/>
<rect x="388.02" y="194.2" width="10.12" height="10.1" fill="#fc9065"/>
<rect x="397.84" y="194.2" width="10.12" height="10.1" fill="#fecf92"/>
<rect x="407.66" y="194.2" width="10.12" height="10.1" fill="#fcf9bb"/>
<rect x="417.48" y="194.2" width="10.12" height="10.1" fill="#fed89a"/>
<rect x="427.3" y="194.2" width="10.12" height="10.1" fill="#feb47b"/>
<rect x="437.12" y="194.2" width="10.12" height="10.1" fill="#f7705c"/>
<rect x="446.94" y="194.2" width="10.12" height="10.1" fill="#df4a68"/>
<rect x="456.76" y="194.2" width="10.12" height="10.1" fill="#b83779"/>
<rect x="466.58" y="194.2" width="10.12" height="10.1" fill="#7c2382"/>
<rect x="476.4" y="194.2" width="10.12" height="10.1" fill="#5f187f"/>
<rect x="486.22" y="194.2" width="10.12" height="10.1" fill="#3d0f71"/>
<rect x="496.04" y="194.2" width="10.12" height="10.1" fill="#251255"/>
<rect x="505.86" y="194.2" width="10.12" height="10.1" fill="#140e36"/>
<rect x="515.68" y="194.2" width="10.12" height="10.1" fill="#0b0924"/>
<rect x="280" y="204" width="10.12" height="10.1" fill="#0b0924"/>
<rect x="289.82" y="204" width="10.12" height="10.1" fill="#1a1042"/>
<rect x="299.64" y="204" width="10.12" height="10.1" fill="#251255"/>
<rect x="309.46" y="204" width="10.12" height="10.1" fill="#331067"/>
<rect x="319.28" y="204" width="10.12" height="10.1" fill="#3d0f71"/>
<rect x="329.1" y="204" width="19.94" height="10.1" fill="#451077"/>
<rect x="348.74" y="204" width="10.12" height="10.1" fill="#52137c"/>
<rect x="358.56" y="204" width="10.12" height="10.1" fill="#681c81"/>
<rect x="368.38" y="204" width="10.12" height="10.1" fill="#7c2382"/>
<rect x="378.2" y="204" width="10.12" height="10.1" fill="#c43c75"/>
<rect x="388.02" y="204" width="10.12" height="10.1" fill="#fb8761"/>
<rect x="397.84" y="204" width="10.12" height="10.1" fill="#febd82"/>
<rect x="407.66" y="204" width="10.12" height="10.1" fill="#fcfdbf"/>
<rect x="417.48" y="204" width="10.12" height="10.1" fill="#fed89a"/>
<rect x="427.3" y="204" width="10.12" height="10.1" fill="#fc9065"/>
<rect x="437.12" y="204" width="10.12" height="10.1" fill="#c43c75"/>
<rect x="446.94" y="204" width="10.12" height="10.1" fill="#9b2e7f"/>
<rect x="456.76" y="204" width="10.12" height="10.1" fill="#782281"/>
<rect x="466.58" y="204" width="10.12" height="10.1" fill="#3d0f71"/>
<rect x="476.4" y="204" width="10.12" height="10.1" fill="#251255"/>
<rect x="486.22" y="204" width="10.12" height="10.1" fill="#1a1042"/>
<rect x="496.04" y="204" width="10.12" height="10.1" fill="#120d31"/>
<rect x="505.86" y="204" width="10.12" height="10.1" fill="#0b0924"/>
<rect x="515.68" y="204" width="10.12" height="10.1" fill="#06051a"/>
<rect x="280" y="213.8" width="10.12" height="10.1" fill="#090720"/>
<rect x="289.82" y="213.8" width="10.12" height="10.1" fill="#140e36"/>
<rect x="299.64" y="213.8" width="10.12" height="10.1" fill="#1a1042"/>
<rect x="309.46" y="213.8" width="10.12" height="10.1" fill="#21114e"/>
<rect x="319.28" y="213.8" width="10.12" height="10.1" fill="#251255"/>
<rect x="329.1" y="213.8" width="10.12" height="10.1" fill="#2a115c"/>
<rect x="338.92" y="213.8" width="10.12" height="10.1" fill="#2d1161"/>
<rect x="348.74" y="213.8" width="10.12" height="10.1" fill="#3d0f71"/>
<rect x="358.56" y="213.8" width="10.12" height="10.1" fill="#52137c"/>
<rect x="368.38" y="213.8" width="10.12" height="10.1" fill="#681c81"/>
<rect x="378.2" y="213.8" width="10.12" height="10.1" fill="#ab337c"/>
<rect x="388.02" y="213.8" width="10.12" height="10.1" fill="#ed5a5f"/>
<rect x="397.84" y="213.8" width="10.12" height="10.1" fill="#fa7d5e"/>
<rect x="407.66" y="213.8" width="10.12" height="10.1" fill="#fc9065"/>
<rect x="417.48" y="213.8" width="10.12" height="10.1" fill="#fa7d5e"/>
<rect x="427.3" y="213.8" width="10.12" height="10.1" fill="#e95462"/>
<rect x="437.12" y="213.8" width="10.12" height="10.1" fill="#8e2a81"/>
<rect x="446.94" y="213.8" width="10.12" height="10.1" fill="#701f81"/>
<rect x="456.76" y="213.8" width="10.12" height="10.1" fill="#57157e"/>
<rect x="466.58" y="213.8" width="10.12" height="10.1" fill="#21114e"/>
<rect x="476.4" y="213.8" width="10.12" height="10.1" fill="#180f3d"/>
<rect x="486.22" y="213.8" width="10.12" height="10.1" fill="#120d31"/>
<rect x="496.04" y="213.8" width="10.12" height="10.1" fill="#0b0924"/>
<rect x="505.86" y="213.8" width="10.12" height="10.1" fill="#06051a"/>
<rect x="515.68" y="213.8" width="10.12" height="10.1" fill="#050416"/>
<rect x="280" y="223.6" width="10.12" height="10.1" fill="#06051a"/>
<rect x="289.82" y="223.6" width="10.12" height="10.1" fill="#0e0b2b"/>
<rect x="299.64" y="223.6" width="10.12" height="10.1" fill="#140e36"/>
<rect x="309.46" y="223.6" width="10.12" height="10.1" fill="#180f3d"/>
<rect x="319.28" y="223.6" width="10.12" height="10.1" fill="#1a1042"/>
<rect x="329.1" y="223.6" width="10.12" height="10.1" fill="#1e1149"/>
<rect x="338.92" y="223.6" width="10.12" height="10.1" fill="#21114e"/>
<rect x="348.74" y="223.6" width="10.12" height="10.1" fill="#2a115c"/>
<rect x="358.56" y="223.6" width="10.12" height="10.1" fill="#3d0f71"/>
<rect x="368.38" y="223.6" width="10.12" height="10.1" fill="#4e117b"/>
<rect x="378.2" y="223.6" width="10.12" height="10.1" fill="#681c81"/>
<rect x="388.02" y="223.6" width="10.12" height="10.1" fill="#912b81"/>
<rect x="397.84" y="223.6" width="10.12" height="10.1" fill="#b0357b"/>
<rect x="407.66" y="223.6" width="10.12" height="10.1" fill="#9b2e7f"/>
<rect x="417.48" y="223.6" width="10.12" height="10.1" fill="#912b81"/>
<rect x="427.3" y="223.6" width="10.12" height="10.1" fill="#752181"/>
<rect x="437.12" y="223.6" width="10.12" height="10.1" fill="#451077"/>
<rect x="446.94" y="223.6" width="10.12" height="10.1" fill="#331067"/>
<rect x="456.76" y="223.6" width="10.12" height="10.1" fill="#251255"/>
<rect x="466.58" y="223.6" width="10.12" height="10.1" fill="#140e36"/>
<rect x="476.4" y="223.6" width="10.12" height="10.1" fill="#0e0b2b"/>
<rect x="486.22" y="223.6" width="10.12" height="10.1" fill="#0b0924"/>
<rect x="496.04" y="223.6" width="10.12" height="10.1" fill="#06051a"/>
<rect x="505.86" y="223.6" width="10.12" height="10.1" fill="#050416"/>
<rect x="515.68" y="223.6" width="10.12" height="10.1" fill="#03030f"/>
<rect x="280" y="233.4" width="10.12" height="10.1" fill="#050416"/>
<rect x="289.82" y="233.4" width="10.12" height="10.1" fill="#090720"/>
<rect x="299.64" y="233.4" width="10.12" height="10.1" fill="#0e0b2b"/>
<rect x="309.46" y="233.4" width="10.12" height="10.1" fill="#120d31"/>
<rect x="319.28" y="233.4" width="19.94" height="10.1" fill="#140e36"/>
<rect x="338.92" y="233.4" width="10.12" height="10.1" fill="#180f3d"/>
<rect x="348.74" y="233.4" width="10.12" height="10.1" fill="#1a1042"/>
<rect x="358.56" y="233.4" width="10.12" height="10.1" fill="#21114e"/>
<rect x="368.38" y="233.4" width="10.12" height="10.1" fill="#2a115c"/>
<rect x="378.2" y="233.4" width="10.12" height="10.1" fill="#3d0f71"/>
<rect x="388.02" y="233.4" width="10.12" height="10.1" fill="#4e117b"/>
<rect x="397.84" y="233.4" width="19.94" height="10.1" fill="#5f187f"/>
<rect x="417.48" y="233.4" width="10.12" height="10.1" fill="#57157e"/>
<rect x="427.3" y="233.4" width="10.12" height="10.1" fill="#451077"/>
<rect x="437.12" y="233.4" width="10.12" height="10.1" fill="#2a115c"/>
<rect x="446.94" y="233.4" width="10.12" height="10.1" fill="#1e1149"/>
<rect x="456.76" y="233.4" width="10.12" height="10.1" fill="#180f3d"/>
<rect x="466.58" y="233.4" width="10.12" height="10.1" fill="#0e0b2b"/>
<rect x="476.4" y="233.4" width="10.12" height="10.1" fill="#090720"/>
<rect x="486.22" y="233.4" width="10.12" height="10.1" fill="#06051a"/>
<rect x="496.04" y="233.4" width="10.12" height="10.1" fill="#050416"/>
<rect x="505.86" y="233.4" width="10.12" height="10.1" fill="#03030f"/>
<rect x="515.68" y="233.4" width="10.12" height="10.1" fill="#02020b"/>
<rect x="280" y="243.2" width="10.12" height="10.1" fill="#03030f"/>
<rect x="289.82" y="243.2" width="10.12" height="10.1" fill="#06051a"/>
<rect x="299.64" y="243.2" width="10.12" height="10.1" fill="#090720"/>
<rect x="309.46" y="243.2" width="10.12" height="10.1" fill="#0b0924"/>
<rect x="319.28" y="243.2" width="19.94" height="10.1" fill="#0e0b2b"/>
<rect x="338.92" y="243.2" width="10.12" height="10.1" fill="#120d31"/>
<rect x="348.74" y="243.2" width="10.12" height="10.1" fill="#140e36"/>
<rect x="358.56" y="243.2" width="10.12" height="10.1" fill="#180f3d"/>
<rect x="368.38" y="243.2" width="10.12" height="10.1" fill="#1a1042"/>
<rect x="378.2" y="243.2" width="10.12" height="10.1" fill="#21114e"/>
<rect x="388.02" y="243.2" width="10.12" height="10.1" fill="#2a115c"/>
<rect x="397.84" y="243.2" width="19.94" height="10.1" fill="#331067"/>
<rect x="417.48" y="243.2" width="10.12" height="10.1" fill="#2d1161"/>
<rect x="427.3" y="243.2" width="10.12" height="10.1" fill="#251255"/>
<rect x="437.12" y="243.2" width="10.12" height="10.1" fill="#1a1042"/>
<rect x="446.94" y="243.2" width="10.12" height="10.1" fill="#140e36"/>
<rect x="456.76" y="243.2" width="10.12" height="10.1" fill="#0e0b2b"/>
<rect x="466.58" y="243.2" width="10.12" height="10.1" fill="#090720"/>
<rect x="476.4" y="243.2" width="10.12" height="10.1" fill="#06051a"/>
<rect x="486.22" y="243.2" width="10.12" height="10.1" fill="#050416"/>
<rect x="496.04" y="243.2" width="10.12" height="10.1" fill="#03030f"/>
<rect x="505.86" y="243.2" width="19.94" height="10.1" fill="#02020b"/>
</g>
<clipPath id="cp3"><rect x="526.9" y="24.3" width="228.6" height="229"/></clipPath>
<rect x="526.9" y="24.3" width="228.6" height="229" fill="#000004"/>
<g clip-path="url(#cp3)" shape-rendering="crispEdges">
<rect x="520.3" y="20" width="39.62" height="10.07" fill="#440f76"/>
<rect x="559.62" y="20" width="29.79" height="10.07" fill="#3b0f70"/>
<rect x="589.11" y="20" width="29.79" height="10.07" fill="#331067"/>
<rect x="618.6" y="20" width="10.13" height="10.07" fill="#140e36"/>
<rect x="628.43" y="20" width="10.13" height="10.07" fill="#0e0b2b"/>
<rect x="638.26" y="20" width="29.79" height="10.07" fill="#090720"/>
<rect x="667.75" y="20" width="10.13" height="10.07" fill="#842681"/>
<rect x="677.58" y="20" width="29.79" height="10.07" fill="#090720"/>
<rect x="520.3" y="29.77" width="39.62" height="10.07" fill="#4c117a"/>
<rect x="559.62" y="29.77" width="29.79" height="10.07" fill="#440f76"/>
<rect x="589.11" y="29.77" width="29.79" height="10.07" fill="#331067"/>
<rect x="618.6" y="29.77" width="19.96" height="10.07" fill="#140e36"/>
<rect x="638.26" y="29.77" width="10.13" height="10.07" fill="#0e0b2b"/>
<rect x="648.09" y="29.77" width="49.45" height="10.07" fill="#0b0924"/>
<rect x="697.24" y="29.77" width="10.13" height="10.07" fill="#140e36"/>
<rect x="520.3" y="39.54" width="39.62" height="10.07" fill="#51127c"/>
<rect x="559.62" y="39.54" width="29.79" height="10.07" fill="#3b0f70"/>
<rect x="589.11" y="39.54" width="29.79" height="10.07" fill="#251255"/>
<rect x="618.6" y="39.54" width="19.96" height="10.07" fill="#0e0b2b"/>
<rect x="638.26" y="39.54" width="59.28" height="10.07" fill="#0b0924"/>
<rect x="697.24" y="39.54" width="10.13" height="10.07" fill="#1a1042"/>
<rect x="707.07" y="39.54" width="10.13" height="10.07" fill="#0e0b2b"/>
<rect x="716.9" y="39.54" width="19.96" height="10.07" fill="#5c167f"/>
<rect x="520.3" y="49.31" width="29.79" height="10.07" fill="#51127c"/>
<rect x="549.79" y="49.31" width="10.13" height="10.07" fill="#440f76"/>
<rect x="559.62" y="49.31" width="29.79" height="10.07" fill="#251255"/>
<rect x="589.11" y="49.31" width="29.79" height="10.07" fill="#1a1042"/>
<rect x="618.6" y="49.31" width="19.96" height="10.07" fill="#0e0b2b"/>
<rect x="638.26" y="49.31" width="78.94" height="10.07" fill="#0b0924"/>
<rect x="716.9" y="49.31" width="19.96" height="10.07" fill="#0e0b2b"/>
<rect x="736.56" y="49.31" width="10.13" height="10.07" fill="#942c80"/>
<rect x="746.39" y="49.31" width="10.13" height="10.07" fill="#0e0b2b"/>
<rect x="520.3" y="59.08" width="19.96" height="10.07" fill="#51127c"/>
<rect x="539.96" y="59.08" width="10.13" height="10.07" fill="#440f76"/>
<rect x="549.79" y="59.08" width="10.13" height="10.07" fill="#331067"/>
<rect x="559.62" y="59.08" width="59.28" height="10.07" fill="#180f3d"/>
<rect x="618.6" y="59.08" width="19.96" height="10.07" fill="#140e36"/>
<rect x="638.26" y="59.08" width="10.13" height="10.07" fill="#120d31"/>
<rect x="648.09" y="59.08" width="88.77" height="10.07" fill="#0b0924"/>
<rect x="736.56" y="59.08" width="10.13" height="10.07" fill="#251255"/>
<rect x="746.39" y="59.08" width="10.13" height="10.07" fill="#842681"/>
<rect x="520.3" y="68.85" width="19.96" height="10.07" fill="#51127c"/>
<rect x="539.96" y="68.85" width="10.13" height="10.07" fill="#440f76"/>
<rect x="549.79" y="68.85" width="10.13" height="10.07" fill="#331067"/>
<rect x="559.62" y="68.85" width="49.45" height="10.07" fill="#180f3d"/>
<rect x="608.77" y="68.85" width="10.13" height="10.07" fill="#1a1042"/>
<rect x="618.6" y="68.85" width="10.13" height="10.07" fill="#251255"/>
<rect x="628.43" y="68.85" width="19.96" height="10.07" fill="#2d1161"/>
<rect x="648.09" y="68.85" width="10.13" height="10.07" fill="#251255"/>
<rect x="657.92" y="68.85" width="10.13" height="10.07" fill="#140e36"/>
<rect x="667.75" y="68.85" width="10.13" height="10.07" fill="#0e0b2b"/>
<rect x="677.58" y="68.85" width="59.28" height="10.07" fill="#0b0924"/>
<rect x="736.56" y="68.85" width="10.13" height="10.07" fill="#120d31"/>
<rect x="746.39" y="68.85" width="10.13" height="10.07" fill="#140e36"/>
<rect x="520.3" y="78.62" width="10.13" height="10.07" fill="#51127c"/>
<rect x="530.13" y="78.62" width="10.13" height="10.07" fill="#4c117a"/>
<rect x="539.96" y="78.62" width="10.13" height="10.07" fill="#3b0f70"/>
<rect x="549.79" y="78.62" width="10.13" height="10.07" fill="#29115a"/>
<rect x="559.62" y="78.62" width="39.62" height="10.07" fill="#180f3d"/>
<rect x="598.94" y="78.62" width="10.13" height="10.07" fill="#1a1042"/>
<rect x="608.77" y="78.62" width="10.13" height="10.07" fill="#251255"/>
<rect x="618.6" y="78.62" width="10.13" height="10.07" fill="#440f76"/>
<rect x="628.43" y="78.62" width="19.96" height="10.07" fill="#51127c"/>
<rect x="648.09" y="78.62" width="10.13" height="10.07" fill="#3b0f70"/>
<rect x="657.92" y="78.62" width="10.13" height="10.07" fill="#21114e"/>
<rect x="667.75" y="78.62" width="10.13" height="10.07" fill="#140e36"/>
<rect x="677.58" y="78.62" width="59.28" height="10.07" fill="#0b0924"/>
<rect x="736.56" y="78.62" width="10.13" height="10.07" fill="#120d31"/>
<rect x="746.39" y="78.62" width="10.13" height="10.07" fill="#140e36"/>
<rect x="520.3" y="88.39" width="10.13" height="10.07" fill="#51127c"/>
<rect x="530.13" y="88.39" width="10.13" height="10.07" fill="#440f76"/>
<rect x="539.96" y="88.39" width="10.13" height="10.07" fill="#331067"/>
<rect x="549.79" y="88.39" width="10.13" height="10.07" fill="#251255"/>
<rect x="559.62" y="88.39" width="29.79" height="10.07" fill="#180f3d"/>
<rect x="589.11" y="88.39" width="10.13" height="10.07" fill="#1a1042"/>
<rect x="598.94" y="88.39" width="10.13" height="10.07" fill="#331067"/>
<rect x="608.77" y="88.39" width="10.13" height="10.07" fill="#51127c"/>
<rect x="618.6" y="88.39" width="10.13" height="10.07" fill="#641a80"/>
<rect x="628.43" y="88.39" width="19.96" height="10.07" fill="#782281"/>
<rect x="648.09" y="88.39" width="10.13" height="10.07" fill="#5c167f"/>
<rect x="657.92" y="88.39" width="10.13" height="10.07" fill="#331067"/>
<rect x="667.75" y="88.39" width="10.13" height="10.07" fill="#1e1149"/>
<rect x="677.58" y="88.39" width="10.13" height="10.07" fill="#120d31"/>
<rect x="687.41" y="88.39" width="49.45" height="10.07" fill="#0b0924"/>
<rect x="736.56" y="88.39" width="10.13" height="10.07" fill="#120d31"/>
<rect x="746.39" y="88.39" width="10.13" height="10.07" fill="#140e36"/>
<rect x="520.3" y="98.16" width="10.13" height="10.07" fill="#51127c"/>
<rect x="530.13" y="98.16" width="10.13" height="10.07" fill="#440f76"/>
<rect x="539.96" y="98.16" width="10.13" height="10.07" fill="#331067"/>
<rect x="549.79" y="98.16" width="10.13" height="10.07" fill="#251255"/>
<rect x="559.62" y="98.16" width="19.96" height="10.07" fill="#140e36"/>
<rect x="579.28" y="98.16" width="10.13" height="10.07" fill="#21114e"/>
<rect x="589.11" y="98.16" width="10.13" height="10.07" fill="#3f0f72"/>
<rect x="598.94" y="98.16" width="10.13" height="10.07" fill="#6b1d81"/>
<rect x="608.77" y="98.16" width="10.13" height="10.07" fill="#ad347c"/>
<rect x="618.6" y="98.16" width="10.13" height="10.07" fill="#de4968"/>
<rect x="628.43" y="98.16" width="10.13" height="10.07" fill="#f56b5c"/>
<rect x="638.26" y="98.16" width="10.13" height="10.07" fill="#ed5a5f"/>
<rect x="648.09" y="98.16" width="10.13" height="10.07" fill="#a1307e"/>
<rect x="657.92" y="98.16" width="10.13" height="10.07" fill="#641a80"/>
<rect x="667.75" y="98.16" width="10.13" height="10.07" fill="#440f76"/>
<rect x="677.58" y="98.16" width="10.13" height="10.07" fill="#251255"/>
<rect x="687.41" y="98.16" width="10.13" height="10.07" fill="#140e36"/>
<rect x="697.24" y="98.16" width="39.62" height="10.07" fill="#0b0924"/>
<rect x="736.56" y="98.16" width="10.13" height="10.07" fill="#120d31"/>
<rect x="746.39" y="98.16" width="10.13" height="10.07" fill="#140e36"/>
<rect x="520.3" y="107.93" width="10.13" height="10.07" fill="#51127c"/>
<rect x="530.13" y="107.93" width="10.13" height="10.07" fill="#440f76"/>
<rect x="539.96" y="107.93" width="10.13" height="10.07" fill="#331067"/>
<rect x="549.79" y="107.93" width="10.13" height="10.07" fill="#251255"/>
<rect x="559.62" y="107.93" width="10.13" height="10.07" fill="#1a1042"/>
<rect x="569.45" y="107.93" width="10.13" height="10.07" fill="#251255"/>
<rect x="579.28" y="107.93" width="10.13" height="10.07" fill="#3f0f72"/>
<rect x="589.11" y="107.93" width="10.13" height="10.07" fill="#5c167f"/>
<rect x="598.94" y="107.93" width="10.13" height="10.07" fill="#a1307e"/>
<rect x="608.77" y="107.93" width="10.13" height="10.07" fill="#fe9f6d"/>
<rect x="618.6" y="107.93" width="29.79" height="10.07" fill="#fcfdbf"/>
<rect x="648.09" y="107.93" width="10.13" height="10.07" fill="#ef5d5e"/>
<rect x="657.92" y="107.93" width="10.13" height="10.07" fill="#6b1d81"/>
<rect x="667.75" y="107.93" width="10.13" height="10.07" fill="#51127c"/>
<rect x="677.58" y="107.93" width="10.13" height="10.07" fill="#251255"/>
<rect x="687.41" y="107.93" width="10.13" height="10.07" fill="#140e36"/>
<rect x="697.24" y="107.93" width="10.13" height="10.07" fill="#0e0b2b"/>
<rect x="707.07" y="107.93" width="29.79" height="10.07" fill="#0b0924"/>
<rect x="736.56" y="107.93" width="10.13" height="10.07" fill="#120d31"/>
<rect x="746.39" y="107.93" width="10.13" height="10.07" fill="#140e36"/>
<rect x="520.3" y="117.7" width="10.13" height="10.07" fill="#440f76"/>
<rect x="530.13" y="117.7" width="10.13" height="10.07" fill="#3b0f70"/>
<rect x="539.96" y="117.7" width="10.13" height="10.07" fill="#251255"/>
<rect x="549.79" y="117.7" width="19.96" height="10.07" fill="#140e36"/>
<rect x="569.45" y="117.7" width="10.13" height="10.07" fill="#2d1161"/>
<rect x="579.28" y="117.7" width="10.13" height="10.07" fill="#471078"/>
<rect x="589.11" y="117.7" width="10.13" height="10.07" fill="#782281"/>
<rect x="598.94" y="117.7" width="10.13" height="10.07" fill="#e44f64"/>
<rect x="608.77" y="117.7" width="10.13" height="10.07" fill="#feca8d"/>
<rect x="618.6" y="117.7" width="29.79" height="10.07" fill="#fcfdbf"/>
<rect x="648.09" y="117.7" width="10.13" height="10.07" fill="#fed89a"/>
<rect x="657.92" y="117.7" width="10.13" height="10.07" fill="#a1307e"/>
<rect x="667.75" y="117.7" width="10.13" height="10.07" fill="#5c167f"/>
<rect x="677.58" y="117.7" width="10.13" height="10.07" fill="#331067"/>
<rect x="687.41" y="117.7" width="10.13" height="10.07" fill="#1a1042"/>
<rect x="697.24" y="117.7" width="10.13" height="10.07" fill="#0e0b2b"/>
<rect x="707.07" y="117.7" width="29.79" height="10.07" fill="#0b0924"/>
<rect x="736.56" y="117.7" width="10.13" height="10.07" fill="#120d31"/>
<rect x="746.39" y="117.7" width="10.13" height="10.07" fill="#140e36"/>
<rect x="520.3" y="127.47" width="10.13" height="10.07" fill="#440f76"/>
<rect x="530.13" y="127.47" width="10.13" height="10.07" fill="#331067"/>
<rect x="539.96" y="127.47" width="10.13" height="10.07" fill="#1e1149"/>
<rect x="549.79" y="127.47" width="19.96" height="10.07" fill="#140e36"/>
<rect x="569.45" y="127.47" width="10.13" height="10.07" fill="#331067"/>
<rect x="579.28" y="127.47" width="10.13" height="10.07" fill="#4c117a"/>
<rect x="589.11" y="127.47" width="10.13" height="10.07" fill="#842681"/>
<rect x="598.94" y="127.47" width="10.13" height="10.07" fill="#ed5a5f"/>
<rect x="608.77" y="127.47" width="10.13" height="10.07" fill="#fde7a9"/>
<rect x="618.6" y="127.47" width="29.79" height="10.07" fill="#fcfdbf"/>
<rect x="648.09" y="127.47" width="10.13" height="10.07" fill="#fcf0b2"/>
<rect x="657.92" y="127.47" width="10.13" height="10.07" fill="#b73779"/>
<rect x="667.75" y="127.47" width="10.13" height="10.07" fill="#641a80"/>
<rect x="677.58" y="127.47" width="10.13" height="10.07" fill="#331067"/>
<rect x="687.41" y="127.47" width="10.13" height="10.07" fill="#1a1042"/>
<rect x="697.24" y="127.47" width="10.13" height="10.07" fill="#0e0b2b"/>
<rect x="707.07" y="127.47" width="29.79" height="10.07" fill="#0b0924"/>
<rect x="736.56" y="127.47" width="10.13" height="10.07" fill="#120d31"/>
<rect x="746.39" y="127.47" width="10.13" height="10.07" fill="#140e36"/>
<rect x="520.3" y="137.24" width="10.13" height="10.07" fill="#3b0f70"/>
<rect x="530.13" y="137.24" width="10.13" height="10.07" fill="#2d1161"/>
<rect x="539.96" y="137.24" width="10.13" height="10.07" fill="#1a1042"/>
<rect x="549.79" y="137.24" width="10.13" height="10.07" fill="#120d31"/>
<rect x="559.62" y="137.24" width="10.13" height="10.07" fill="#140e36"/>
<rect x="569.45" y="137.24" width="10.13" height="10.07" fill="#331067"/>
<rect x="579.28" y="137.24" width="10.13" height="10.07" fill="#4c117a"/>
<rect x="589.11" y="137.24" width="10.13" height="10.07" fill="#842681"/>
<rect x="598.94" y="137.24" width="10.13" height="10.07" fill="#e44f64"/>
<rect x="608.77" y="137.24" width="10.13" height="10.07" fill="#fecf92"/>
<rect x="618.6" y="137.24" width="29.79" height="10.07" fill="#fcfdbf"/>
<rect x="648.09" y="137.24" width="10.13" height="10.07" fill="#fecf92"/>
<rect x="657.92" y="137.24" width="10.13" height="10.07" fill="#a1307e"/>
<rect x="667.75" y="137.24" width="10.13" height="10.07" fill="#5c167f"/>
<rect x="677.58" y="137.24" width="10.13" height="10.07" fill="#331067"/>
<rect x="687.41" y="137.24" width="10.13" height="10.07" fill="#1a1042"/>
<rect x="697.24" y="137.24" width="10.13" height="10.07" fill="#0e0b2b"/>
<rect x="707.07" y="137.24" width="29.79" height="10.07" fill="#0b0924"/>
<rect x="736.56" y="137.24" width="10.13" height="10.07" fill="#120d31"/>
<rect x="746.39" y="137.24" width="10.13" height="10.07" fill="#140e36"/>
<rect x="520.3" y="147.01" width="10.13" height="10.07" fill="#3b0f70"/>
<rect x="530.13" y="147.01" width="10.13" height="10.07" fill="#29115a"/>
<rect x="539.96" y="147.01" width="10.13" height="10.07" fill="#1a1042"/>
<rect x="549.79" y="147.01" width="10.13" height="10.07" fill="#120d31"/>
<rect x="559.62" y="147.01" width="10.13" height="10.07" fill="#140e36"/>
<rect x="569.45" y="147.01" width="10.13" height="10.07" fill="#29115a"/>
<rect x="579.28" y="147.01" width="10.13" height="10.07" fill="#471078"/>
<rect x="589.11" y="147.01" width="10.13" height="10.07" fill="#782281"/>
<rect x="598.94" y="147.01" width="10.13" height="10.07" fill="#c23b75"/>
<rect x="608.77" y="147.01" width="10.13" height="10.07" fill="#fea571"/>
<rect x="618.6" y="147.01" width="10.13" height="10.07" fill="#fcf0b2"/>
<rect x="628.43" y="147.01" width="10.13" height="10.07" fill="#fcfdbf"/>
<rect x="638.26" y="147.01" width="10.13" height="10.07" fill="#fde7a9"/>
<rect x="648.09" y="147.01" width="10.13" height="10.07" fill="#e44f64"/>
<rect x="657.92" y="147.01" width="10.13" height="10.07" fill="#802582"/>
<rect x="667.75" y="147.01" width="10.13" height="10.07" fill="#51127c"/>
<rect x="677.58" y="147.01" width="10.13" height="10.07" fill="#331067"/>
<rect x="687.41" y="147.01" width="10.13" height="10.07" fill="#1a1042"/>
<rect x="697.24" y="147.01" width="10.13" height="10.07" fill="#0e0b2b"/>
<rect x="707.07" y="147.01" width="29.79" height="10.07" fill="#0b0924"/>
<rect x="736.56" y="147.01" width="10.13" height="10.07" fill="#120d31"/>
<rect x="746.39" y="147.01" width="10.13" height="10.07" fill="#140e36"/>
<rect x="520.3" y="156.78" width="10.13" height="10.07" fill="#331067"/>
<rect x="530.13" y="156.78" width="10.13" height="10.07" fill="#251255"/>
<rect x="539.96" y="156.78" width="10.13" height="10.07" fill="#180f3d"/>
<rect x="549.79" y="156.78" width="10.13" height="10.07" fill="#120d31"/>
<rect x="559.62" y="156.78" width="10.13" height="10.07" fill="#140e36"/>
<rect x="569.45" y="156.78" width="10.13" height="10.07" fill="#251255"/>
<rect x="579.28" y="156.78" width="10.13" height="10.07" fill="#3f0f72"/>
<rect x="589.11" y="156.78" width="10.13" height="10.07" fill="#601880"/>
<rect x="598.94" y="156.78" width="10.13" height="10.07" fill="#8c2981"/>
<rect x="608.77" y="156.78" width="10.13" height="10.07" fill="#cf4070"/>
<rect x="618.6" y="156.78" width="10.13" height="10.07" fill="#ed5a5f"/>
<rect x="628.43" y="156.78" width="10.13" height="10.07" fill="#f4675c"/>
<rect x="638.26" y="156.78" width="10.13" height="10.07" fill="#d6456c"/>
<rect x="648.09" y="156.78" width="10.13" height="10.07" fill="#942c80"/>
<rect x="657.92" y="156.78" width="10.13" height="10.07" fill="#5c167f"/>
<rect x="667.75" y="156.78" width="10.13" height="10.07" fill="#3f0f72"/>
<rect x="677.58" y="156.78" width="10.13" height="10.07" fill="#251255"/>
<rect x="687.41" y="156.78" width="10.13" height="10.07" fill="#140e36"/>
<rect x="697.24" y="156.78" width="10.13" height="10.07" fill="#0e0b2b"/>
<rect x="707.07" y="156.78" width="29.79" height="10.07" fill="#0b0924"/>
<rect x="736.56" y="156.78" width="10.13" height="10.07" fill="#120d31"/>
<rect x="746.39" y="156.78" width="10.13" height="10.07" fill="#140e36"/>
<rect x="520.3" y="166.55" width="10.13" height="10.07" fill="#2d1161"/>
<rect x="530.13" y="166.55" width="10.13" height="10.07" fill="#21114e"/>
<rect x="539.96" y="166.55" width="10.13" height="10.07" fill="#140e36"/>
<rect x="549.79" y="166.55" width="10.13" height="10.07" fill="#0e0b2b"/>
<rect x="559.62" y="166.55" width="10.13" height="10.07" fill="#140e36"/>
<rect x="569.45" y="166.55" width="10.13" height="10.07" fill="#1e1149"/>
<rect x="579.28" y="166.55" width="10.13" height="10.07" fill="#2d1161"/>
<rect x="589.11" y="166.55" width="10.13" height="10.07" fill="#440f76"/>
<rect x="598.94" y="166.55" width="10.13" height="10.07" fill="#5c167f"/>
<rect x="608.77" y="166.55" width="10.13" height="10.07" fill="#782281"/>
<rect x="618.6" y="166.55" width="10.13" height="10.07" fill="#8c2981"/>
<rect x="628.43" y="166.55" width="10.13" height="10.07" fill="#842681"/>
<rect x="638.26" y="166.55" width="10.13" height="10.07" fill="#6b1d81"/>
<rect x="648.09" y="166.55" width="10.13" height="10.07" fill="#51127c"/>
<rect x="657.92" y="166.55" width="10.13" height="10.07" fill="#3b0f70"/>
<rect x="667.75" y="166.55" width="10.13" height="10.07" fill="#251255"/>
<rect x="677.58" y="166.55" width="10.13" height="10.07" fill="#1a1042"/>
<rect x="687.41" y="166.55" width="10.13" height="10.07" fill="#120d31"/>
<rect x="697.24" y="166.55" width="39.62" height="10.07" fill="#0b0924"/>
<rect x="736.56" y="166.55" width="10.13" height="10.07" fill="#120d31"/>
<rect x="746.39" y="166.55" width="10.13" height="10.07" fill="#140e36"/>
<rect x="520.3" y="176.32" width="10.13" height="10.07" fill="#251255"/>
<rect x="530.13" y="176.32" width="10.13" height="10.07" fill="#1e1149"/>
<rect x="539.96" y="176.32" width="10.13" height="10.07" fill="#140e36"/>
<rect x="549.79" y="176.32" width="19.96" height="10.07" fill="#0e0b2b"/>
<rect x="569.45" y="176.32" width="10.13" height="10.07" fill="#140e36"/>
<rect x="579.28" y="176.32" width="10.13" height="10.07" fill="#1a1042"/>
<rect x="589.11" y="176.32" width="10.13" height="10.07" fill="#251255"/>
<rect x="598.94" y="176.32" width="10.13" height="10.07" fill="#3b0f70"/>
<rect x="608.77" y="176.32" width="19.96" height="10.07" fill="#51127c"/>
<rect x="628.43" y="176.32" width="10.13" height="10.07" fill="#440f76"/>
<rect x="638.26" y="176.32" width="10.13" height="10.07" fill="#331067"/>
<rect x="648.09" y="176.32" width="10.13" height="10.07" fill="#21114e"/>
<rect x="657.92" y="176.32" width="10.13" height="10.07" fill="#1a1042"/>
<rect x="667.75" y="176.32" width="10.13" height="10.07" fill="#140e36"/>
<rect x="677.58" y="176.32" width="10.13" height="10.07" fill="#120d31"/>
<rect x="687.41" y="176.32" width="10.13" height="10.07" fill="#0b0924"/>
<rect x="697.24" y="176.32" width="39.62" height="10.07" fill="#090720"/>
<rect x="736.56" y="176.32" width="10.13" height="10.07" fill="#120d31"/>
<rect x="746.39" y="176.32" width="10.13" height="10.07" fill="#140e36"/>
<rect x="520.3" y="186.09" width="10.13" height="10.07" fill="#1e1149"/>
<rect x="530.13" y="186.09" width="10.13" height="10.07" fill="#1a1042"/>
<rect x="539.96" y="186.09" width="10.13" height="10.07" fill="#180f3d"/>
<rect x="549.79" y="186.09" width="10.13" height="10.07" fill="#140e36"/>
<rect x="559.62" y="186.09" width="29.79" height="10.07" fill="#0b0924"/>
<rect x="589.11" y="186.09" width="10.13" height="10.07" fill="#140e36"/>
<rect x="598.94" y="186.09" width="10.13" height="10.07" fill="#21114e"/>
<rect x="608.77" y="186.09" width="10.13" height="10.07" fill="#331067"/>
<rect x="618.6" y="186.09" width="10.13" height="10.07" fill="#21114e"/>
<rect x="628.43" y="186.09" width="10.13" height="10.07" fill="#1a1042"/>
<rect x="638.26" y="186.09" width="10.13" height="10.07" fill="#0e0b2b"/>
<rect x="648.09" y="186.09" width="10.13" height="10.07" fill="#0b0924"/>
<rect x="657.92" y="186.09" width="78.94" height="10.07" fill="#090720"/>
<rect x="736.56" y="186.09" width="10.13" height="10.07" fill="#120d31"/>
<rect x="746.39" y="186.09" width="10.13" height="10.07" fill="#140e36"/>
<rect x="520.3" y="195.86" width="10.13" height="10.07" fill="#1e1149"/>
<rect x="530.13" y="195.86" width="19.96" height="10.07" fill="#1a1042"/>
<rect x="549.79" y="195.86" width="10.13" height="10.07" fill="#180f3d"/>
<rect x="559.62" y="195.86" width="10.13" height="10.07" fill="#0b0924"/>
<rect x="569.45" y="195.86" width="19.96" height="10.07" fill="#090720"/>
<rect x="589.11" y="195.86" width="10.13" height="10.07" fill="#0b0924"/>
<rect x="598.94" y="195.86" width="19.96" height="10.07" fill="#140e36"/>
<rect x="618.6" y="195.86" width="10.13" height="10.07" fill="#0e0b2b"/>
<rect x="628.43" y="195.86" width="108.43" height="10.07" fill="#090720"/>
<rect x="736.56" y="195.86" width="10.13" height="10.07" fill="#120d31"/>
<rect x="746.39" y="195.86" width="10.13" height="10.07" fill="#140e36"/>
<rect x="520.3" y="205.63" width="29.79" height="10.07" fill="#1e1149"/>
<rect x="549.79" y="205.63" width="39.62" height="10.07" fill="#1a1042"/>
<rect x="589.11" y="205.63" width="29.79" height="10.07" fill="#140e36"/>
<rect x="618.6" y="205.63" width="88.77" height="10.07" fill="#06051a"/>
<rect x="707.07" y="205.63" width="29.79" height="10.07" fill="#0e0b2b"/>
<rect x="736.56" y="205.63" width="19.96" height="10.07" fill="#140e36"/>
<rect x="520.3" y="215.4" width="39.62" height="10.07" fill="#1e1149"/>
<rect x="559.62" y="215.4" width="29.79" height="10.07" fill="#1a1042"/>
<rect x="589.11" y="215.4" width="29.79" height="10.07" fill="#140e36"/>
<rect x="618.6" y="215.4" width="88.77" height="10.07" fill="#06051a"/>
<rect x="707.07" y="215.4" width="29.79" height="10.07" fill="#0e0b2b"/>
<rect x="736.56" y="215.4" width="19.96" height="10.07" fill="#140e36"/>
<rect x="520.3" y="225.17" width="39.62" height="10.07" fill="#1e1149"/>
<rect x="559.62" y="225.17" width="29.79" height="10.07" fill="#1a1042"/>
<rect x="589.11" y="225.17" width="29.79" height="10.07" fill="#140e36"/>
<rect x="618.6" y="225.17" width="88.77" height="10.07" fill="#06051a"/>
<rect x="707.07" y="225.17" width="29.79" height="10.07" fill="#0e0b2b"/>
<rect x="736.56" y="225.17" width="19.96" height="10.07" fill="#140e36"/>
<rect x="520.3" y="234.94" width="29.79" height="10.07" fill="#21114e"/>
<rect x="549.79" y="234.94" width="29.79" height="10.07" fill="#1e1149"/>
<rect x="579.28" y="234.94" width="39.62" height="10.07" fill="#1a1042"/>
<rect x="618.6" y="234.94" width="137.92" height="10.07" fill="#180f3d"/>
<rect x="520.3" y="244.71" width="29.79" height="10.07" fill="#21114e"/>
<rect x="549.79" y="244.71" width="29.79" height="10.07" fill="#1e1149"/>
<rect x="579.28" y="244.71" width="177.24" height="10.07" fill="#1a1042"/>
</g>
<rect x="754.7" y="24.6" width="1" height="6" fill="#8a8a8a"/>
<rect x="39" y="18.3" width="229" height="4.85" fill="url(#mg)"/>
<rect x="39.2" y="18.5" width="228.6" height="4.45" fill="none" stroke="#2a2a2a" stroke-width="0.45"/>
<rect x="285.4" y="15.2" width="232.2" height="5.5" fill="url(#mg)"/>
<rect x="285.6" y="15.4" width="231.8" height="5.1" fill="none" stroke="#2a2a2a" stroke-width="0.45"/>
<rect x="526.9" y="18.3" width="228.6" height="4.85" fill="url(#mg)"/>
<rect x="527.1" y="18.5" width="228.2" height="4.45" fill="none" stroke="#2a2a2a" stroke-width="0.45"/>
<g fill="none" stroke="#fff" stroke-width="1">
<rect x="74.5" y="170.5" width="29" height="30"/>
<rect x="103.5" y="170.5" width="29" height="30"/>
<rect x="132.5" y="170.5" width="29" height="30"/>
<rect x="161.5" y="170.5" width="29" height="30"/>
<rect x="190.5" y="170.5" width="29" height="30"/>
<rect x="219.5" y="170.5" width="29" height="30"/>
<rect x="74.5" y="141.5" width="29" height="29"/>
<rect x="103.5" y="141.5" width="29" height="29"/>
<rect x="132.5" y="141.5" width="29" height="29"/>
<rect x="161.5" y="141.5" width="29" height="29"/>
<rect x="190.5" y="141.5" width="29" height="29"/>
<rect x="219.5" y="141.5" width="29" height="29"/>
<rect x="74.5" y="112.5" width="29" height="29"/>
<rect x="103.5" y="112.5" width="29" height="29"/>
<rect x="132.5" y="112.5" width="29" height="29"/>
<rect x="161.5" y="112.5" width="29" height="29"/>
<rect x="190.5" y="112.5" width="29" height="29"/>
<rect x="219.5" y="112.5" width="29" height="29"/>
<rect x="74.5" y="83.5" width="29" height="29"/>
<rect x="103.5" y="83.5" width="29" height="29"/>
<rect x="132.5" y="83.5" width="29" height="29"/>
<rect x="161.5" y="83.5" width="29" height="29"/>
<rect x="190.5" y="83.5" width="29" height="29"/>
<rect x="219.5" y="83.5" width="29" height="29"/>
<rect x="74.5" y="54.5" width="29" height="29"/>
<rect x="103.5" y="54.5" width="29" height="29"/>
<rect x="132.5" y="54.5" width="29" height="29"/>
<rect x="132.5" y="200.5" width="29" height="29"/>
<rect x="161.5" y="200.5" width="29" height="29"/>
<rect x="190.5" y="200.5" width="29" height="29"/>
</g>
<g fill="none" stroke="#0a9a96" stroke-width="1.1" stroke-dasharray="3.7 1.7">
<line x1="103.5" y1="200.5" x2="103.5" y2="229.5"/>
<line x1="103.5" y1="200.5" x2="132.5" y2="200.5"/>
<line x1="103.5" y1="229.5" x2="132.5" y2="229.5"/>
<line x1="132.5" y1="25.5" x2="132.5" y2="54.5"/>
<line x1="132.5" y1="25.5" x2="161.5" y2="25.5"/>
<line x1="132.5" y1="54.5" x2="161.5" y2="54.5"/>
<line x1="132.5" y1="200.5" x2="132.5" y2="229.5"/>
<line x1="161.5" y1="25.5" x2="161.5" y2="54.5"/>
<line x1="161.5" y1="25.5" x2="190.5" y2="25.5"/>
<line x1="161.5" y1="54.5" x2="161.5" y2="83.5"/>
<line x1="161.5" y1="54.5" x2="190.5" y2="54.5"/>
<line x1="161.5" y1="83.5" x2="190.5" y2="83.5"/>
<line x1="190.5" y1="25.5" x2="190.5" y2="54.5"/>
<line x1="190.5" y1="25.5" x2="219.5" y2="25.5"/>
<line x1="190.5" y1="54.5" x2="190.5" y2="83.5"/>
<line x1="190.5" y1="54.5" x2="219.5" y2="54.5"/>
<line x1="190.5" y1="83.5" x2="219.5" y2="83.5"/>
<line x1="219.5" y1="25.5" x2="219.5" y2="54.5"/>
<line x1="219.5" y1="54.5" x2="219.5" y2="83.5"/>
<line x1="219.5" y1="54.5" x2="248.5" y2="54.5"/>
<line x1="219.5" y1="83.5" x2="248.5" y2="83.5"/>
<line x1="219.5" y1="200.5" x2="219.5" y2="229.5"/>
<line x1="219.5" y1="200.5" x2="248.5" y2="200.5"/>
<line x1="219.5" y1="229.5" x2="248.5" y2="229.5"/>
<line x1="248.5" y1="54.5" x2="248.5" y2="83.5"/>
<line x1="248.5" y1="200.5" x2="248.5" y2="229.5"/>
</g>
<g font-size="6.8">
<text x="77" y="179.4" fill="#fff">1-1</text>
<text x="106" y="179.4" fill="#fff">2-1</text>
<text x="135" y="179.4" fill="#fff">3-1</text>
<text x="164" y="179.4" fill="#fff">4-1</text>
<text x="193" y="179.4" fill="#fff">5-1</text>
<text x="222" y="179.4" fill="#fff">6-1</text>
<text x="77" y="150.4" fill="#fff">1-2</text>
<text x="106" y="150.4" fill="#fff">2-2</text>
<text x="135" y="150.4" fill="#fff">3-2</text>
<text x="164" y="150.4" fill="#fff">4-2</text>
<text x="193" y="150.4" fill="#fff">5-2</text>
<text x="222" y="150.4" fill="#fff">6-2</text>
<text x="77" y="121.4" fill="#fff">1-3</text>
<text x="106" y="121.4" fill="#fff">2-3</text>
<text x="135" y="121.4" fill="#fff">3-3</text>
<text x="164" y="121.4" fill="#fff">4-3</text>
<text x="193" y="121.4" fill="#fff">5-3</text>
<text x="222" y="121.4" fill="#fff">6-3</text>
<text x="77" y="92.4" fill="#fff">1-4</text>
<text x="106" y="92.4" fill="#fff">2-4</text>
<text x="135" y="92.4" fill="#fff">3-4</text>
<text x="164" y="92.4" fill="#fff">4-4</text>
<text x="193" y="92.4" fill="#fff">5-4</text>
<text x="222" y="92.4" fill="#fff">6-4</text>
<text x="77" y="63.4" fill="#fff">1-5</text>
<text x="106" y="63.4" fill="#fff">2-5</text>
<text x="135" y="63.4" fill="#fff">3-5</text>
<text x="135" y="209.4" fill="#fff">3-0</text>
<text x="164" y="209.4" fill="#fff">4-0</text>
<text x="193" y="209.4" fill="#fff">5-0</text>
<text x="135" y="35" fill="#0a9a96">3-6</text>
<text x="164" y="35" fill="#0a9a96">4-6</text>
<text x="193" y="35" fill="#0a9a96">5-6</text>
<text x="164" y="64" fill="#0a9a96">4-5</text>
<text x="193" y="64" fill="#0a9a96">5-5</text>
<text x="222" y="64" fill="#0a9a96">6-5</text>
<text x="106" y="210" fill="#0a9a96">2-0</text>
<text x="222" y="210" fill="#0a9a96">6-0</text>
</g>
<g fill="none" stroke="#fff" stroke-width="1">
<rect x="320.5" y="173.5" width="30" height="29"/>
<rect x="350.5" y="173.5" width="29" height="29"/>
<rect x="379.5" y="173.5" width="29" height="29"/>
<rect x="408.5" y="173.5" width="30" height="29"/>
<rect x="438.5" y="173.5" width="29" height="29"/>
<rect x="467.5" y="173.5" width="30" height="29"/>
<rect x="320.5" y="143.5" width="30" height="30"/>
<rect x="350.5" y="143.5" width="29" height="30"/>
<rect x="379.5" y="143.5" width="29" height="30"/>
<rect x="408.5" y="143.5" width="30" height="30"/>
<rect x="438.5" y="143.5" width="29" height="30"/>
<rect x="467.5" y="143.5" width="30" height="30"/>
<rect x="320.5" y="114.5" width="30" height="29"/>
<rect x="350.5" y="114.5" width="29" height="29"/>
<rect x="379.5" y="114.5" width="29" height="29"/>
<rect x="408.5" y="114.5" width="30" height="29"/>
<rect x="438.5" y="114.5" width="29" height="29"/>
<rect x="467.5" y="114.5" width="30" height="29"/>
<rect x="320.5" y="84.5" width="30" height="30"/>
<rect x="350.5" y="84.5" width="29" height="30"/>
<rect x="379.5" y="84.5" width="29" height="30"/>
<rect x="408.5" y="84.5" width="30" height="30"/>
<rect x="438.5" y="84.5" width="29" height="30"/>
<rect x="467.5" y="84.5" width="30" height="30"/>
<rect x="320.5" y="55.5" width="30" height="29"/>
<rect x="350.5" y="55.5" width="29" height="29"/>
<rect x="379.5" y="55.5" width="29" height="29"/>
<rect x="379.5" y="202.5" width="29" height="30"/>
<rect x="408.5" y="202.5" width="30" height="30"/>
<rect x="438.5" y="202.5" width="29" height="30"/>
</g>
<g fill="none" stroke="#0a9a96" stroke-width="1.1" stroke-dasharray="3.7 1.7">
<line x1="350.5" y1="202.5" x2="350.5" y2="232.5"/>
<line x1="350.5" y1="202.5" x2="379.5" y2="202.5"/>
<line x1="350.5" y1="232.5" x2="379.5" y2="232.5"/>
<line x1="379.5" y1="25.5" x2="379.5" y2="55.5"/>
<line x1="379.5" y1="25.5" x2="408.5" y2="25.5"/>
<line x1="379.5" y1="55.5" x2="408.5" y2="55.5"/>
<line x1="379.5" y1="202.5" x2="379.5" y2="232.5"/>
<line x1="408.5" y1="25.5" x2="408.5" y2="55.5"/>
<line x1="408.5" y1="25.5" x2="438.5" y2="25.5"/>
<line x1="408.5" y1="55.5" x2="408.5" y2="84.5"/>
<line x1="408.5" y1="55.5" x2="438.5" y2="55.5"/>
<line x1="408.5" y1="84.5" x2="438.5" y2="84.5"/>
<line x1="438.5" y1="25.5" x2="438.5" y2="55.5"/>
<line x1="438.5" y1="25.5" x2="467.5" y2="25.5"/>
<line x1="438.5" y1="55.5" x2="438.5" y2="84.5"/>
<line x1="438.5" y1="55.5" x2="467.5" y2="55.5"/>
<line x1="438.5" y1="84.5" x2="467.5" y2="84.5"/>
<line x1="467.5" y1="25.5" x2="467.5" y2="55.5"/>
<line x1="467.5" y1="55.5" x2="467.5" y2="84.5"/>
<line x1="467.5" y1="55.5" x2="497.5" y2="55.5"/>
<line x1="467.5" y1="84.5" x2="497.5" y2="84.5"/>
<line x1="467.5" y1="202.5" x2="467.5" y2="232.5"/>
<line x1="467.5" y1="202.5" x2="497.5" y2="202.5"/>
<line x1="467.5" y1="232.5" x2="497.5" y2="232.5"/>
<line x1="497.5" y1="55.5" x2="497.5" y2="84.5"/>
<line x1="497.5" y1="202.5" x2="497.5" y2="232.5"/>
</g>
<g font-size="6.8">
<text x="323" y="182.4" fill="#fff">1-1</text>
<text x="353" y="182.4" fill="#fff">2-1</text>
<text x="382" y="182.4" fill="#fff">3-1</text>
<text x="411" y="182.4" fill="#fff">4-1</text>
<text x="441" y="182.4" fill="#fff">5-1</text>
<text x="470" y="182.4" fill="#fff">6-1</text>
<text x="323" y="152.4" fill="#fff">1-2</text>
<text x="353" y="152.4" fill="#fff">2-2</text>
<text x="382" y="152.4" fill="#fff">3-2</text>
<text x="411" y="152.4" fill="#fff">4-2</text>
<text x="441" y="152.4" fill="#fff">5-2</text>
<text x="470" y="152.4" fill="#fff">6-2</text>
<text x="323" y="123.4" fill="#fff">1-3</text>
<text x="353" y="123.4" fill="#fff">2-3</text>
<text x="382" y="123.4" fill="#fff">3-3</text>
<text x="411" y="123.4" fill="#fff">4-3</text>
<text x="441" y="123.4" fill="#fff">5-3</text>
<text x="470" y="123.4" fill="#fff">6-3</text>
<text x="323" y="93.4" fill="#fff">1-4</text>
<text x="353" y="93.4" fill="#fff">2-4</text>
<text x="382" y="93.4" fill="#fff">3-4</text>
<text x="411" y="93.4" fill="#fff">4-4</text>
<text x="441" y="93.4" fill="#fff">5-4</text>
<text x="470" y="93.4" fill="#fff">6-4</text>
<text x="323" y="64.4" fill="#fff">1-5</text>
<text x="353" y="64.4" fill="#fff">2-5</text>
<text x="382" y="64.4" fill="#fff">3-5</text>
<text x="382" y="211.4" fill="#fff">3-0</text>
<text x="411" y="211.4" fill="#fff">4-0</text>
<text x="441" y="211.4" fill="#fff">5-0</text>
<text x="382" y="35" fill="#0a9a96">3-6</text>
<text x="411" y="35" fill="#0a9a96">4-6</text>
<text x="441" y="35" fill="#0a9a96">5-6</text>
<text x="411" y="65" fill="#0a9a96">4-5</text>
<text x="441" y="65" fill="#0a9a96">5-5</text>
<text x="470" y="65" fill="#0a9a96">6-5</text>
<text x="353" y="212" fill="#0a9a96">2-0</text>
<text x="470" y="212" fill="#0a9a96">6-0</text>
</g>
<g fill="none" stroke="#fff" stroke-width="1">
<rect x="562.5" y="174.5" width="29" height="29"/>
<rect x="591.5" y="174.5" width="29" height="29"/>
<rect x="620.5" y="174.5" width="29" height="29"/>
<rect x="649.5" y="174.5" width="30" height="29"/>
<rect x="679.5" y="174.5" width="29" height="29"/>
<rect x="708.5" y="174.5" width="29" height="29"/>
<rect x="562.5" y="145.5" width="29" height="29"/>
<rect x="591.5" y="145.5" width="29" height="29"/>
<rect x="620.5" y="145.5" width="29" height="29"/>
<rect x="649.5" y="145.5" width="30" height="29"/>
<rect x="679.5" y="145.5" width="29" height="29"/>
<rect x="708.5" y="145.5" width="29" height="29"/>
<rect x="562.5" y="116.5" width="29" height="29"/>
<rect x="591.5" y="116.5" width="29" height="29"/>
<rect x="620.5" y="116.5" width="29" height="29"/>
<rect x="649.5" y="116.5" width="30" height="29"/>
<rect x="679.5" y="116.5" width="29" height="29"/>
<rect x="708.5" y="116.5" width="29" height="29"/>
<rect x="562.5" y="87.5" width="29" height="29"/>
<rect x="591.5" y="87.5" width="29" height="29"/>
<rect x="620.5" y="87.5" width="29" height="29"/>
<rect x="649.5" y="87.5" width="30" height="29"/>
<rect x="679.5" y="87.5" width="29" height="29"/>
<rect x="708.5" y="87.5" width="29" height="29"/>
<rect x="562.5" y="58.5" width="29" height="29"/>
<rect x="591.5" y="58.5" width="29" height="29"/>
<rect x="620.5" y="58.5" width="29" height="29"/>
<rect x="620.5" y="203.5" width="29" height="29"/>
<rect x="649.5" y="203.5" width="30" height="29"/>
<rect x="679.5" y="203.5" width="29" height="29"/>
</g>
<g fill="none" stroke="#0a9a96" stroke-width="1.1" stroke-dasharray="3.7 1.7">
<line x1="591.5" y1="203.5" x2="591.5" y2="232.5"/>
<line x1="591.5" y1="203.5" x2="620.5" y2="203.5"/>
<line x1="591.5" y1="232.5" x2="620.5" y2="232.5"/>
<line x1="620.5" y1="28.5" x2="620.5" y2="58.5"/>
<line x1="620.5" y1="28.5" x2="649.5" y2="28.5"/>
<line x1="620.5" y1="58.5" x2="649.5" y2="58.5"/>
<line x1="620.5" y1="203.5" x2="620.5" y2="232.5"/>
<line x1="649.5" y1="28.5" x2="649.5" y2="58.5"/>
<line x1="649.5" y1="28.5" x2="679.5" y2="28.5"/>
<line x1="649.5" y1="58.5" x2="649.5" y2="87.5"/>
<line x1="649.5" y1="58.5" x2="679.5" y2="58.5"/>
<line x1="649.5" y1="87.5" x2="679.5" y2="87.5"/>
<line x1="679.5" y1="28.5" x2="679.5" y2="58.5"/>
<line x1="679.5" y1="28.5" x2="708.5" y2="28.5"/>
<line x1="679.5" y1="58.5" x2="679.5" y2="87.5"/>
<line x1="679.5" y1="58.5" x2="708.5" y2="58.5"/>
<line x1="679.5" y1="87.5" x2="708.5" y2="87.5"/>
<line x1="708.5" y1="28.5" x2="708.5" y2="58.5"/>
<line x1="708.5" y1="58.5" x2="708.5" y2="87.5"/>
<line x1="708.5" y1="58.5" x2="737.5" y2="58.5"/>
<line x1="708.5" y1="87.5" x2="737.5" y2="87.5"/>
<line x1="708.5" y1="203.5" x2="708.5" y2="232.5"/>
<line x1="708.5" y1="203.5" x2="737.5" y2="203.5"/>
<line x1="708.5" y1="232.5" x2="737.5" y2="232.5"/>
<line x1="737.5" y1="58.5" x2="737.5" y2="87.5"/>
<line x1="737.5" y1="203.5" x2="737.5" y2="232.5"/>
</g>
<g font-size="6.8">
<text x="565" y="183.4" fill="#fff">1-1</text>
<text x="594" y="183.4" fill="#fff">2-1</text>
<text x="623" y="183.4" fill="#fff">3-1</text>
<text x="652" y="183.4" fill="#fff">4-1</text>
<text x="682" y="183.4" fill="#fff">5-1</text>
<text x="711" y="183.4" fill="#fff">6-1</text>
<text x="565" y="154.4" fill="#fff">1-2</text>
<text x="594" y="154.4" fill="#fff">2-2</text>
<text x="623" y="154.4" fill="#fff">3-2</text>
<text x="652" y="154.4" fill="#fff">4-2</text>
<text x="682" y="154.4" fill="#fff">5-2</text>
<text x="711" y="154.4" fill="#fff">6-2</text>
<text x="565" y="125.4" fill="#fff">1-3</text>
<text x="594" y="125.4" fill="#fff">2-3</text>
<text x="623" y="125.4" fill="#fff">3-3</text>
<text x="652" y="125.4" fill="#fff">4-3</text>
<text x="682" y="125.4" fill="#fff">5-3</text>
<text x="711" y="125.4" fill="#fff">6-3</text>
<text x="565" y="96.4" fill="#fff">1-4</text>
<text x="594" y="96.4" fill="#fff">2-4</text>
<text x="623" y="96.4" fill="#fff">3-4</text>
<text x="652" y="96.4" fill="#fff">4-4</text>
<text x="682" y="96.4" fill="#fff">5-4</text>
<text x="711" y="96.4" fill="#fff">6-4</text>
<text x="565" y="67.4" fill="#fff">1-5</text>
<text x="594" y="67.4" fill="#fff">2-5</text>
<text x="623" y="67.4" fill="#fff">3-5</text>
<text x="623" y="212.4" fill="#fff">3-0</text>
<text x="652" y="212.4" fill="#fff">4-0</text>
<text x="682" y="212.4" fill="#fff">5-0</text>
<text x="623" y="38" fill="#0a9a96">3-6</text>
<text x="652" y="38" fill="#0a9a96">4-6</text>
<text x="682" y="38" fill="#0a9a96">5-6</text>
<text x="652" y="68" fill="#0a9a96">4-5</text>
<text x="682" y="68" fill="#0a9a96">5-5</text>
<text x="711" y="68" fill="#0a9a96">6-5</text>
<text x="594" y="213" fill="#0a9a96">2-0</text>
<text x="711" y="213" fill="#0a9a96">6-0</text>
</g>
<g fill="#fff" font-size="11.3">
<text x="45.7" y="41.1">PAH 3.3</text>
<text x="292.5" y="39.0">[NeII]</text>
<text x="534" y="41.6">[NeIII]/[NeII]</text>
</g>
<rect x="45" y="238" width="49.1" height="1" fill="#fff"/>
<text x="67.7" y="234.9" fill="#fff" font-size="7" text-anchor="middle">1"</text>
<text x="69.9" y="245.7" fill="#fff" font-size="7" text-anchor="middle">330 pc</text>
<rect x="291.75" y="237.8" width="49.5" height="1" fill="#fff"/>
<text x="315" y="234.7" fill="#fff" font-size="7" text-anchor="middle">1"</text>
<text x="316.8" y="245.5" fill="#fff" font-size="7" text-anchor="middle">330 pc</text>
<rect x="533.3" y="237.8" width="48.7" height="1" fill="#fff"/>
<text x="556" y="234.7" fill="#fff" font-size="7" text-anchor="middle">1"</text>
<text x="558" y="245.5" fill="#fff" font-size="7" text-anchor="middle">330 pc</text>
<g fill="#000" stroke="#000" stroke-width="0.12" font-size="5.9" text-anchor="middle" font-family="DejaVu Sans,Liberation Sans,sans-serif">
<text x="39" y="14.7">0</text>
<text x="77.17" y="14.7">50</text>
<text x="115.33" y="14.7">100</text>
<text x="153.5" y="14.7">150</text>
<text x="191.67" y="14.7">200</text>
<text x="229.83" y="14.7">250</text>
<text x="268" y="14.7">300</text>
<text x="285.5" y="11.8">0</text>
<text x="328.9" y="11.8">5000</text>
<text x="372.3" y="11.8">10000</text>
<text x="415.7" y="11.8">15000</text>
<text x="459.1" y="11.8">20000</text>
<text x="502.5" y="11.8">25000</text>
<text x="545.3" y="14.7">0.1</text>
<text x="571.6" y="14.7">0.2</text>
<text x="597.9" y="14.7">0.3</text>
<text x="624.2" y="14.7">0.4</text>
<text x="650.5" y="14.7">0.5</text>
<text x="676.8" y="14.7">0.6</text>
<text x="703.1" y="14.7">0.7</text>
<text x="729.4" y="14.7">0.8</text>
<text x="755.7" y="14.7">0.9</text>
</g>
<g stroke="#222" stroke-width="0.6">
<line x1="39" y1="16.9" x2="39" y2="18.3"/><line x1="39" y1="23" x2="39" y2="24.4"/>
<line x1="77.17" y1="16.9" x2="77.17" y2="18.3"/><line x1="77.17" y1="23" x2="77.17" y2="24.4"/>
<line x1="115.33" y1="16.9" x2="115.33" y2="18.3"/><line x1="115.33" y1="23" x2="115.33" y2="24.4"/>
<line x1="153.5" y1="16.9" x2="153.5" y2="18.3"/><line x1="153.5" y1="23" x2="153.5" y2="24.4"/>
<line x1="191.67" y1="16.9" x2="191.67" y2="18.3"/><line x1="191.67" y1="23" x2="191.67" y2="24.4"/>
<line x1="229.83" y1="16.9" x2="229.83" y2="18.3"/><line x1="229.83" y1="23" x2="229.83" y2="24.4"/>
<line x1="268" y1="16.9" x2="268" y2="18.3"/><line x1="268" y1="23" x2="268" y2="24.4"/>
<line x1="285.5" y1="13.8" x2="285.5" y2="15.2"/><line x1="285.5" y1="20.7" x2="285.5" y2="21.9"/>
<line x1="328.9" y1="13.8" x2="328.9" y2="15.2"/><line x1="328.9" y1="20.7" x2="328.9" y2="21.9"/>
<line x1="372.3" y1="13.8" x2="372.3" y2="15.2"/><line x1="372.3" y1="20.7" x2="372.3" y2="21.9"/>
<line x1="415.7" y1="13.8" x2="415.7" y2="15.2"/><line x1="415.7" y1="20.7" x2="415.7" y2="21.9"/>
<line x1="459.1" y1="13.8" x2="459.1" y2="15.2"/><line x1="459.1" y1="20.7" x2="459.1" y2="21.9"/>
<line x1="502.5" y1="13.8" x2="502.5" y2="15.2"/><line x1="502.5" y1="20.7" x2="502.5" y2="21.9"/>
<line x1="545.3" y1="16.9" x2="545.3" y2="18.3"/><line x1="545.3" y1="23" x2="545.3" y2="24.4"/>
<line x1="571.6" y1="16.9" x2="571.6" y2="18.3"/><line x1="571.6" y1="23" x2="571.6" y2="24.4"/>
<line x1="597.9" y1="16.9" x2="597.9" y2="18.3"/><line x1="597.9" y1="23" x2="597.9" y2="24.4"/>
<line x1="624.2" y1="16.9" x2="624.2" y2="18.3"/><line x1="624.2" y1="23" x2="624.2" y2="24.4"/>
<line x1="650.5" y1="16.9" x2="650.5" y2="18.3"/><line x1="650.5" y1="23" x2="650.5" y2="24.4"/>
<line x1="676.8" y1="16.9" x2="676.8" y2="18.3"/><line x1="676.8" y1="23" x2="676.8" y2="24.4"/>
<line x1="703.1" y1="16.9" x2="703.1" y2="18.3"/><line x1="703.1" y1="23" x2="703.1" y2="24.4"/>
<line x1="729.4" y1="16.9" x2="729.4" y2="18.3"/><line x1="729.4" y1="23" x2="729.4" y2="24.4"/>
<line x1="755.7" y1="16.9" x2="755.7" y2="18.3"/><line x1="755.7" y1="23" x2="755.7" y2="24.4"/>
</g>
<g fill="#000" stroke="#000" stroke-width="0.15" font-size="7.2" text-anchor="middle">
<text x="153.8" y="8.5">MJy / sr</text>
<text x="401.9" y="5.5">MJy / sr</text>
<text x="641.9" y="8.2">MJy / sr</text>
<text x="154" y="270.6">RA (ICRS)</text>
<text x="401" y="270.6">RA (ICRS)</text>
<text x="641.2" y="270.6">RA (ICRS)</text>
<text transform="translate(5.6,138.4) rotate(-90)" font-size="6.9">Dec (ICRS)</text>
</g>
<g stroke="#555" stroke-width="0.5">
<line x1="42.1" y1="253.3" x2="42.1" y2="254.2"/>
<line x1="56.5" y1="253.3" x2="56.5" y2="254.2"/>
<line x1="70.9" y1="253.3" x2="70.9" y2="254.2"/>
<line x1="85.3" y1="253.3" x2="85.3" y2="254.2"/>
<line x1="99.7" y1="253.3" x2="99.7" y2="254.2"/>
<line x1="114.1" y1="253.3" x2="114.1" y2="254.2"/>
<line x1="128.5" y1="253.3" x2="128.5" y2="254.2"/>
<line x1="142.9" y1="253.3" x2="142.9" y2="254.2"/>
<line x1="157.3" y1="253.3" x2="157.3" y2="254.2"/>
<line x1="171.7" y1="253.3" x2="171.7" y2="254.2"/>
<line x1="186.1" y1="253.3" x2="186.1" y2="254.2"/>
<line x1="200.5" y1="253.3" x2="200.5" y2="254.2"/>
<line x1="214.9" y1="253.3" x2="214.9" y2="254.2"/>
<line x1="229.3" y1="253.3" x2="229.3" y2="254.2"/>
<line x1="243.7" y1="253.3" x2="243.7" y2="254.2"/>
<line x1="258.1" y1="253.3" x2="258.1" y2="254.2"/>
<line x1="38.1" y1="33.16" x2="39" y2="33.16"/>
<line x1="38.1" y1="42.9" x2="39" y2="42.9"/>
<line x1="38.1" y1="52.64" x2="39" y2="52.64"/>
<line x1="38.1" y1="62.38" x2="39" y2="62.38"/>
<line x1="38.1" y1="72.12" x2="39" y2="72.12"/>
<line x1="38.1" y1="81.86" x2="39" y2="81.86"/>
<line x1="38.1" y1="91.6" x2="39" y2="91.6"/>
<line x1="38.1" y1="101.34" x2="39" y2="101.34"/>
<line x1="38.1" y1="111.08" x2="39" y2="111.08"/>
<line x1="38.1" y1="120.82" x2="39" y2="120.82"/>
<line x1="38.1" y1="130.56" x2="39" y2="130.56"/>
<line x1="38.1" y1="140.3" x2="39" y2="140.3"/>
<line x1="38.1" y1="150.04" x2="39" y2="150.04"/>
<line x1="38.1" y1="159.78" x2="39" y2="159.78"/>
<line x1="38.1" y1="169.52" x2="39" y2="169.52"/>
<line x1="38.1" y1="179.26" x2="39" y2="179.26"/>
<line x1="38.1" y1="189" x2="39" y2="189"/>
<line x1="38.1" y1="198.74" x2="39" y2="198.74"/>
<line x1="38.1" y1="208.48" x2="39" y2="208.48"/>
<line x1="38.1" y1="218.22" x2="39" y2="218.22"/>
<line x1="38.1" y1="227.96" x2="39" y2="227.96"/>
<line x1="38.1" y1="237.7" x2="39" y2="237.7"/>
<line x1="38.1" y1="247.44" x2="39" y2="247.44"/>
<line x1="288.9" y1="253.3" x2="288.9" y2="254.2"/>
<line x1="303.3" y1="253.3" x2="303.3" y2="254.2"/>
<line x1="317.7" y1="253.3" x2="317.7" y2="254.2"/>
<line x1="332.1" y1="253.3" x2="332.1" y2="254.2"/>
<line x1="346.5" y1="253.3" x2="346.5" y2="254.2"/>
<line x1="360.9" y1="253.3" x2="360.9" y2="254.2"/>
<line x1="375.3" y1="253.3" x2="375.3" y2="254.2"/>
<line x1="389.7" y1="253.3" x2="389.7" y2="254.2"/>
<line x1="404.1" y1="253.3" x2="404.1" y2="254.2"/>
<line x1="418.5" y1="253.3" x2="418.5" y2="254.2"/>
<line x1="432.9" y1="253.3" x2="432.9" y2="254.2"/>
<line x1="447.3" y1="253.3" x2="447.3" y2="254.2"/>
<line x1="461.7" y1="253.3" x2="461.7" y2="254.2"/>
<line x1="476.1" y1="253.3" x2="476.1" y2="254.2"/>
<line x1="490.5" y1="253.3" x2="490.5" y2="254.2"/>
<line x1="504.9" y1="253.3" x2="504.9" y2="254.2"/>
<line x1="284.5" y1="23.42" x2="285.4" y2="23.42"/>
<line x1="284.5" y1="33.16" x2="285.4" y2="33.16"/>
<line x1="284.5" y1="42.9" x2="285.4" y2="42.9"/>
<line x1="284.5" y1="52.64" x2="285.4" y2="52.64"/>
<line x1="284.5" y1="62.38" x2="285.4" y2="62.38"/>
<line x1="284.5" y1="72.12" x2="285.4" y2="72.12"/>
<line x1="284.5" y1="81.86" x2="285.4" y2="81.86"/>
<line x1="284.5" y1="91.6" x2="285.4" y2="91.6"/>
<line x1="284.5" y1="101.34" x2="285.4" y2="101.34"/>
<line x1="284.5" y1="111.08" x2="285.4" y2="111.08"/>
<line x1="284.5" y1="120.82" x2="285.4" y2="120.82"/>
<line x1="284.5" y1="130.56" x2="285.4" y2="130.56"/>
<line x1="284.5" y1="140.3" x2="285.4" y2="140.3"/>
<line x1="284.5" y1="150.04" x2="285.4" y2="150.04"/>
<line x1="284.5" y1="159.78" x2="285.4" y2="159.78"/>
<line x1="284.5" y1="169.52" x2="285.4" y2="169.52"/>
<line x1="284.5" y1="179.26" x2="285.4" y2="179.26"/>
<line x1="284.5" y1="189" x2="285.4" y2="189"/>
<line x1="284.5" y1="198.74" x2="285.4" y2="198.74"/>
<line x1="284.5" y1="208.48" x2="285.4" y2="208.48"/>
<line x1="284.5" y1="218.22" x2="285.4" y2="218.22"/>
<line x1="284.5" y1="227.96" x2="285.4" y2="227.96"/>
<line x1="284.5" y1="237.7" x2="285.4" y2="237.7"/>
<line x1="284.5" y1="247.44" x2="285.4" y2="247.44"/>
<line x1="529.6" y1="253.3" x2="529.6" y2="254.2"/>
<line x1="544" y1="253.3" x2="544" y2="254.2"/>
<line x1="558.4" y1="253.3" x2="558.4" y2="254.2"/>
<line x1="572.8" y1="253.3" x2="572.8" y2="254.2"/>
<line x1="587.2" y1="253.3" x2="587.2" y2="254.2"/>
<line x1="601.6" y1="253.3" x2="601.6" y2="254.2"/>
<line x1="616" y1="253.3" x2="616" y2="254.2"/>
<line x1="630.4" y1="253.3" x2="630.4" y2="254.2"/>
<line x1="644.8" y1="253.3" x2="644.8" y2="254.2"/>
<line x1="659.2" y1="253.3" x2="659.2" y2="254.2"/>
<line x1="673.6" y1="253.3" x2="673.6" y2="254.2"/>
<line x1="688" y1="253.3" x2="688" y2="254.2"/>
<line x1="702.4" y1="253.3" x2="702.4" y2="254.2"/>
<line x1="716.8" y1="253.3" x2="716.8" y2="254.2"/>
<line x1="731.2" y1="253.3" x2="731.2" y2="254.2"/>
<line x1="745.6" y1="253.3" x2="745.6" y2="254.2"/>
<line x1="526" y1="33.16" x2="526.9" y2="33.16"/>
<line x1="526" y1="42.9" x2="526.9" y2="42.9"/>
<line x1="526" y1="52.64" x2="526.9" y2="52.64"/>
<line x1="526" y1="62.38" x2="526.9" y2="62.38"/>
<line x1="526" y1="72.12" x2="526.9" y2="72.12"/>
<line x1="526" y1="81.86" x2="526.9" y2="81.86"/>
<line x1="526" y1="91.6" x2="526.9" y2="91.6"/>
<line x1="526" y1="101.34" x2="526.9" y2="101.34"/>
<line x1="526" y1="111.08" x2="526.9" y2="111.08"/>
<line x1="526" y1="120.82" x2="526.9" y2="120.82"/>
<line x1="526" y1="130.56" x2="526.9" y2="130.56"/>
<line x1="526" y1="140.3" x2="526.9" y2="140.3"/>
<line x1="526" y1="150.04" x2="526.9" y2="150.04"/>
<line x1="526" y1="159.78" x2="526.9" y2="159.78"/>
<line x1="526" y1="169.52" x2="526.9" y2="169.52"/>
<line x1="526" y1="179.26" x2="526.9" y2="179.26"/>
<line x1="526" y1="189" x2="526.9" y2="189"/>
<line x1="526" y1="198.74" x2="526.9" y2="198.74"/>
<line x1="526" y1="208.48" x2="526.9" y2="208.48"/>
<line x1="526" y1="218.22" x2="526.9" y2="218.22"/>
<line x1="526" y1="227.96" x2="526.9" y2="227.96"/>
<line x1="526" y1="237.7" x2="526.9" y2="237.7"/>
<line x1="526" y1="247.44" x2="526.9" y2="247.44"/>
</g>
<g fill="#000" stroke="#000" stroke-width="0.12" font-size="5.9" text-anchor="middle" font-family="DejaVu Sans,Liberation Sans,sans-serif">
<text x="85.3" y="260.6">23<tspan font-size="4" dy="-2">h</tspan><tspan dy="2">03</tspan><tspan font-size="4" dy="-2">m</tspan><tspan dy="2">15.7</tspan><tspan font-size="4" dy="-2">s</tspan></text>
<text x="157" y="260.6">15.6<tspan font-size="4" dy="-2">s</tspan></text>
<text x="228.7" y="260.6">15.5<tspan font-size="4" dy="-2">s</tspan></text>
</g>
<g fill="#000" stroke="#000" stroke-width="0.12" font-size="5.9" text-anchor="middle" font-family="DejaVu Sans,Liberation Sans,sans-serif">
<text x="332.1" y="260.6">23<tspan font-size="4" dy="-2">h</tspan><tspan dy="2">03</tspan><tspan font-size="4" dy="-2">m</tspan><tspan dy="2">15.7</tspan><tspan font-size="4" dy="-2">s</tspan></text>
<text x="404.8" y="260.6">15.6<tspan font-size="4" dy="-2">s</tspan></text>
<text x="477.4" y="260.6">15.5<tspan font-size="4" dy="-2">s</tspan></text>
</g>
<g fill="#000" stroke="#000" stroke-width="0.12" font-size="5.9" text-anchor="middle" font-family="DejaVu Sans,Liberation Sans,sans-serif">
<text x="572.8" y="260.6">23<tspan font-size="4" dy="-2">h</tspan><tspan dy="2">03</tspan><tspan font-size="4" dy="-2">m</tspan><tspan dy="2">15.7</tspan><tspan font-size="4" dy="-2">s</tspan></text>
<text x="644.6" y="260.6">15.6<tspan font-size="4" dy="-2">s</tspan></text>
<text x="716.4" y="260.6">15.5<tspan font-size="4" dy="-2">s</tspan></text>
</g>
<g fill="#000" stroke="#000" stroke-width="0.12" font-size="5.9" text-anchor="end" font-family="DejaVu Sans,Liberation Sans,sans-serif">
<text x="37.3" y="45.0">8°52'28"</text>
<text x="37.3" y="93.7">27"</text>
<text x="37.3" y="142.4">26"</text>
<text x="37.3" y="191.1">25"</text>
<text x="37.3" y="239.8">24"</text>
</g>
</svg></body></html>
